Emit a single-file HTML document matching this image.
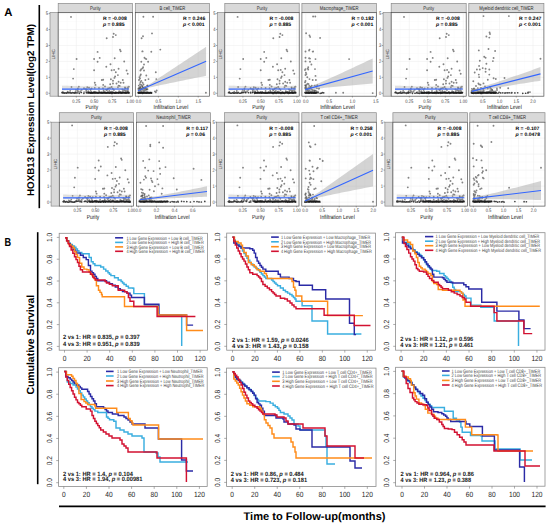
<!DOCTYPE html>
<html><head><meta charset="utf-8"><style>
html,body{margin:0;padding:0;background:#fff;}
svg{display:block;font-family:"Liberation Sans",sans-serif;text-rendering:geometricPrecision;}
</style></head><body>
<svg width="550" height="526" viewBox="0 0 550 526">
<rect width="550" height="526" fill="#fff"/>
<text x="4.2" y="15.8" font-size="11.3" fill="#000" font-weight="bold" >A</text>
<line x1="39.3" y1="5" x2="39.3" y2="208.2" stroke="#000" stroke-width="1.6" />
<text x="33.6" y="196" font-size="9.77" fill="#000" font-weight="bold" transform="rotate(-90 33.6 196)" textLength="172" lengthAdjust="spacingAndGlyphs" >HOXB13 Expression Level(log2 TPM)</text>
<rect x="50" y="12.5" width="8.2" height="83.7" fill="#d9d9d9" stroke="#8a8a8a" stroke-width="0.7" />
<text x="55.5" y="54.35" font-size="4.5" fill="#333" text-anchor="middle" transform="rotate(-90 55.5 54.35)" textLength="10.48" lengthAdjust="spacingAndGlyphs" >LIHC</text>
<line x1="48.6" y1="93.3" x2="50" y2="93.3" stroke="#555" stroke-width="0.5" />
<text x="48.1" y="95.05" font-size="5" fill="#3a3a3a" text-anchor="end" textLength="2.25" lengthAdjust="spacingAndGlyphs" >0</text>
<line x1="48.6" y1="77.36" x2="50" y2="77.36" stroke="#555" stroke-width="0.5" />
<text x="48.1" y="79.11" font-size="5" fill="#3a3a3a" text-anchor="end" textLength="2.25" lengthAdjust="spacingAndGlyphs" >1</text>
<line x1="48.6" y1="61.42" x2="50" y2="61.42" stroke="#555" stroke-width="0.5" />
<text x="48.1" y="63.17" font-size="5" fill="#3a3a3a" text-anchor="end" textLength="2.25" lengthAdjust="spacingAndGlyphs" >2</text>
<line x1="48.6" y1="45.48" x2="50" y2="45.48" stroke="#555" stroke-width="0.5" />
<text x="48.1" y="47.23" font-size="5" fill="#3a3a3a" text-anchor="end" textLength="2.25" lengthAdjust="spacingAndGlyphs" >3</text>
<line x1="48.6" y1="29.54" x2="50" y2="29.54" stroke="#555" stroke-width="0.5" />
<text x="48.1" y="31.29" font-size="5" fill="#3a3a3a" text-anchor="end" textLength="2.25" lengthAdjust="spacingAndGlyphs" >4</text>
<line x1="48.6" y1="13.6" x2="50" y2="13.6" stroke="#555" stroke-width="0.5" />
<text x="48.1" y="15.35" font-size="5" fill="#3a3a3a" text-anchor="end" textLength="2.25" lengthAdjust="spacingAndGlyphs" >5</text>
<rect x="58.2" y="3.4" width="74.2" height="9.1" fill="#d9d9d9" stroke="#8a8a8a" stroke-width="0.7" />
<text x="95.3" y="9.85" font-size="5.4" fill="#262626" text-anchor="middle" textLength="10.71" lengthAdjust="spacingAndGlyphs" >Purity</text>
<rect x="58.2" y="12.5" width="74.2" height="83.7" fill="#fff" stroke="none" stroke-width="0" />
<line x1="58.2" y1="85.33" x2="132.4" y2="85.33" stroke="#f7f7f7" stroke-width="0.4" />
<line x1="58.2" y1="69.39" x2="132.4" y2="69.39" stroke="#f7f7f7" stroke-width="0.4" />
<line x1="58.2" y1="53.45" x2="132.4" y2="53.45" stroke="#f7f7f7" stroke-width="0.4" />
<line x1="58.2" y1="37.51" x2="132.4" y2="37.51" stroke="#f7f7f7" stroke-width="0.4" />
<line x1="58.2" y1="21.57" x2="132.4" y2="21.57" stroke="#f7f7f7" stroke-width="0.4" />
<line x1="67.3" y1="12.5" x2="67.3" y2="96.2" stroke="#f7f7f7" stroke-width="0.4" />
<line x1="85.3" y1="12.5" x2="85.3" y2="96.2" stroke="#f7f7f7" stroke-width="0.4" />
<line x1="103.3" y1="12.5" x2="103.3" y2="96.2" stroke="#f7f7f7" stroke-width="0.4" />
<line x1="121.3" y1="12.5" x2="121.3" y2="96.2" stroke="#f7f7f7" stroke-width="0.4" />
<line x1="58.2" y1="93.3" x2="132.4" y2="93.3" stroke="#efefef" stroke-width="0.6" />
<line x1="58.2" y1="77.36" x2="132.4" y2="77.36" stroke="#efefef" stroke-width="0.6" />
<line x1="58.2" y1="61.42" x2="132.4" y2="61.42" stroke="#efefef" stroke-width="0.6" />
<line x1="58.2" y1="45.48" x2="132.4" y2="45.48" stroke="#efefef" stroke-width="0.6" />
<line x1="58.2" y1="29.54" x2="132.4" y2="29.54" stroke="#efefef" stroke-width="0.6" />
<line x1="58.2" y1="13.6" x2="132.4" y2="13.6" stroke="#efefef" stroke-width="0.6" />
<line x1="76.3" y1="12.5" x2="76.3" y2="96.2" stroke="#efefef" stroke-width="0.6" />
<line x1="94.3" y1="12.5" x2="94.3" y2="96.2" stroke="#efefef" stroke-width="0.6" />
<line x1="112.3" y1="12.5" x2="112.3" y2="96.2" stroke="#efefef" stroke-width="0.6" />
<line x1="130.3" y1="12.5" x2="130.3" y2="96.2" stroke="#efefef" stroke-width="0.6" />
<path d="M70.05 16.9a0.95 0.95 0 1 0 1.9 0a0.95 0.95 0 1 0 -1.9 0M105.75 38.3a0.95 0.95 0 1 0 1.9 0a0.95 0.95 0 1 0 -1.9 0M112.05 37a0.95 0.95 0 1 0 1.9 0a0.95 0.95 0 1 0 -1.9 0M112.75 33.7a0.95 0.95 0 1 0 1.9 0a0.95 0.95 0 1 0 -1.9 0M114.85 35.1a0.95 0.95 0 1 0 1.9 0a0.95 0.95 0 1 0 -1.9 0M96.65 51.9a0.95 0.95 0 1 0 1.9 0a0.95 0.95 0 1 0 -1.9 0M119.05 49.8a0.95 0.95 0 1 0 1.9 0a0.95 0.95 0 1 0 -1.9 0M119.75 51.2a0.95 0.95 0 1 0 1.9 0a0.95 0.95 0 1 0 -1.9 0M75.65 59a0.95 0.95 0 1 0 1.9 0a0.95 0.95 0 1 0 -1.9 0M93.15 59a0.95 0.95 0 1 0 1.9 0a0.95 0.95 0 1 0 -1.9 0M98.75 57.9a0.95 0.95 0 1 0 1.9 0a0.95 0.95 0 1 0 -1.9 0M113.75 58.3a0.95 0.95 0 1 0 1.9 0a0.95 0.95 0 1 0 -1.9 0M96.65 61.8a0.95 0.95 0 1 0 1.9 0a0.95 0.95 0 1 0 -1.9 0M123.25 61.5a0.95 0.95 0 1 0 1.9 0a0.95 0.95 0 1 0 -1.9 0M105.35 66.7a0.95 0.95 0 1 0 1.9 0a0.95 0.95 0 1 0 -1.9 0M109.55 64.3a0.95 0.95 0 1 0 1.9 0a0.95 0.95 0 1 0 -1.9 0M72.85 69.1a0.95 0.95 0 1 0 1.9 0a0.95 0.95 0 1 0 -1.9 0M93.15 70.2a0.95 0.95 0 1 0 1.9 0a0.95 0.95 0 1 0 -1.9 0M110.65 70.2a0.95 0.95 0 1 0 1.9 0a0.95 0.95 0 1 0 -1.9 0M113.15 69.9a0.95 0.95 0 1 0 1.9 0a0.95 0.95 0 1 0 -1.9 0M117.65 68.8a0.95 0.95 0 1 0 1.9 0a0.95 0.95 0 1 0 -1.9 0M125.65 70.5a0.95 0.95 0 1 0 1.9 0a0.95 0.95 0 1 0 -1.9 0M126.75 73.7a0.95 0.95 0 1 0 1.9 0a0.95 0.95 0 1 0 -1.9 0M114.85 72.3a0.95 0.95 0 1 0 1.9 0a0.95 0.95 0 1 0 -1.9 0M116.95 75.1a0.95 0.95 0 1 0 1.9 0a0.95 0.95 0 1 0 -1.9 0M114.15 76.5a0.95 0.95 0 1 0 1.9 0a0.95 0.95 0 1 0 -1.9 0M113.45 77.9a0.95 0.95 0 1 0 1.9 0a0.95 0.95 0 1 0 -1.9 0M72.15 78.6a0.95 0.95 0 1 0 1.9 0a0.95 0.95 0 1 0 -1.9 0M100.85 80a0.95 0.95 0 1 0 1.9 0a0.95 0.95 0 1 0 -1.9 0M102.25 79.7a0.95 0.95 0 1 0 1.9 0a0.95 0.95 0 1 0 -1.9 0M109.95 79.3a0.95 0.95 0 1 0 1.9 0a0.95 0.95 0 1 0 -1.9 0M112.05 80.7a0.95 0.95 0 1 0 1.9 0a0.95 0.95 0 1 0 -1.9 0M121.85 80a0.95 0.95 0 1 0 1.9 0a0.95 0.95 0 1 0 -1.9 0M93.85 82.8a0.95 0.95 0 1 0 1.9 0a0.95 0.95 0 1 0 -1.9 0M94.55 84.9a0.95 0.95 0 1 0 1.9 0a0.95 0.95 0 1 0 -1.9 0M102.25 84.9a0.95 0.95 0 1 0 1.9 0a0.95 0.95 0 1 0 -1.9 0M109.25 84.2a0.95 0.95 0 1 0 1.9 0a0.95 0.95 0 1 0 -1.9 0M112.05 83.5a0.95 0.95 0 1 0 1.9 0a0.95 0.95 0 1 0 -1.9 0M115.55 83.5a0.95 0.95 0 1 0 1.9 0a0.95 0.95 0 1 0 -1.9 0M117.65 81.7a0.95 0.95 0 1 0 1.9 0a0.95 0.95 0 1 0 -1.9 0M119.75 82.8a0.95 0.95 0 1 0 1.9 0a0.95 0.95 0 1 0 -1.9 0M122.55 82.8a0.95 0.95 0 1 0 1.9 0a0.95 0.95 0 1 0 -1.9 0M117.65 85.6a0.95 0.95 0 1 0 1.9 0a0.95 0.95 0 1 0 -1.9 0M118.75 85.9a0.95 0.95 0 1 0 1.9 0a0.95 0.95 0 1 0 -1.9 0M110.65 87a0.95 0.95 0 1 0 1.9 0a0.95 0.95 0 1 0 -1.9 0M104.05 86.5a0.95 0.95 0 1 0 1.9 0a0.95 0.95 0 1 0 -1.9 0M98.05 88a0.95 0.95 0 1 0 1.9 0a0.95 0.95 0 1 0 -1.9 0M107.05 88.5a0.95 0.95 0 1 0 1.9 0a0.95 0.95 0 1 0 -1.9 0M124.05 87.5a0.95 0.95 0 1 0 1.9 0a0.95 0.95 0 1 0 -1.9 0M88.05 87.8a0.95 0.95 0 1 0 1.9 0a0.95 0.95 0 1 0 -1.9 0M83.05 88.2a0.95 0.95 0 1 0 1.9 0a0.95 0.95 0 1 0 -1.9 0" fill="#555555" fill-opacity="0.72"/>
<path d="M102.73 90.38a0.9 0.9 0 1 0 1.8 0a0.9 0.9 0 1 0 -1.8 0M125.01 90.91a0.9 0.9 0 1 0 1.8 0a0.9 0.9 0 1 0 -1.8 0M105.72 90.2a0.9 0.9 0 1 0 1.8 0a0.9 0.9 0 1 0 -1.8 0M85.42 90.66a0.9 0.9 0 1 0 1.8 0a0.9 0.9 0 1 0 -1.8 0M111.87 88.64a0.9 0.9 0 1 0 1.8 0a0.9 0.9 0 1 0 -1.8 0M77.33 91.59a0.9 0.9 0 1 0 1.8 0a0.9 0.9 0 1 0 -1.8 0M76.97 88.49a0.9 0.9 0 1 0 1.8 0a0.9 0.9 0 1 0 -1.8 0M114.89 92.09a0.9 0.9 0 1 0 1.8 0a0.9 0.9 0 1 0 -1.8 0M127.38 86.98a0.9 0.9 0 1 0 1.8 0a0.9 0.9 0 1 0 -1.8 0M113.03 90.02a0.9 0.9 0 1 0 1.8 0a0.9 0.9 0 1 0 -1.8 0M83.2 92.1a0.9 0.9 0 1 0 1.8 0a0.9 0.9 0 1 0 -1.8 0M106.79 92.08a0.9 0.9 0 1 0 1.8 0a0.9 0.9 0 1 0 -1.8 0M85.85 91.78a0.9 0.9 0 1 0 1.8 0a0.9 0.9 0 1 0 -1.8 0M69.29 90.92a0.9 0.9 0 1 0 1.8 0a0.9 0.9 0 1 0 -1.8 0M102.07 88.2a0.9 0.9 0 1 0 1.8 0a0.9 0.9 0 1 0 -1.8 0M106.31 89.85a0.9 0.9 0 1 0 1.8 0a0.9 0.9 0 1 0 -1.8 0M105.29 89.69a0.9 0.9 0 1 0 1.8 0a0.9 0.9 0 1 0 -1.8 0M103 91.67a0.9 0.9 0 1 0 1.8 0a0.9 0.9 0 1 0 -1.8 0M128.01 86.65a0.9 0.9 0 1 0 1.8 0a0.9 0.9 0 1 0 -1.8 0M121.45 89.34a0.9 0.9 0 1 0 1.8 0a0.9 0.9 0 1 0 -1.8 0M94.62 91.81a0.9 0.9 0 1 0 1.8 0a0.9 0.9 0 1 0 -1.8 0M92.92 92.07a0.9 0.9 0 1 0 1.8 0a0.9 0.9 0 1 0 -1.8 0M118.21 91.22a0.9 0.9 0 1 0 1.8 0a0.9 0.9 0 1 0 -1.8 0M121.73 91.28a0.9 0.9 0 1 0 1.8 0a0.9 0.9 0 1 0 -1.8 0M126.4 88.15a0.9 0.9 0 1 0 1.8 0a0.9 0.9 0 1 0 -1.8 0M61.84 91.86a0.9 0.9 0 1 0 1.8 0a0.9 0.9 0 1 0 -1.8 0M124.43 90.89a0.9 0.9 0 1 0 1.8 0a0.9 0.9 0 1 0 -1.8 0M127.31 91.23a0.9 0.9 0 1 0 1.8 0a0.9 0.9 0 1 0 -1.8 0M75.04 89.92a0.9 0.9 0 1 0 1.8 0a0.9 0.9 0 1 0 -1.8 0M118.75 91.7a0.9 0.9 0 1 0 1.8 0a0.9 0.9 0 1 0 -1.8 0M76.6 91.49a0.9 0.9 0 1 0 1.8 0a0.9 0.9 0 1 0 -1.8 0M126.65 88.94a0.9 0.9 0 1 0 1.8 0a0.9 0.9 0 1 0 -1.8 0M79.69 91.77a0.9 0.9 0 1 0 1.8 0a0.9 0.9 0 1 0 -1.8 0M78.04 92.08a0.9 0.9 0 1 0 1.8 0a0.9 0.9 0 1 0 -1.8 0M119.57 91.93a0.9 0.9 0 1 0 1.8 0a0.9 0.9 0 1 0 -1.8 0M108.38 91a0.9 0.9 0 1 0 1.8 0a0.9 0.9 0 1 0 -1.8 0M85.89 89.15a0.9 0.9 0 1 0 1.8 0a0.9 0.9 0 1 0 -1.8 0M80.89 89.82a0.9 0.9 0 1 0 1.8 0a0.9 0.9 0 1 0 -1.8 0M79.55 91.13a0.9 0.9 0 1 0 1.8 0a0.9 0.9 0 1 0 -1.8 0M87.58 91.7a0.9 0.9 0 1 0 1.8 0a0.9 0.9 0 1 0 -1.8 0M126.92 88.55a0.9 0.9 0 1 0 1.8 0a0.9 0.9 0 1 0 -1.8 0M93.9 87.79a0.9 0.9 0 1 0 1.8 0a0.9 0.9 0 1 0 -1.8 0M87.42 91.25a0.9 0.9 0 1 0 1.8 0a0.9 0.9 0 1 0 -1.8 0M122.06 89.83a0.9 0.9 0 1 0 1.8 0a0.9 0.9 0 1 0 -1.8 0M77.96 86.72a0.9 0.9 0 1 0 1.8 0a0.9 0.9 0 1 0 -1.8 0M87.61 91.73a0.9 0.9 0 1 0 1.8 0a0.9 0.9 0 1 0 -1.8 0M118.5 91.5a0.9 0.9 0 1 0 1.8 0a0.9 0.9 0 1 0 -1.8 0M93.4 92.07a0.9 0.9 0 1 0 1.8 0a0.9 0.9 0 1 0 -1.8 0M76.91 90.23a0.9 0.9 0 1 0 1.8 0a0.9 0.9 0 1 0 -1.8 0M89.77 90.11a0.9 0.9 0 1 0 1.8 0a0.9 0.9 0 1 0 -1.8 0M98.1 90.97a0.9 0.9 0 1 0 1.8 0a0.9 0.9 0 1 0 -1.8 0M126.44 90.81a0.9 0.9 0 1 0 1.8 0a0.9 0.9 0 1 0 -1.8 0M109.15 87.97a0.9 0.9 0 1 0 1.8 0a0.9 0.9 0 1 0 -1.8 0M85.27 91.97a0.9 0.9 0 1 0 1.8 0a0.9 0.9 0 1 0 -1.8 0M124.35 88.42a0.9 0.9 0 1 0 1.8 0a0.9 0.9 0 1 0 -1.8 0M90.23 91.9a0.9 0.9 0 1 0 1.8 0a0.9 0.9 0 1 0 -1.8 0M117 87.24a0.9 0.9 0 1 0 1.8 0a0.9 0.9 0 1 0 -1.8 0M86.35 87.13a0.9 0.9 0 1 0 1.8 0a0.9 0.9 0 1 0 -1.8 0M123.25 90.1a0.9 0.9 0 1 0 1.8 0a0.9 0.9 0 1 0 -1.8 0M101 92.04a0.9 0.9 0 1 0 1.8 0a0.9 0.9 0 1 0 -1.8 0M70.62 87a0.9 0.9 0 1 0 1.8 0a0.9 0.9 0 1 0 -1.8 0M89.44 89.37a0.9 0.9 0 1 0 1.8 0a0.9 0.9 0 1 0 -1.8 0M90.75 88.37a0.9 0.9 0 1 0 1.8 0a0.9 0.9 0 1 0 -1.8 0M110.24 91.63a0.9 0.9 0 1 0 1.8 0a0.9 0.9 0 1 0 -1.8 0M84.68 89.25a0.9 0.9 0 1 0 1.8 0a0.9 0.9 0 1 0 -1.8 0M74.54 91.81a0.9 0.9 0 1 0 1.8 0a0.9 0.9 0 1 0 -1.8 0M108.38 88.1a0.9 0.9 0 1 0 1.8 0a0.9 0.9 0 1 0 -1.8 0M111.12 91.67a0.9 0.9 0 1 0 1.8 0a0.9 0.9 0 1 0 -1.8 0M124.72 91.87a0.9 0.9 0 1 0 1.8 0a0.9 0.9 0 1 0 -1.8 0M66.82 91.7a0.9 0.9 0 1 0 1.8 0a0.9 0.9 0 1 0 -1.8 0" fill="#3a3a3a" fill-opacity="0.6"/>
<rect x="87.7" y="91.85" width="42.1" height="1.8" fill="#1c1c1c" stroke="none" stroke-width="0" fill-opacity="0.82"/>
<path d="M61.08 92.59a0.85 0.85 0 1 0 1.7 0a0.85 0.85 0 1 0 -1.7 0M61.76 92.93a0.85 0.85 0 1 0 1.7 0a0.85 0.85 0 1 0 -1.7 0M62.38 92.91a0.85 0.85 0 1 0 1.7 0a0.85 0.85 0 1 0 -1.7 0M62.97 92.51a0.85 0.85 0 1 0 1.7 0a0.85 0.85 0 1 0 -1.7 0M63.44 93.19a0.85 0.85 0 1 0 1.7 0a0.85 0.85 0 1 0 -1.7 0M63.85 93.01a0.85 0.85 0 1 0 1.7 0a0.85 0.85 0 1 0 -1.7 0M64.94 92.81a0.85 0.85 0 1 0 1.7 0a0.85 0.85 0 1 0 -1.7 0M65.7 93.22a0.85 0.85 0 1 0 1.7 0a0.85 0.85 0 1 0 -1.7 0M66.32 92.56a0.85 0.85 0 1 0 1.7 0a0.85 0.85 0 1 0 -1.7 0M67.18 92.61a0.85 0.85 0 1 0 1.7 0a0.85 0.85 0 1 0 -1.7 0M67.85 92.79a0.85 0.85 0 1 0 1.7 0a0.85 0.85 0 1 0 -1.7 0M68.35 92.5a0.85 0.85 0 1 0 1.7 0a0.85 0.85 0 1 0 -1.7 0M69.13 92.83a0.85 0.85 0 1 0 1.7 0a0.85 0.85 0 1 0 -1.7 0M69.69 92.86a0.85 0.85 0 1 0 1.7 0a0.85 0.85 0 1 0 -1.7 0M70.36 93.08a0.85 0.85 0 1 0 1.7 0a0.85 0.85 0 1 0 -1.7 0M70.83 92.92a0.85 0.85 0 1 0 1.7 0a0.85 0.85 0 1 0 -1.7 0M71.8 92.71a0.85 0.85 0 1 0 1.7 0a0.85 0.85 0 1 0 -1.7 0M72.53 92.83a0.85 0.85 0 1 0 1.7 0a0.85 0.85 0 1 0 -1.7 0M73.38 92.89a0.85 0.85 0 1 0 1.7 0a0.85 0.85 0 1 0 -1.7 0M74.03 93.14a0.85 0.85 0 1 0 1.7 0a0.85 0.85 0 1 0 -1.7 0M74.86 92.73a0.85 0.85 0 1 0 1.7 0a0.85 0.85 0 1 0 -1.7 0M76.19 92.97a0.85 0.85 0 1 0 1.7 0a0.85 0.85 0 1 0 -1.7 0M78.41 93.3a0.85 0.85 0 1 0 1.7 0a0.85 0.85 0 1 0 -1.7 0M80.49 92.5a0.85 0.85 0 1 0 1.7 0a0.85 0.85 0 1 0 -1.7 0M83.04 93.34a0.85 0.85 0 1 0 1.7 0a0.85 0.85 0 1 0 -1.7 0M85.66 92.8a0.85 0.85 0 1 0 1.7 0a0.85 0.85 0 1 0 -1.7 0M86.96 92.87a0.85 0.85 0 1 0 1.7 0a0.85 0.85 0 1 0 -1.7 0M87.51 92.5a0.85 0.85 0 1 0 1.7 0a0.85 0.85 0 1 0 -1.7 0M88.37 92.67a0.85 0.85 0 1 0 1.7 0a0.85 0.85 0 1 0 -1.7 0M89.3 92.52a0.85 0.85 0 1 0 1.7 0a0.85 0.85 0 1 0 -1.7 0M89.84 93.25a0.85 0.85 0 1 0 1.7 0a0.85 0.85 0 1 0 -1.7 0M90.85 92.7a0.85 0.85 0 1 0 1.7 0a0.85 0.85 0 1 0 -1.7 0M91.3 93.25a0.85 0.85 0 1 0 1.7 0a0.85 0.85 0 1 0 -1.7 0M92.17 92.61a0.85 0.85 0 1 0 1.7 0a0.85 0.85 0 1 0 -1.7 0M92.76 92.89a0.85 0.85 0 1 0 1.7 0a0.85 0.85 0 1 0 -1.7 0M93.52 92.45a0.85 0.85 0 1 0 1.7 0a0.85 0.85 0 1 0 -1.7 0M94.21 92.96a0.85 0.85 0 1 0 1.7 0a0.85 0.85 0 1 0 -1.7 0M95.3 92.91a0.85 0.85 0 1 0 1.7 0a0.85 0.85 0 1 0 -1.7 0M96.06 92.5a0.85 0.85 0 1 0 1.7 0a0.85 0.85 0 1 0 -1.7 0M97.02 93.24a0.85 0.85 0 1 0 1.7 0a0.85 0.85 0 1 0 -1.7 0M97.73 92.81a0.85 0.85 0 1 0 1.7 0a0.85 0.85 0 1 0 -1.7 0M98.31 92.51a0.85 0.85 0 1 0 1.7 0a0.85 0.85 0 1 0 -1.7 0M98.6 92.6a0.85 0.85 0 1 0 1.7 0a0.85 0.85 0 1 0 -1.7 0M99.14 92.45a0.85 0.85 0 1 0 1.7 0a0.85 0.85 0 1 0 -1.7 0M99.67 92.78a0.85 0.85 0 1 0 1.7 0a0.85 0.85 0 1 0 -1.7 0M100.41 93a0.85 0.85 0 1 0 1.7 0a0.85 0.85 0 1 0 -1.7 0M100.67 92.76a0.85 0.85 0 1 0 1.7 0a0.85 0.85 0 1 0 -1.7 0M101.24 93.21a0.85 0.85 0 1 0 1.7 0a0.85 0.85 0 1 0 -1.7 0M102.35 92.89a0.85 0.85 0 1 0 1.7 0a0.85 0.85 0 1 0 -1.7 0M102.67 92.76a0.85 0.85 0 1 0 1.7 0a0.85 0.85 0 1 0 -1.7 0M103.53 92.6a0.85 0.85 0 1 0 1.7 0a0.85 0.85 0 1 0 -1.7 0M104.02 92.93a0.85 0.85 0 1 0 1.7 0a0.85 0.85 0 1 0 -1.7 0M104.35 92.47a0.85 0.85 0 1 0 1.7 0a0.85 0.85 0 1 0 -1.7 0M105.24 93.23a0.85 0.85 0 1 0 1.7 0a0.85 0.85 0 1 0 -1.7 0M105.77 92.78a0.85 0.85 0 1 0 1.7 0a0.85 0.85 0 1 0 -1.7 0M106.48 92.93a0.85 0.85 0 1 0 1.7 0a0.85 0.85 0 1 0 -1.7 0M107.16 92.65a0.85 0.85 0 1 0 1.7 0a0.85 0.85 0 1 0 -1.7 0M108.3 93.22a0.85 0.85 0 1 0 1.7 0a0.85 0.85 0 1 0 -1.7 0M109.11 93.12a0.85 0.85 0 1 0 1.7 0a0.85 0.85 0 1 0 -1.7 0M109.53 92.77a0.85 0.85 0 1 0 1.7 0a0.85 0.85 0 1 0 -1.7 0M109.77 92.7a0.85 0.85 0 1 0 1.7 0a0.85 0.85 0 1 0 -1.7 0M110.6 93.31a0.85 0.85 0 1 0 1.7 0a0.85 0.85 0 1 0 -1.7 0M111.37 93.34a0.85 0.85 0 1 0 1.7 0a0.85 0.85 0 1 0 -1.7 0M112.1 92.65a0.85 0.85 0 1 0 1.7 0a0.85 0.85 0 1 0 -1.7 0M112.58 92.63a0.85 0.85 0 1 0 1.7 0a0.85 0.85 0 1 0 -1.7 0M113.63 93.21a0.85 0.85 0 1 0 1.7 0a0.85 0.85 0 1 0 -1.7 0M114.22 93.17a0.85 0.85 0 1 0 1.7 0a0.85 0.85 0 1 0 -1.7 0M114.69 93.27a0.85 0.85 0 1 0 1.7 0a0.85 0.85 0 1 0 -1.7 0M115.58 92.88a0.85 0.85 0 1 0 1.7 0a0.85 0.85 0 1 0 -1.7 0M116.12 92.75a0.85 0.85 0 1 0 1.7 0a0.85 0.85 0 1 0 -1.7 0M117.06 92.81a0.85 0.85 0 1 0 1.7 0a0.85 0.85 0 1 0 -1.7 0M117.69 93.1a0.85 0.85 0 1 0 1.7 0a0.85 0.85 0 1 0 -1.7 0M117.88 92.59a0.85 0.85 0 1 0 1.7 0a0.85 0.85 0 1 0 -1.7 0M119.08 92.58a0.85 0.85 0 1 0 1.7 0a0.85 0.85 0 1 0 -1.7 0M120.03 93.04a0.85 0.85 0 1 0 1.7 0a0.85 0.85 0 1 0 -1.7 0M120.48 92.57a0.85 0.85 0 1 0 1.7 0a0.85 0.85 0 1 0 -1.7 0M121.07 93.03a0.85 0.85 0 1 0 1.7 0a0.85 0.85 0 1 0 -1.7 0M121.77 92.84a0.85 0.85 0 1 0 1.7 0a0.85 0.85 0 1 0 -1.7 0M122.64 92.64a0.85 0.85 0 1 0 1.7 0a0.85 0.85 0 1 0 -1.7 0M122.99 92.67a0.85 0.85 0 1 0 1.7 0a0.85 0.85 0 1 0 -1.7 0M123.72 92.83a0.85 0.85 0 1 0 1.7 0a0.85 0.85 0 1 0 -1.7 0M124.47 92.77a0.85 0.85 0 1 0 1.7 0a0.85 0.85 0 1 0 -1.7 0M125.02 93.26a0.85 0.85 0 1 0 1.7 0a0.85 0.85 0 1 0 -1.7 0M125.81 92.9a0.85 0.85 0 1 0 1.7 0a0.85 0.85 0 1 0 -1.7 0M126.37 92.47a0.85 0.85 0 1 0 1.7 0a0.85 0.85 0 1 0 -1.7 0M126.9 92.45a0.85 0.85 0 1 0 1.7 0a0.85 0.85 0 1 0 -1.7 0M127.76 92.88a0.85 0.85 0 1 0 1.7 0a0.85 0.85 0 1 0 -1.7 0" fill="#151515" fill-opacity="0.8"/>
<path d="M62 85.7L64.8 85.77L67.59 85.84L70.39 85.9L73.18 85.96L75.98 86.02L78.78 86.08L81.57 86.13L84.37 86.17L87.16 86.21L89.96 86.25L92.75 86.28L95.55 86.3L98.35 86.32L101.14 86.33L103.94 86.34L106.73 86.33L109.53 86.31L112.32 86.28L115.12 86.22L117.92 86.14L120.71 86.05L123.51 85.94L126.3 85.83L129.1 85.7L129.1 90.3L126.3 90.18L123.51 90.07L120.71 89.98L117.92 89.89L115.12 89.82L112.32 89.77L109.53 89.74L106.73 89.73L103.94 89.74L101.14 89.75L98.35 89.77L95.55 89.8L92.75 89.83L89.96 89.87L87.16 89.91L84.37 89.96L81.57 90.02L78.78 90.07L75.98 90.14L73.18 90.2L70.39 90.27L67.59 90.35L64.8 90.42L62 90.5Z" stroke="none" stroke-width="0" fill="#999" fill-opacity="0.3"/>
<line x1="62" y1="89.1" x2="129.1" y2="89" stroke="#3366FF" stroke-width="1.1" />
<rect x="58.2" y="12.5" width="74.2" height="83.7" fill="none" stroke="#4d4d4d" stroke-width="0.7" />
<text x="102.9" y="20.3" font-size="4.9" fill="#000" font-weight="bold" textLength="23.95" lengthAdjust="spacingAndGlyphs" >R = -0.008</text>
<text x="102.9" y="26.3" font-size="4.9" font-weight="bold" textLength="21.69" lengthAdjust="spacingAndGlyphs"><tspan font-style="italic">p</tspan> = 0.885</text>
<line x1="76.3" y1="96.2" x2="76.3" y2="97.5" stroke="#555" stroke-width="0.5" />
<text x="76.3" y="102.8" font-size="5" fill="#3a3a3a" text-anchor="middle" textLength="7.88" lengthAdjust="spacingAndGlyphs" >0.25</text>
<line x1="94.3" y1="96.2" x2="94.3" y2="97.5" stroke="#555" stroke-width="0.5" />
<text x="94.3" y="102.8" font-size="5" fill="#3a3a3a" text-anchor="middle" textLength="7.88" lengthAdjust="spacingAndGlyphs" >0.50</text>
<line x1="112.3" y1="96.2" x2="112.3" y2="97.5" stroke="#555" stroke-width="0.5" />
<text x="112.3" y="102.8" font-size="5" fill="#3a3a3a" text-anchor="middle" textLength="7.88" lengthAdjust="spacingAndGlyphs" >0.75</text>
<line x1="130.3" y1="96.2" x2="130.3" y2="97.5" stroke="#555" stroke-width="0.5" />
<text x="130.3" y="102.8" font-size="5" fill="#3a3a3a" text-anchor="middle" textLength="7.88" lengthAdjust="spacingAndGlyphs" >1.00</text>
<text x="91.9" y="109.3" font-size="6" fill="#111" text-anchor="middle" textLength="12.65" lengthAdjust="spacingAndGlyphs" >Purity</text>
<rect x="51.1" y="122.2" width="8.2" height="83.9" fill="#d9d9d9" stroke="#8a8a8a" stroke-width="0.7" />
<text x="56.6" y="164.15" font-size="4.5" fill="#333" text-anchor="middle" transform="rotate(-90 56.6 164.15)" textLength="10.48" lengthAdjust="spacingAndGlyphs" >LIHC</text>
<line x1="49.7" y1="202.1" x2="51.1" y2="202.1" stroke="#555" stroke-width="0.5" />
<text x="49.2" y="203.85" font-size="5" fill="#3a3a3a" text-anchor="end" textLength="2.25" lengthAdjust="spacingAndGlyphs" >0</text>
<line x1="49.7" y1="186.1" x2="51.1" y2="186.1" stroke="#555" stroke-width="0.5" />
<text x="49.2" y="187.85" font-size="5" fill="#3a3a3a" text-anchor="end" textLength="2.25" lengthAdjust="spacingAndGlyphs" >1</text>
<line x1="49.7" y1="170.1" x2="51.1" y2="170.1" stroke="#555" stroke-width="0.5" />
<text x="49.2" y="171.85" font-size="5" fill="#3a3a3a" text-anchor="end" textLength="2.25" lengthAdjust="spacingAndGlyphs" >2</text>
<line x1="49.7" y1="154.1" x2="51.1" y2="154.1" stroke="#555" stroke-width="0.5" />
<text x="49.2" y="155.85" font-size="5" fill="#3a3a3a" text-anchor="end" textLength="2.25" lengthAdjust="spacingAndGlyphs" >3</text>
<line x1="49.7" y1="138.1" x2="51.1" y2="138.1" stroke="#555" stroke-width="0.5" />
<text x="49.2" y="139.85" font-size="5" fill="#3a3a3a" text-anchor="end" textLength="2.25" lengthAdjust="spacingAndGlyphs" >4</text>
<line x1="49.7" y1="122.1" x2="51.1" y2="122.1" stroke="#555" stroke-width="0.5" />
<text x="49.2" y="123.85" font-size="5" fill="#3a3a3a" text-anchor="end" textLength="2.25" lengthAdjust="spacingAndGlyphs" >5</text>
<rect x="59.3" y="112.7" width="74.3" height="9.5" fill="#d9d9d9" stroke="#8a8a8a" stroke-width="0.7" />
<text x="96.45" y="119.35" font-size="5.4" fill="#262626" text-anchor="middle" textLength="10.71" lengthAdjust="spacingAndGlyphs" >Purity</text>
<rect x="59.3" y="122.2" width="74.3" height="83.9" fill="#fff" stroke="none" stroke-width="0" />
<line x1="59.3" y1="194.1" x2="133.6" y2="194.1" stroke="#f7f7f7" stroke-width="0.4" />
<line x1="59.3" y1="178.1" x2="133.6" y2="178.1" stroke="#f7f7f7" stroke-width="0.4" />
<line x1="59.3" y1="162.1" x2="133.6" y2="162.1" stroke="#f7f7f7" stroke-width="0.4" />
<line x1="59.3" y1="146.1" x2="133.6" y2="146.1" stroke="#f7f7f7" stroke-width="0.4" />
<line x1="59.3" y1="130.1" x2="133.6" y2="130.1" stroke="#f7f7f7" stroke-width="0.4" />
<line x1="68.4" y1="122.2" x2="68.4" y2="206.1" stroke="#f7f7f7" stroke-width="0.4" />
<line x1="86.4" y1="122.2" x2="86.4" y2="206.1" stroke="#f7f7f7" stroke-width="0.4" />
<line x1="104.4" y1="122.2" x2="104.4" y2="206.1" stroke="#f7f7f7" stroke-width="0.4" />
<line x1="122.4" y1="122.2" x2="122.4" y2="206.1" stroke="#f7f7f7" stroke-width="0.4" />
<line x1="59.3" y1="202.1" x2="133.6" y2="202.1" stroke="#efefef" stroke-width="0.6" />
<line x1="59.3" y1="186.1" x2="133.6" y2="186.1" stroke="#efefef" stroke-width="0.6" />
<line x1="59.3" y1="170.1" x2="133.6" y2="170.1" stroke="#efefef" stroke-width="0.6" />
<line x1="59.3" y1="154.1" x2="133.6" y2="154.1" stroke="#efefef" stroke-width="0.6" />
<line x1="59.3" y1="138.1" x2="133.6" y2="138.1" stroke="#efefef" stroke-width="0.6" />
<line x1="59.3" y1="122.1" x2="133.6" y2="122.1" stroke="#efefef" stroke-width="0.6" />
<line x1="77.4" y1="122.2" x2="77.4" y2="206.1" stroke="#efefef" stroke-width="0.6" />
<line x1="95.4" y1="122.2" x2="95.4" y2="206.1" stroke="#efefef" stroke-width="0.6" />
<line x1="113.4" y1="122.2" x2="113.4" y2="206.1" stroke="#efefef" stroke-width="0.6" />
<line x1="131.4" y1="122.2" x2="131.4" y2="206.1" stroke="#efefef" stroke-width="0.6" />
<path d="M71.15 125.41a0.95 0.95 0 1 0 1.9 0a0.95 0.95 0 1 0 -1.9 0M106.85 146.89a0.95 0.95 0 1 0 1.9 0a0.95 0.95 0 1 0 -1.9 0M113.15 145.59a0.95 0.95 0 1 0 1.9 0a0.95 0.95 0 1 0 -1.9 0M113.85 142.28a0.95 0.95 0 1 0 1.9 0a0.95 0.95 0 1 0 -1.9 0M115.95 143.68a0.95 0.95 0 1 0 1.9 0a0.95 0.95 0 1 0 -1.9 0M97.75 160.54a0.95 0.95 0 1 0 1.9 0a0.95 0.95 0 1 0 -1.9 0M120.15 158.44a0.95 0.95 0 1 0 1.9 0a0.95 0.95 0 1 0 -1.9 0M120.85 159.84a0.95 0.95 0 1 0 1.9 0a0.95 0.95 0 1 0 -1.9 0M76.75 167.67a0.95 0.95 0 1 0 1.9 0a0.95 0.95 0 1 0 -1.9 0M94.25 167.67a0.95 0.95 0 1 0 1.9 0a0.95 0.95 0 1 0 -1.9 0M99.85 166.57a0.95 0.95 0 1 0 1.9 0a0.95 0.95 0 1 0 -1.9 0M114.85 166.97a0.95 0.95 0 1 0 1.9 0a0.95 0.95 0 1 0 -1.9 0M97.75 170.48a0.95 0.95 0 1 0 1.9 0a0.95 0.95 0 1 0 -1.9 0M124.35 170.18a0.95 0.95 0 1 0 1.9 0a0.95 0.95 0 1 0 -1.9 0M106.45 175.4a0.95 0.95 0 1 0 1.9 0a0.95 0.95 0 1 0 -1.9 0M110.65 172.99a0.95 0.95 0 1 0 1.9 0a0.95 0.95 0 1 0 -1.9 0M73.95 177.81a0.95 0.95 0 1 0 1.9 0a0.95 0.95 0 1 0 -1.9 0M94.25 178.91a0.95 0.95 0 1 0 1.9 0a0.95 0.95 0 1 0 -1.9 0M111.75 178.91a0.95 0.95 0 1 0 1.9 0a0.95 0.95 0 1 0 -1.9 0M114.25 178.61a0.95 0.95 0 1 0 1.9 0a0.95 0.95 0 1 0 -1.9 0M118.75 177.51a0.95 0.95 0 1 0 1.9 0a0.95 0.95 0 1 0 -1.9 0M126.75 179.21a0.95 0.95 0 1 0 1.9 0a0.95 0.95 0 1 0 -1.9 0M127.85 182.43a0.95 0.95 0 1 0 1.9 0a0.95 0.95 0 1 0 -1.9 0M115.95 181.02a0.95 0.95 0 1 0 1.9 0a0.95 0.95 0 1 0 -1.9 0M118.05 183.83a0.95 0.95 0 1 0 1.9 0a0.95 0.95 0 1 0 -1.9 0M115.25 185.24a0.95 0.95 0 1 0 1.9 0a0.95 0.95 0 1 0 -1.9 0M114.55 186.64a0.95 0.95 0 1 0 1.9 0a0.95 0.95 0 1 0 -1.9 0M73.25 187.34a0.95 0.95 0 1 0 1.9 0a0.95 0.95 0 1 0 -1.9 0M101.95 188.75a0.95 0.95 0 1 0 1.9 0a0.95 0.95 0 1 0 -1.9 0M103.35 188.45a0.95 0.95 0 1 0 1.9 0a0.95 0.95 0 1 0 -1.9 0M111.05 188.05a0.95 0.95 0 1 0 1.9 0a0.95 0.95 0 1 0 -1.9 0M113.15 189.45a0.95 0.95 0 1 0 1.9 0a0.95 0.95 0 1 0 -1.9 0M122.95 188.75a0.95 0.95 0 1 0 1.9 0a0.95 0.95 0 1 0 -1.9 0M94.95 191.56a0.95 0.95 0 1 0 1.9 0a0.95 0.95 0 1 0 -1.9 0M95.65 193.67a0.95 0.95 0 1 0 1.9 0a0.95 0.95 0 1 0 -1.9 0M103.35 193.67a0.95 0.95 0 1 0 1.9 0a0.95 0.95 0 1 0 -1.9 0M110.35 192.97a0.95 0.95 0 1 0 1.9 0a0.95 0.95 0 1 0 -1.9 0M113.15 192.26a0.95 0.95 0 1 0 1.9 0a0.95 0.95 0 1 0 -1.9 0M116.65 192.26a0.95 0.95 0 1 0 1.9 0a0.95 0.95 0 1 0 -1.9 0M118.75 190.46a0.95 0.95 0 1 0 1.9 0a0.95 0.95 0 1 0 -1.9 0M120.85 191.56a0.95 0.95 0 1 0 1.9 0a0.95 0.95 0 1 0 -1.9 0M123.65 191.56a0.95 0.95 0 1 0 1.9 0a0.95 0.95 0 1 0 -1.9 0M118.75 194.37a0.95 0.95 0 1 0 1.9 0a0.95 0.95 0 1 0 -1.9 0M119.85 194.67a0.95 0.95 0 1 0 1.9 0a0.95 0.95 0 1 0 -1.9 0M111.75 195.78a0.95 0.95 0 1 0 1.9 0a0.95 0.95 0 1 0 -1.9 0M105.15 195.27a0.95 0.95 0 1 0 1.9 0a0.95 0.95 0 1 0 -1.9 0M99.15 196.78a0.95 0.95 0 1 0 1.9 0a0.95 0.95 0 1 0 -1.9 0M108.15 197.28a0.95 0.95 0 1 0 1.9 0a0.95 0.95 0 1 0 -1.9 0M125.15 196.28a0.95 0.95 0 1 0 1.9 0a0.95 0.95 0 1 0 -1.9 0M89.15 196.58a0.95 0.95 0 1 0 1.9 0a0.95 0.95 0 1 0 -1.9 0M84.15 196.98a0.95 0.95 0 1 0 1.9 0a0.95 0.95 0 1 0 -1.9 0" fill="#555555" fill-opacity="0.72"/>
<path d="M103.83 199.18a0.9 0.9 0 1 0 1.8 0a0.9 0.9 0 1 0 -1.8 0M126.11 199.71a0.9 0.9 0 1 0 1.8 0a0.9 0.9 0 1 0 -1.8 0M106.82 199a0.9 0.9 0 1 0 1.8 0a0.9 0.9 0 1 0 -1.8 0M86.52 199.46a0.9 0.9 0 1 0 1.8 0a0.9 0.9 0 1 0 -1.8 0M112.97 197.44a0.9 0.9 0 1 0 1.8 0a0.9 0.9 0 1 0 -1.8 0M78.43 200.39a0.9 0.9 0 1 0 1.8 0a0.9 0.9 0 1 0 -1.8 0M78.07 197.29a0.9 0.9 0 1 0 1.8 0a0.9 0.9 0 1 0 -1.8 0M115.99 200.89a0.9 0.9 0 1 0 1.8 0a0.9 0.9 0 1 0 -1.8 0M128.48 195.78a0.9 0.9 0 1 0 1.8 0a0.9 0.9 0 1 0 -1.8 0M114.13 198.82a0.9 0.9 0 1 0 1.8 0a0.9 0.9 0 1 0 -1.8 0M84.3 200.9a0.9 0.9 0 1 0 1.8 0a0.9 0.9 0 1 0 -1.8 0M107.89 200.88a0.9 0.9 0 1 0 1.8 0a0.9 0.9 0 1 0 -1.8 0M86.95 200.58a0.9 0.9 0 1 0 1.8 0a0.9 0.9 0 1 0 -1.8 0M70.39 199.72a0.9 0.9 0 1 0 1.8 0a0.9 0.9 0 1 0 -1.8 0M103.17 197a0.9 0.9 0 1 0 1.8 0a0.9 0.9 0 1 0 -1.8 0M107.41 198.65a0.9 0.9 0 1 0 1.8 0a0.9 0.9 0 1 0 -1.8 0M106.39 198.49a0.9 0.9 0 1 0 1.8 0a0.9 0.9 0 1 0 -1.8 0M104.1 200.47a0.9 0.9 0 1 0 1.8 0a0.9 0.9 0 1 0 -1.8 0M129.11 195.45a0.9 0.9 0 1 0 1.8 0a0.9 0.9 0 1 0 -1.8 0M122.55 198.14a0.9 0.9 0 1 0 1.8 0a0.9 0.9 0 1 0 -1.8 0M95.72 200.61a0.9 0.9 0 1 0 1.8 0a0.9 0.9 0 1 0 -1.8 0M94.02 200.87a0.9 0.9 0 1 0 1.8 0a0.9 0.9 0 1 0 -1.8 0M119.31 200.02a0.9 0.9 0 1 0 1.8 0a0.9 0.9 0 1 0 -1.8 0M122.83 200.08a0.9 0.9 0 1 0 1.8 0a0.9 0.9 0 1 0 -1.8 0M127.5 196.95a0.9 0.9 0 1 0 1.8 0a0.9 0.9 0 1 0 -1.8 0M62.94 200.66a0.9 0.9 0 1 0 1.8 0a0.9 0.9 0 1 0 -1.8 0M125.53 199.69a0.9 0.9 0 1 0 1.8 0a0.9 0.9 0 1 0 -1.8 0M128.41 200.03a0.9 0.9 0 1 0 1.8 0a0.9 0.9 0 1 0 -1.8 0M76.14 198.72a0.9 0.9 0 1 0 1.8 0a0.9 0.9 0 1 0 -1.8 0M119.85 200.5a0.9 0.9 0 1 0 1.8 0a0.9 0.9 0 1 0 -1.8 0M77.7 200.29a0.9 0.9 0 1 0 1.8 0a0.9 0.9 0 1 0 -1.8 0M127.75 197.74a0.9 0.9 0 1 0 1.8 0a0.9 0.9 0 1 0 -1.8 0M80.79 200.57a0.9 0.9 0 1 0 1.8 0a0.9 0.9 0 1 0 -1.8 0M79.14 200.88a0.9 0.9 0 1 0 1.8 0a0.9 0.9 0 1 0 -1.8 0M120.67 200.73a0.9 0.9 0 1 0 1.8 0a0.9 0.9 0 1 0 -1.8 0M109.48 199.8a0.9 0.9 0 1 0 1.8 0a0.9 0.9 0 1 0 -1.8 0M86.99 197.95a0.9 0.9 0 1 0 1.8 0a0.9 0.9 0 1 0 -1.8 0M81.99 198.62a0.9 0.9 0 1 0 1.8 0a0.9 0.9 0 1 0 -1.8 0M80.65 199.93a0.9 0.9 0 1 0 1.8 0a0.9 0.9 0 1 0 -1.8 0M88.68 200.5a0.9 0.9 0 1 0 1.8 0a0.9 0.9 0 1 0 -1.8 0M128.02 197.35a0.9 0.9 0 1 0 1.8 0a0.9 0.9 0 1 0 -1.8 0M95 196.59a0.9 0.9 0 1 0 1.8 0a0.9 0.9 0 1 0 -1.8 0M88.52 200.05a0.9 0.9 0 1 0 1.8 0a0.9 0.9 0 1 0 -1.8 0M123.16 198.63a0.9 0.9 0 1 0 1.8 0a0.9 0.9 0 1 0 -1.8 0M79.06 195.52a0.9 0.9 0 1 0 1.8 0a0.9 0.9 0 1 0 -1.8 0M88.71 200.53a0.9 0.9 0 1 0 1.8 0a0.9 0.9 0 1 0 -1.8 0M119.6 200.3a0.9 0.9 0 1 0 1.8 0a0.9 0.9 0 1 0 -1.8 0M94.5 200.87a0.9 0.9 0 1 0 1.8 0a0.9 0.9 0 1 0 -1.8 0M78.01 199.03a0.9 0.9 0 1 0 1.8 0a0.9 0.9 0 1 0 -1.8 0M90.87 198.91a0.9 0.9 0 1 0 1.8 0a0.9 0.9 0 1 0 -1.8 0M99.2 199.77a0.9 0.9 0 1 0 1.8 0a0.9 0.9 0 1 0 -1.8 0M127.54 199.61a0.9 0.9 0 1 0 1.8 0a0.9 0.9 0 1 0 -1.8 0M110.25 196.77a0.9 0.9 0 1 0 1.8 0a0.9 0.9 0 1 0 -1.8 0M86.37 200.77a0.9 0.9 0 1 0 1.8 0a0.9 0.9 0 1 0 -1.8 0M125.45 197.22a0.9 0.9 0 1 0 1.8 0a0.9 0.9 0 1 0 -1.8 0M91.33 200.7a0.9 0.9 0 1 0 1.8 0a0.9 0.9 0 1 0 -1.8 0M118.1 196.04a0.9 0.9 0 1 0 1.8 0a0.9 0.9 0 1 0 -1.8 0M87.45 195.93a0.9 0.9 0 1 0 1.8 0a0.9 0.9 0 1 0 -1.8 0M124.35 198.9a0.9 0.9 0 1 0 1.8 0a0.9 0.9 0 1 0 -1.8 0M102.1 200.84a0.9 0.9 0 1 0 1.8 0a0.9 0.9 0 1 0 -1.8 0M71.72 195.8a0.9 0.9 0 1 0 1.8 0a0.9 0.9 0 1 0 -1.8 0M90.54 198.17a0.9 0.9 0 1 0 1.8 0a0.9 0.9 0 1 0 -1.8 0M91.85 197.17a0.9 0.9 0 1 0 1.8 0a0.9 0.9 0 1 0 -1.8 0M111.34 200.43a0.9 0.9 0 1 0 1.8 0a0.9 0.9 0 1 0 -1.8 0M85.78 198.05a0.9 0.9 0 1 0 1.8 0a0.9 0.9 0 1 0 -1.8 0M75.64 200.61a0.9 0.9 0 1 0 1.8 0a0.9 0.9 0 1 0 -1.8 0M109.48 196.9a0.9 0.9 0 1 0 1.8 0a0.9 0.9 0 1 0 -1.8 0M112.22 200.47a0.9 0.9 0 1 0 1.8 0a0.9 0.9 0 1 0 -1.8 0M125.82 200.67a0.9 0.9 0 1 0 1.8 0a0.9 0.9 0 1 0 -1.8 0M67.92 200.5a0.9 0.9 0 1 0 1.8 0a0.9 0.9 0 1 0 -1.8 0" fill="#3a3a3a" fill-opacity="0.6"/>
<rect x="88.8" y="200.65" width="42.1" height="1.8" fill="#1c1c1c" stroke="none" stroke-width="0" fill-opacity="0.82"/>
<path d="M62.27 201.54a0.85 0.85 0 1 0 1.7 0a0.85 0.85 0 1 0 -1.7 0M62.98 201.96a0.85 0.85 0 1 0 1.7 0a0.85 0.85 0 1 0 -1.7 0M63.46 201.47a0.85 0.85 0 1 0 1.7 0a0.85 0.85 0 1 0 -1.7 0M64.12 201.71a0.85 0.85 0 1 0 1.7 0a0.85 0.85 0 1 0 -1.7 0M64.85 202.07a0.85 0.85 0 1 0 1.7 0a0.85 0.85 0 1 0 -1.7 0M65.46 201.7a0.85 0.85 0 1 0 1.7 0a0.85 0.85 0 1 0 -1.7 0M66.2 201.66a0.85 0.85 0 1 0 1.7 0a0.85 0.85 0 1 0 -1.7 0M66.83 202.1a0.85 0.85 0 1 0 1.7 0a0.85 0.85 0 1 0 -1.7 0M67.81 202.1a0.85 0.85 0 1 0 1.7 0a0.85 0.85 0 1 0 -1.7 0M68.24 202.1a0.85 0.85 0 1 0 1.7 0a0.85 0.85 0 1 0 -1.7 0M68.97 201.36a0.85 0.85 0 1 0 1.7 0a0.85 0.85 0 1 0 -1.7 0M69.61 201.47a0.85 0.85 0 1 0 1.7 0a0.85 0.85 0 1 0 -1.7 0M70.31 201.96a0.85 0.85 0 1 0 1.7 0a0.85 0.85 0 1 0 -1.7 0M71.02 201.89a0.85 0.85 0 1 0 1.7 0a0.85 0.85 0 1 0 -1.7 0M71.81 202.04a0.85 0.85 0 1 0 1.7 0a0.85 0.85 0 1 0 -1.7 0M72.8 202.11a0.85 0.85 0 1 0 1.7 0a0.85 0.85 0 1 0 -1.7 0M73.55 202.14a0.85 0.85 0 1 0 1.7 0a0.85 0.85 0 1 0 -1.7 0M74.31 201.64a0.85 0.85 0 1 0 1.7 0a0.85 0.85 0 1 0 -1.7 0M75.09 201.43a0.85 0.85 0 1 0 1.7 0a0.85 0.85 0 1 0 -1.7 0M75.84 201.27a0.85 0.85 0 1 0 1.7 0a0.85 0.85 0 1 0 -1.7 0M77.23 201.27a0.85 0.85 0 1 0 1.7 0a0.85 0.85 0 1 0 -1.7 0M79.2 201.71a0.85 0.85 0 1 0 1.7 0a0.85 0.85 0 1 0 -1.7 0M80.78 201.96a0.85 0.85 0 1 0 1.7 0a0.85 0.85 0 1 0 -1.7 0M83.46 201.49a0.85 0.85 0 1 0 1.7 0a0.85 0.85 0 1 0 -1.7 0M85.12 201.49a0.85 0.85 0 1 0 1.7 0a0.85 0.85 0 1 0 -1.7 0M86.52 202.07a0.85 0.85 0 1 0 1.7 0a0.85 0.85 0 1 0 -1.7 0M88.15 201.38a0.85 0.85 0 1 0 1.7 0a0.85 0.85 0 1 0 -1.7 0M89.21 201.88a0.85 0.85 0 1 0 1.7 0a0.85 0.85 0 1 0 -1.7 0M89.48 201.87a0.85 0.85 0 1 0 1.7 0a0.85 0.85 0 1 0 -1.7 0M90.14 202.09a0.85 0.85 0 1 0 1.7 0a0.85 0.85 0 1 0 -1.7 0M91.21 201.33a0.85 0.85 0 1 0 1.7 0a0.85 0.85 0 1 0 -1.7 0M91.81 202.03a0.85 0.85 0 1 0 1.7 0a0.85 0.85 0 1 0 -1.7 0M92.6 201.75a0.85 0.85 0 1 0 1.7 0a0.85 0.85 0 1 0 -1.7 0M93.51 201.37a0.85 0.85 0 1 0 1.7 0a0.85 0.85 0 1 0 -1.7 0M94.21 201.35a0.85 0.85 0 1 0 1.7 0a0.85 0.85 0 1 0 -1.7 0M94.65 201.43a0.85 0.85 0 1 0 1.7 0a0.85 0.85 0 1 0 -1.7 0M95.34 201.93a0.85 0.85 0 1 0 1.7 0a0.85 0.85 0 1 0 -1.7 0M96 201.41a0.85 0.85 0 1 0 1.7 0a0.85 0.85 0 1 0 -1.7 0M96.42 201.48a0.85 0.85 0 1 0 1.7 0a0.85 0.85 0 1 0 -1.7 0M97.14 201.75a0.85 0.85 0 1 0 1.7 0a0.85 0.85 0 1 0 -1.7 0M97.56 202.09a0.85 0.85 0 1 0 1.7 0a0.85 0.85 0 1 0 -1.7 0M98.18 201.64a0.85 0.85 0 1 0 1.7 0a0.85 0.85 0 1 0 -1.7 0M98.88 201.6a0.85 0.85 0 1 0 1.7 0a0.85 0.85 0 1 0 -1.7 0M99.53 202.13a0.85 0.85 0 1 0 1.7 0a0.85 0.85 0 1 0 -1.7 0M100.2 201.89a0.85 0.85 0 1 0 1.7 0a0.85 0.85 0 1 0 -1.7 0M100.8 201.56a0.85 0.85 0 1 0 1.7 0a0.85 0.85 0 1 0 -1.7 0M101.14 201.31a0.85 0.85 0 1 0 1.7 0a0.85 0.85 0 1 0 -1.7 0M102.03 201.4a0.85 0.85 0 1 0 1.7 0a0.85 0.85 0 1 0 -1.7 0M102.73 202.03a0.85 0.85 0 1 0 1.7 0a0.85 0.85 0 1 0 -1.7 0M103.3 201.47a0.85 0.85 0 1 0 1.7 0a0.85 0.85 0 1 0 -1.7 0M103.96 201.39a0.85 0.85 0 1 0 1.7 0a0.85 0.85 0 1 0 -1.7 0M104.55 202.12a0.85 0.85 0 1 0 1.7 0a0.85 0.85 0 1 0 -1.7 0M105.63 201.47a0.85 0.85 0 1 0 1.7 0a0.85 0.85 0 1 0 -1.7 0M106.49 201.57a0.85 0.85 0 1 0 1.7 0a0.85 0.85 0 1 0 -1.7 0M106.94 201.68a0.85 0.85 0 1 0 1.7 0a0.85 0.85 0 1 0 -1.7 0M107.57 201.7a0.85 0.85 0 1 0 1.7 0a0.85 0.85 0 1 0 -1.7 0M108.02 201.33a0.85 0.85 0 1 0 1.7 0a0.85 0.85 0 1 0 -1.7 0M108.57 201.27a0.85 0.85 0 1 0 1.7 0a0.85 0.85 0 1 0 -1.7 0M109.24 201.78a0.85 0.85 0 1 0 1.7 0a0.85 0.85 0 1 0 -1.7 0M110.16 201.84a0.85 0.85 0 1 0 1.7 0a0.85 0.85 0 1 0 -1.7 0M111.04 201.6a0.85 0.85 0 1 0 1.7 0a0.85 0.85 0 1 0 -1.7 0M111.68 201.38a0.85 0.85 0 1 0 1.7 0a0.85 0.85 0 1 0 -1.7 0M112.37 201.29a0.85 0.85 0 1 0 1.7 0a0.85 0.85 0 1 0 -1.7 0M113.36 201.81a0.85 0.85 0 1 0 1.7 0a0.85 0.85 0 1 0 -1.7 0M114.16 201.38a0.85 0.85 0 1 0 1.7 0a0.85 0.85 0 1 0 -1.7 0M114.75 202a0.85 0.85 0 1 0 1.7 0a0.85 0.85 0 1 0 -1.7 0M115.75 201.78a0.85 0.85 0 1 0 1.7 0a0.85 0.85 0 1 0 -1.7 0M116.61 201.87a0.85 0.85 0 1 0 1.7 0a0.85 0.85 0 1 0 -1.7 0M116.9 201.37a0.85 0.85 0 1 0 1.7 0a0.85 0.85 0 1 0 -1.7 0M117.55 202a0.85 0.85 0 1 0 1.7 0a0.85 0.85 0 1 0 -1.7 0M118.49 201.81a0.85 0.85 0 1 0 1.7 0a0.85 0.85 0 1 0 -1.7 0M119.24 201.25a0.85 0.85 0 1 0 1.7 0a0.85 0.85 0 1 0 -1.7 0M120.21 201.7a0.85 0.85 0 1 0 1.7 0a0.85 0.85 0 1 0 -1.7 0M120.89 201.31a0.85 0.85 0 1 0 1.7 0a0.85 0.85 0 1 0 -1.7 0M121.56 201.32a0.85 0.85 0 1 0 1.7 0a0.85 0.85 0 1 0 -1.7 0M122.32 201.43a0.85 0.85 0 1 0 1.7 0a0.85 0.85 0 1 0 -1.7 0M123.25 201.69a0.85 0.85 0 1 0 1.7 0a0.85 0.85 0 1 0 -1.7 0M123.69 201.87a0.85 0.85 0 1 0 1.7 0a0.85 0.85 0 1 0 -1.7 0M124.59 201.83a0.85 0.85 0 1 0 1.7 0a0.85 0.85 0 1 0 -1.7 0M124.87 201.48a0.85 0.85 0 1 0 1.7 0a0.85 0.85 0 1 0 -1.7 0M125.77 201.76a0.85 0.85 0 1 0 1.7 0a0.85 0.85 0 1 0 -1.7 0M126.1 201.49a0.85 0.85 0 1 0 1.7 0a0.85 0.85 0 1 0 -1.7 0M127.15 201.86a0.85 0.85 0 1 0 1.7 0a0.85 0.85 0 1 0 -1.7 0M127.66 201.67a0.85 0.85 0 1 0 1.7 0a0.85 0.85 0 1 0 -1.7 0M128.18 202.05a0.85 0.85 0 1 0 1.7 0a0.85 0.85 0 1 0 -1.7 0M129.06 202.09a0.85 0.85 0 1 0 1.7 0a0.85 0.85 0 1 0 -1.7 0M129.28 201.99a0.85 0.85 0 1 0 1.7 0a0.85 0.85 0 1 0 -1.7 0" fill="#151515" fill-opacity="0.8"/>
<path d="M63.1 194.5L65.9 194.57L68.7 194.64L71.5 194.7L74.3 194.76L77.1 194.82L79.9 194.88L82.7 194.93L85.5 194.97L88.3 195.01L91.1 195.05L93.9 195.08L96.7 195.1L99.5 195.12L102.3 195.13L105.1 195.14L107.9 195.13L110.7 195.11L113.5 195.07L116.3 195.02L119.1 194.94L121.9 194.85L124.7 194.74L127.5 194.63L130.3 194.5L130.3 199.1L127.5 198.98L124.7 198.87L121.9 198.78L119.1 198.69L116.3 198.63L113.5 198.58L110.7 198.54L107.9 198.53L105.1 198.54L102.3 198.55L99.5 198.57L96.7 198.6L93.9 198.63L91.1 198.67L88.3 198.71L85.5 198.76L82.7 198.81L79.9 198.87L77.1 198.94L74.3 199L71.5 199.07L68.7 199.15L65.9 199.22L63.1 199.3Z" stroke="none" stroke-width="0" fill="#999" fill-opacity="0.3"/>
<line x1="63.1" y1="197.9" x2="130.3" y2="197.8" stroke="#3366FF" stroke-width="1.1" />
<rect x="59.3" y="122.2" width="74.3" height="83.9" fill="none" stroke="#4d4d4d" stroke-width="0.7" />
<text x="104" y="129.5" font-size="4.9" fill="#000" font-weight="bold" textLength="23.95" lengthAdjust="spacingAndGlyphs" >R = -0.008</text>
<text x="104" y="135.5" font-size="4.9" font-weight="bold" textLength="21.69" lengthAdjust="spacingAndGlyphs"><tspan font-style="italic">p</tspan> = 0.885</text>
<line x1="77.4" y1="206.1" x2="77.4" y2="207.4" stroke="#555" stroke-width="0.5" />
<text x="77.4" y="212.2" font-size="5" fill="#3a3a3a" text-anchor="middle" textLength="7.88" lengthAdjust="spacingAndGlyphs" >0.25</text>
<line x1="95.4" y1="206.1" x2="95.4" y2="207.4" stroke="#555" stroke-width="0.5" />
<text x="95.4" y="212.2" font-size="5" fill="#3a3a3a" text-anchor="middle" textLength="7.88" lengthAdjust="spacingAndGlyphs" >0.50</text>
<line x1="113.4" y1="206.1" x2="113.4" y2="207.4" stroke="#555" stroke-width="0.5" />
<text x="113.4" y="212.2" font-size="5" fill="#3a3a3a" text-anchor="middle" textLength="7.88" lengthAdjust="spacingAndGlyphs" >0.75</text>
<line x1="131.4" y1="206.1" x2="131.4" y2="207.4" stroke="#555" stroke-width="0.5" />
<text x="131.4" y="212.2" font-size="5" fill="#3a3a3a" text-anchor="middle" textLength="7.88" lengthAdjust="spacingAndGlyphs" >1.00</text>
<text x="93" y="218.8" font-size="6" fill="#111" text-anchor="middle" textLength="12.65" lengthAdjust="spacingAndGlyphs" >Purity</text>
<rect x="217.3" y="12.5" width="7.5" height="83.7" fill="#d9d9d9" stroke="#8a8a8a" stroke-width="0.7" />
<text x="222.45" y="54.35" font-size="4.5" fill="#333" text-anchor="middle" transform="rotate(-90 222.45 54.35)" textLength="10.48" lengthAdjust="spacingAndGlyphs" >LIHC</text>
<line x1="215.9" y1="93.3" x2="217.3" y2="93.3" stroke="#555" stroke-width="0.5" />
<text x="215.4" y="95.05" font-size="5" fill="#3a3a3a" text-anchor="end" textLength="2.25" lengthAdjust="spacingAndGlyphs" >0</text>
<line x1="215.9" y1="77.36" x2="217.3" y2="77.36" stroke="#555" stroke-width="0.5" />
<text x="215.4" y="79.11" font-size="5" fill="#3a3a3a" text-anchor="end" textLength="2.25" lengthAdjust="spacingAndGlyphs" >1</text>
<line x1="215.9" y1="61.42" x2="217.3" y2="61.42" stroke="#555" stroke-width="0.5" />
<text x="215.4" y="63.17" font-size="5" fill="#3a3a3a" text-anchor="end" textLength="2.25" lengthAdjust="spacingAndGlyphs" >2</text>
<line x1="215.9" y1="45.48" x2="217.3" y2="45.48" stroke="#555" stroke-width="0.5" />
<text x="215.4" y="47.23" font-size="5" fill="#3a3a3a" text-anchor="end" textLength="2.25" lengthAdjust="spacingAndGlyphs" >3</text>
<line x1="215.9" y1="29.54" x2="217.3" y2="29.54" stroke="#555" stroke-width="0.5" />
<text x="215.4" y="31.29" font-size="5" fill="#3a3a3a" text-anchor="end" textLength="2.25" lengthAdjust="spacingAndGlyphs" >4</text>
<line x1="215.9" y1="13.6" x2="217.3" y2="13.6" stroke="#555" stroke-width="0.5" />
<text x="215.4" y="15.35" font-size="5" fill="#3a3a3a" text-anchor="end" textLength="2.25" lengthAdjust="spacingAndGlyphs" >5</text>
<rect x="224.8" y="3.4" width="74.4" height="9.1" fill="#d9d9d9" stroke="#8a8a8a" stroke-width="0.7" />
<text x="262" y="9.85" font-size="5.4" fill="#262626" text-anchor="middle" textLength="10.71" lengthAdjust="spacingAndGlyphs" >Purity</text>
<rect x="224.8" y="12.5" width="74.4" height="83.7" fill="#fff" stroke="none" stroke-width="0" />
<line x1="224.8" y1="85.33" x2="299.2" y2="85.33" stroke="#f7f7f7" stroke-width="0.4" />
<line x1="224.8" y1="69.39" x2="299.2" y2="69.39" stroke="#f7f7f7" stroke-width="0.4" />
<line x1="224.8" y1="53.45" x2="299.2" y2="53.45" stroke="#f7f7f7" stroke-width="0.4" />
<line x1="224.8" y1="37.51" x2="299.2" y2="37.51" stroke="#f7f7f7" stroke-width="0.4" />
<line x1="224.8" y1="21.57" x2="299.2" y2="21.57" stroke="#f7f7f7" stroke-width="0.4" />
<line x1="233.9" y1="12.5" x2="233.9" y2="96.2" stroke="#f7f7f7" stroke-width="0.4" />
<line x1="251.9" y1="12.5" x2="251.9" y2="96.2" stroke="#f7f7f7" stroke-width="0.4" />
<line x1="269.9" y1="12.5" x2="269.9" y2="96.2" stroke="#f7f7f7" stroke-width="0.4" />
<line x1="287.9" y1="12.5" x2="287.9" y2="96.2" stroke="#f7f7f7" stroke-width="0.4" />
<line x1="224.8" y1="93.3" x2="299.2" y2="93.3" stroke="#efefef" stroke-width="0.6" />
<line x1="224.8" y1="77.36" x2="299.2" y2="77.36" stroke="#efefef" stroke-width="0.6" />
<line x1="224.8" y1="61.42" x2="299.2" y2="61.42" stroke="#efefef" stroke-width="0.6" />
<line x1="224.8" y1="45.48" x2="299.2" y2="45.48" stroke="#efefef" stroke-width="0.6" />
<line x1="224.8" y1="29.54" x2="299.2" y2="29.54" stroke="#efefef" stroke-width="0.6" />
<line x1="224.8" y1="13.6" x2="299.2" y2="13.6" stroke="#efefef" stroke-width="0.6" />
<line x1="242.9" y1="12.5" x2="242.9" y2="96.2" stroke="#efefef" stroke-width="0.6" />
<line x1="260.9" y1="12.5" x2="260.9" y2="96.2" stroke="#efefef" stroke-width="0.6" />
<line x1="278.9" y1="12.5" x2="278.9" y2="96.2" stroke="#efefef" stroke-width="0.6" />
<line x1="296.9" y1="12.5" x2="296.9" y2="96.2" stroke="#efefef" stroke-width="0.6" />
<path d="M236.65 16.9a0.95 0.95 0 1 0 1.9 0a0.95 0.95 0 1 0 -1.9 0M272.35 38.3a0.95 0.95 0 1 0 1.9 0a0.95 0.95 0 1 0 -1.9 0M278.65 37a0.95 0.95 0 1 0 1.9 0a0.95 0.95 0 1 0 -1.9 0M279.35 33.7a0.95 0.95 0 1 0 1.9 0a0.95 0.95 0 1 0 -1.9 0M281.45 35.1a0.95 0.95 0 1 0 1.9 0a0.95 0.95 0 1 0 -1.9 0M263.25 51.9a0.95 0.95 0 1 0 1.9 0a0.95 0.95 0 1 0 -1.9 0M285.65 49.8a0.95 0.95 0 1 0 1.9 0a0.95 0.95 0 1 0 -1.9 0M286.35 51.2a0.95 0.95 0 1 0 1.9 0a0.95 0.95 0 1 0 -1.9 0M242.25 59a0.95 0.95 0 1 0 1.9 0a0.95 0.95 0 1 0 -1.9 0M259.75 59a0.95 0.95 0 1 0 1.9 0a0.95 0.95 0 1 0 -1.9 0M265.35 57.9a0.95 0.95 0 1 0 1.9 0a0.95 0.95 0 1 0 -1.9 0M280.35 58.3a0.95 0.95 0 1 0 1.9 0a0.95 0.95 0 1 0 -1.9 0M263.25 61.8a0.95 0.95 0 1 0 1.9 0a0.95 0.95 0 1 0 -1.9 0M289.85 61.5a0.95 0.95 0 1 0 1.9 0a0.95 0.95 0 1 0 -1.9 0M271.95 66.7a0.95 0.95 0 1 0 1.9 0a0.95 0.95 0 1 0 -1.9 0M276.15 64.3a0.95 0.95 0 1 0 1.9 0a0.95 0.95 0 1 0 -1.9 0M239.45 69.1a0.95 0.95 0 1 0 1.9 0a0.95 0.95 0 1 0 -1.9 0M259.75 70.2a0.95 0.95 0 1 0 1.9 0a0.95 0.95 0 1 0 -1.9 0M277.25 70.2a0.95 0.95 0 1 0 1.9 0a0.95 0.95 0 1 0 -1.9 0M279.75 69.9a0.95 0.95 0 1 0 1.9 0a0.95 0.95 0 1 0 -1.9 0M284.25 68.8a0.95 0.95 0 1 0 1.9 0a0.95 0.95 0 1 0 -1.9 0M292.25 70.5a0.95 0.95 0 1 0 1.9 0a0.95 0.95 0 1 0 -1.9 0M293.35 73.7a0.95 0.95 0 1 0 1.9 0a0.95 0.95 0 1 0 -1.9 0M281.45 72.3a0.95 0.95 0 1 0 1.9 0a0.95 0.95 0 1 0 -1.9 0M283.55 75.1a0.95 0.95 0 1 0 1.9 0a0.95 0.95 0 1 0 -1.9 0M280.75 76.5a0.95 0.95 0 1 0 1.9 0a0.95 0.95 0 1 0 -1.9 0M280.05 77.9a0.95 0.95 0 1 0 1.9 0a0.95 0.95 0 1 0 -1.9 0M238.75 78.6a0.95 0.95 0 1 0 1.9 0a0.95 0.95 0 1 0 -1.9 0M267.45 80a0.95 0.95 0 1 0 1.9 0a0.95 0.95 0 1 0 -1.9 0M268.85 79.7a0.95 0.95 0 1 0 1.9 0a0.95 0.95 0 1 0 -1.9 0M276.55 79.3a0.95 0.95 0 1 0 1.9 0a0.95 0.95 0 1 0 -1.9 0M278.65 80.7a0.95 0.95 0 1 0 1.9 0a0.95 0.95 0 1 0 -1.9 0M288.45 80a0.95 0.95 0 1 0 1.9 0a0.95 0.95 0 1 0 -1.9 0M260.45 82.8a0.95 0.95 0 1 0 1.9 0a0.95 0.95 0 1 0 -1.9 0M261.15 84.9a0.95 0.95 0 1 0 1.9 0a0.95 0.95 0 1 0 -1.9 0M268.85 84.9a0.95 0.95 0 1 0 1.9 0a0.95 0.95 0 1 0 -1.9 0M275.85 84.2a0.95 0.95 0 1 0 1.9 0a0.95 0.95 0 1 0 -1.9 0M278.65 83.5a0.95 0.95 0 1 0 1.9 0a0.95 0.95 0 1 0 -1.9 0M282.15 83.5a0.95 0.95 0 1 0 1.9 0a0.95 0.95 0 1 0 -1.9 0M284.25 81.7a0.95 0.95 0 1 0 1.9 0a0.95 0.95 0 1 0 -1.9 0M286.35 82.8a0.95 0.95 0 1 0 1.9 0a0.95 0.95 0 1 0 -1.9 0M289.15 82.8a0.95 0.95 0 1 0 1.9 0a0.95 0.95 0 1 0 -1.9 0M284.25 85.6a0.95 0.95 0 1 0 1.9 0a0.95 0.95 0 1 0 -1.9 0M285.35 85.9a0.95 0.95 0 1 0 1.9 0a0.95 0.95 0 1 0 -1.9 0M277.25 87a0.95 0.95 0 1 0 1.9 0a0.95 0.95 0 1 0 -1.9 0M270.65 86.5a0.95 0.95 0 1 0 1.9 0a0.95 0.95 0 1 0 -1.9 0M264.65 88a0.95 0.95 0 1 0 1.9 0a0.95 0.95 0 1 0 -1.9 0M273.65 88.5a0.95 0.95 0 1 0 1.9 0a0.95 0.95 0 1 0 -1.9 0M290.65 87.5a0.95 0.95 0 1 0 1.9 0a0.95 0.95 0 1 0 -1.9 0M254.65 87.8a0.95 0.95 0 1 0 1.9 0a0.95 0.95 0 1 0 -1.9 0M249.65 88.2a0.95 0.95 0 1 0 1.9 0a0.95 0.95 0 1 0 -1.9 0" fill="#555555" fill-opacity="0.72"/>
<path d="M269.33 90.38a0.9 0.9 0 1 0 1.8 0a0.9 0.9 0 1 0 -1.8 0M291.61 90.91a0.9 0.9 0 1 0 1.8 0a0.9 0.9 0 1 0 -1.8 0M272.32 90.2a0.9 0.9 0 1 0 1.8 0a0.9 0.9 0 1 0 -1.8 0M252.02 90.66a0.9 0.9 0 1 0 1.8 0a0.9 0.9 0 1 0 -1.8 0M278.47 88.64a0.9 0.9 0 1 0 1.8 0a0.9 0.9 0 1 0 -1.8 0M243.93 91.59a0.9 0.9 0 1 0 1.8 0a0.9 0.9 0 1 0 -1.8 0M243.57 88.49a0.9 0.9 0 1 0 1.8 0a0.9 0.9 0 1 0 -1.8 0M281.49 92.09a0.9 0.9 0 1 0 1.8 0a0.9 0.9 0 1 0 -1.8 0M293.98 86.98a0.9 0.9 0 1 0 1.8 0a0.9 0.9 0 1 0 -1.8 0M279.63 90.02a0.9 0.9 0 1 0 1.8 0a0.9 0.9 0 1 0 -1.8 0M249.8 92.1a0.9 0.9 0 1 0 1.8 0a0.9 0.9 0 1 0 -1.8 0M273.39 92.08a0.9 0.9 0 1 0 1.8 0a0.9 0.9 0 1 0 -1.8 0M252.45 91.78a0.9 0.9 0 1 0 1.8 0a0.9 0.9 0 1 0 -1.8 0M235.89 90.92a0.9 0.9 0 1 0 1.8 0a0.9 0.9 0 1 0 -1.8 0M268.67 88.2a0.9 0.9 0 1 0 1.8 0a0.9 0.9 0 1 0 -1.8 0M272.91 89.85a0.9 0.9 0 1 0 1.8 0a0.9 0.9 0 1 0 -1.8 0M271.89 89.69a0.9 0.9 0 1 0 1.8 0a0.9 0.9 0 1 0 -1.8 0M269.6 91.67a0.9 0.9 0 1 0 1.8 0a0.9 0.9 0 1 0 -1.8 0M294.61 86.65a0.9 0.9 0 1 0 1.8 0a0.9 0.9 0 1 0 -1.8 0M288.05 89.34a0.9 0.9 0 1 0 1.8 0a0.9 0.9 0 1 0 -1.8 0M261.22 91.81a0.9 0.9 0 1 0 1.8 0a0.9 0.9 0 1 0 -1.8 0M259.52 92.07a0.9 0.9 0 1 0 1.8 0a0.9 0.9 0 1 0 -1.8 0M284.81 91.22a0.9 0.9 0 1 0 1.8 0a0.9 0.9 0 1 0 -1.8 0M288.33 91.28a0.9 0.9 0 1 0 1.8 0a0.9 0.9 0 1 0 -1.8 0M293 88.15a0.9 0.9 0 1 0 1.8 0a0.9 0.9 0 1 0 -1.8 0M228.44 91.86a0.9 0.9 0 1 0 1.8 0a0.9 0.9 0 1 0 -1.8 0M291.03 90.89a0.9 0.9 0 1 0 1.8 0a0.9 0.9 0 1 0 -1.8 0M293.91 91.23a0.9 0.9 0 1 0 1.8 0a0.9 0.9 0 1 0 -1.8 0M241.64 89.92a0.9 0.9 0 1 0 1.8 0a0.9 0.9 0 1 0 -1.8 0M285.35 91.7a0.9 0.9 0 1 0 1.8 0a0.9 0.9 0 1 0 -1.8 0M243.2 91.49a0.9 0.9 0 1 0 1.8 0a0.9 0.9 0 1 0 -1.8 0M293.25 88.94a0.9 0.9 0 1 0 1.8 0a0.9 0.9 0 1 0 -1.8 0M246.29 91.77a0.9 0.9 0 1 0 1.8 0a0.9 0.9 0 1 0 -1.8 0M244.64 92.08a0.9 0.9 0 1 0 1.8 0a0.9 0.9 0 1 0 -1.8 0M286.17 91.93a0.9 0.9 0 1 0 1.8 0a0.9 0.9 0 1 0 -1.8 0M274.98 91a0.9 0.9 0 1 0 1.8 0a0.9 0.9 0 1 0 -1.8 0M252.49 89.15a0.9 0.9 0 1 0 1.8 0a0.9 0.9 0 1 0 -1.8 0M247.49 89.82a0.9 0.9 0 1 0 1.8 0a0.9 0.9 0 1 0 -1.8 0M246.15 91.13a0.9 0.9 0 1 0 1.8 0a0.9 0.9 0 1 0 -1.8 0M254.18 91.7a0.9 0.9 0 1 0 1.8 0a0.9 0.9 0 1 0 -1.8 0M293.52 88.55a0.9 0.9 0 1 0 1.8 0a0.9 0.9 0 1 0 -1.8 0M260.5 87.79a0.9 0.9 0 1 0 1.8 0a0.9 0.9 0 1 0 -1.8 0M254.02 91.25a0.9 0.9 0 1 0 1.8 0a0.9 0.9 0 1 0 -1.8 0M288.66 89.83a0.9 0.9 0 1 0 1.8 0a0.9 0.9 0 1 0 -1.8 0M244.56 86.72a0.9 0.9 0 1 0 1.8 0a0.9 0.9 0 1 0 -1.8 0M254.21 91.73a0.9 0.9 0 1 0 1.8 0a0.9 0.9 0 1 0 -1.8 0M285.1 91.5a0.9 0.9 0 1 0 1.8 0a0.9 0.9 0 1 0 -1.8 0M260 92.07a0.9 0.9 0 1 0 1.8 0a0.9 0.9 0 1 0 -1.8 0M243.51 90.23a0.9 0.9 0 1 0 1.8 0a0.9 0.9 0 1 0 -1.8 0M256.37 90.11a0.9 0.9 0 1 0 1.8 0a0.9 0.9 0 1 0 -1.8 0M264.7 90.97a0.9 0.9 0 1 0 1.8 0a0.9 0.9 0 1 0 -1.8 0M293.04 90.81a0.9 0.9 0 1 0 1.8 0a0.9 0.9 0 1 0 -1.8 0M275.75 87.97a0.9 0.9 0 1 0 1.8 0a0.9 0.9 0 1 0 -1.8 0M251.87 91.97a0.9 0.9 0 1 0 1.8 0a0.9 0.9 0 1 0 -1.8 0M290.95 88.42a0.9 0.9 0 1 0 1.8 0a0.9 0.9 0 1 0 -1.8 0M256.83 91.9a0.9 0.9 0 1 0 1.8 0a0.9 0.9 0 1 0 -1.8 0M283.6 87.24a0.9 0.9 0 1 0 1.8 0a0.9 0.9 0 1 0 -1.8 0M252.95 87.13a0.9 0.9 0 1 0 1.8 0a0.9 0.9 0 1 0 -1.8 0M289.85 90.1a0.9 0.9 0 1 0 1.8 0a0.9 0.9 0 1 0 -1.8 0M267.6 92.04a0.9 0.9 0 1 0 1.8 0a0.9 0.9 0 1 0 -1.8 0M237.22 87a0.9 0.9 0 1 0 1.8 0a0.9 0.9 0 1 0 -1.8 0M256.04 89.37a0.9 0.9 0 1 0 1.8 0a0.9 0.9 0 1 0 -1.8 0M257.35 88.37a0.9 0.9 0 1 0 1.8 0a0.9 0.9 0 1 0 -1.8 0M276.84 91.63a0.9 0.9 0 1 0 1.8 0a0.9 0.9 0 1 0 -1.8 0M251.28 89.25a0.9 0.9 0 1 0 1.8 0a0.9 0.9 0 1 0 -1.8 0M241.14 91.81a0.9 0.9 0 1 0 1.8 0a0.9 0.9 0 1 0 -1.8 0M274.98 88.1a0.9 0.9 0 1 0 1.8 0a0.9 0.9 0 1 0 -1.8 0M277.72 91.67a0.9 0.9 0 1 0 1.8 0a0.9 0.9 0 1 0 -1.8 0M291.32 91.87a0.9 0.9 0 1 0 1.8 0a0.9 0.9 0 1 0 -1.8 0M233.42 91.7a0.9 0.9 0 1 0 1.8 0a0.9 0.9 0 1 0 -1.8 0" fill="#3a3a3a" fill-opacity="0.6"/>
<rect x="254.3" y="91.85" width="42.1" height="1.8" fill="#1c1c1c" stroke="none" stroke-width="0" fill-opacity="0.82"/>
<path d="M227.73 92.69a0.85 0.85 0 1 0 1.7 0a0.85 0.85 0 1 0 -1.7 0M228.47 92.64a0.85 0.85 0 1 0 1.7 0a0.85 0.85 0 1 0 -1.7 0M228.89 92.92a0.85 0.85 0 1 0 1.7 0a0.85 0.85 0 1 0 -1.7 0M229.84 93.19a0.85 0.85 0 1 0 1.7 0a0.85 0.85 0 1 0 -1.7 0M230.85 93.08a0.85 0.85 0 1 0 1.7 0a0.85 0.85 0 1 0 -1.7 0M231.4 92.89a0.85 0.85 0 1 0 1.7 0a0.85 0.85 0 1 0 -1.7 0M231.48 92.89a0.85 0.85 0 1 0 1.7 0a0.85 0.85 0 1 0 -1.7 0M232.27 92.58a0.85 0.85 0 1 0 1.7 0a0.85 0.85 0 1 0 -1.7 0M232.89 93.21a0.85 0.85 0 1 0 1.7 0a0.85 0.85 0 1 0 -1.7 0M233.48 93.21a0.85 0.85 0 1 0 1.7 0a0.85 0.85 0 1 0 -1.7 0M234.04 93.09a0.85 0.85 0 1 0 1.7 0a0.85 0.85 0 1 0 -1.7 0M234.71 92.78a0.85 0.85 0 1 0 1.7 0a0.85 0.85 0 1 0 -1.7 0M235.63 92.98a0.85 0.85 0 1 0 1.7 0a0.85 0.85 0 1 0 -1.7 0M236.03 92.7a0.85 0.85 0 1 0 1.7 0a0.85 0.85 0 1 0 -1.7 0M236.34 93.2a0.85 0.85 0 1 0 1.7 0a0.85 0.85 0 1 0 -1.7 0M237.26 92.67a0.85 0.85 0 1 0 1.7 0a0.85 0.85 0 1 0 -1.7 0M237.66 92.62a0.85 0.85 0 1 0 1.7 0a0.85 0.85 0 1 0 -1.7 0M238.46 93.25a0.85 0.85 0 1 0 1.7 0a0.85 0.85 0 1 0 -1.7 0M239.21 93.27a0.85 0.85 0 1 0 1.7 0a0.85 0.85 0 1 0 -1.7 0M240.12 93.1a0.85 0.85 0 1 0 1.7 0a0.85 0.85 0 1 0 -1.7 0M240.64 92.86a0.85 0.85 0 1 0 1.7 0a0.85 0.85 0 1 0 -1.7 0M241.45 92.71a0.85 0.85 0 1 0 1.7 0a0.85 0.85 0 1 0 -1.7 0M242.92 92.56a0.85 0.85 0 1 0 1.7 0a0.85 0.85 0 1 0 -1.7 0M244.84 92.72a0.85 0.85 0 1 0 1.7 0a0.85 0.85 0 1 0 -1.7 0M247.71 92.68a0.85 0.85 0 1 0 1.7 0a0.85 0.85 0 1 0 -1.7 0M249.92 92.95a0.85 0.85 0 1 0 1.7 0a0.85 0.85 0 1 0 -1.7 0M251.88 92.6a0.85 0.85 0 1 0 1.7 0a0.85 0.85 0 1 0 -1.7 0M253.86 92.9a0.85 0.85 0 1 0 1.7 0a0.85 0.85 0 1 0 -1.7 0M253.91 93.35a0.85 0.85 0 1 0 1.7 0a0.85 0.85 0 1 0 -1.7 0M254.28 92.62a0.85 0.85 0 1 0 1.7 0a0.85 0.85 0 1 0 -1.7 0M254.83 92.53a0.85 0.85 0 1 0 1.7 0a0.85 0.85 0 1 0 -1.7 0M255.35 92.96a0.85 0.85 0 1 0 1.7 0a0.85 0.85 0 1 0 -1.7 0M256.46 92.82a0.85 0.85 0 1 0 1.7 0a0.85 0.85 0 1 0 -1.7 0M257.02 92.79a0.85 0.85 0 1 0 1.7 0a0.85 0.85 0 1 0 -1.7 0M257.45 92.7a0.85 0.85 0 1 0 1.7 0a0.85 0.85 0 1 0 -1.7 0M258.44 92.9a0.85 0.85 0 1 0 1.7 0a0.85 0.85 0 1 0 -1.7 0M259.5 92.64a0.85 0.85 0 1 0 1.7 0a0.85 0.85 0 1 0 -1.7 0M259.83 92.81a0.85 0.85 0 1 0 1.7 0a0.85 0.85 0 1 0 -1.7 0M260.78 93.21a0.85 0.85 0 1 0 1.7 0a0.85 0.85 0 1 0 -1.7 0M261.32 92.48a0.85 0.85 0 1 0 1.7 0a0.85 0.85 0 1 0 -1.7 0M262.49 92.88a0.85 0.85 0 1 0 1.7 0a0.85 0.85 0 1 0 -1.7 0M262.88 92.8a0.85 0.85 0 1 0 1.7 0a0.85 0.85 0 1 0 -1.7 0M264.14 93.22a0.85 0.85 0 1 0 1.7 0a0.85 0.85 0 1 0 -1.7 0M264.88 92.55a0.85 0.85 0 1 0 1.7 0a0.85 0.85 0 1 0 -1.7 0M265.49 93.06a0.85 0.85 0 1 0 1.7 0a0.85 0.85 0 1 0 -1.7 0M266.52 93.03a0.85 0.85 0 1 0 1.7 0a0.85 0.85 0 1 0 -1.7 0M267.26 92.95a0.85 0.85 0 1 0 1.7 0a0.85 0.85 0 1 0 -1.7 0M267.84 92.66a0.85 0.85 0 1 0 1.7 0a0.85 0.85 0 1 0 -1.7 0M268.72 92.72a0.85 0.85 0 1 0 1.7 0a0.85 0.85 0 1 0 -1.7 0M269.05 93.02a0.85 0.85 0 1 0 1.7 0a0.85 0.85 0 1 0 -1.7 0M269.81 92.51a0.85 0.85 0 1 0 1.7 0a0.85 0.85 0 1 0 -1.7 0M270.71 92.8a0.85 0.85 0 1 0 1.7 0a0.85 0.85 0 1 0 -1.7 0M271.26 92.46a0.85 0.85 0 1 0 1.7 0a0.85 0.85 0 1 0 -1.7 0M271.79 93.31a0.85 0.85 0 1 0 1.7 0a0.85 0.85 0 1 0 -1.7 0M272.74 92.88a0.85 0.85 0 1 0 1.7 0a0.85 0.85 0 1 0 -1.7 0M273.04 93.31a0.85 0.85 0 1 0 1.7 0a0.85 0.85 0 1 0 -1.7 0M273.88 92.47a0.85 0.85 0 1 0 1.7 0a0.85 0.85 0 1 0 -1.7 0M274.72 92.83a0.85 0.85 0 1 0 1.7 0a0.85 0.85 0 1 0 -1.7 0M275.29 93.28a0.85 0.85 0 1 0 1.7 0a0.85 0.85 0 1 0 -1.7 0M275.58 92.75a0.85 0.85 0 1 0 1.7 0a0.85 0.85 0 1 0 -1.7 0M276.49 92.63a0.85 0.85 0 1 0 1.7 0a0.85 0.85 0 1 0 -1.7 0M277.38 92.9a0.85 0.85 0 1 0 1.7 0a0.85 0.85 0 1 0 -1.7 0M278.01 92.73a0.85 0.85 0 1 0 1.7 0a0.85 0.85 0 1 0 -1.7 0M278.59 92.65a0.85 0.85 0 1 0 1.7 0a0.85 0.85 0 1 0 -1.7 0M279.47 93.31a0.85 0.85 0 1 0 1.7 0a0.85 0.85 0 1 0 -1.7 0M280.12 92.65a0.85 0.85 0 1 0 1.7 0a0.85 0.85 0 1 0 -1.7 0M280.97 93.3a0.85 0.85 0 1 0 1.7 0a0.85 0.85 0 1 0 -1.7 0M281.36 92.64a0.85 0.85 0 1 0 1.7 0a0.85 0.85 0 1 0 -1.7 0M282.22 92.5a0.85 0.85 0 1 0 1.7 0a0.85 0.85 0 1 0 -1.7 0M282.78 93.26a0.85 0.85 0 1 0 1.7 0a0.85 0.85 0 1 0 -1.7 0M283.83 93.35a0.85 0.85 0 1 0 1.7 0a0.85 0.85 0 1 0 -1.7 0M284.61 92.62a0.85 0.85 0 1 0 1.7 0a0.85 0.85 0 1 0 -1.7 0M285.72 92.48a0.85 0.85 0 1 0 1.7 0a0.85 0.85 0 1 0 -1.7 0M286.36 92.79a0.85 0.85 0 1 0 1.7 0a0.85 0.85 0 1 0 -1.7 0M286.89 92.45a0.85 0.85 0 1 0 1.7 0a0.85 0.85 0 1 0 -1.7 0M287.54 93.31a0.85 0.85 0 1 0 1.7 0a0.85 0.85 0 1 0 -1.7 0M288.27 92.64a0.85 0.85 0 1 0 1.7 0a0.85 0.85 0 1 0 -1.7 0M288.83 93.19a0.85 0.85 0 1 0 1.7 0a0.85 0.85 0 1 0 -1.7 0M289.19 92.88a0.85 0.85 0 1 0 1.7 0a0.85 0.85 0 1 0 -1.7 0M290.16 92.62a0.85 0.85 0 1 0 1.7 0a0.85 0.85 0 1 0 -1.7 0M290.78 92.48a0.85 0.85 0 1 0 1.7 0a0.85 0.85 0 1 0 -1.7 0M291.39 93.14a0.85 0.85 0 1 0 1.7 0a0.85 0.85 0 1 0 -1.7 0M291.53 92.51a0.85 0.85 0 1 0 1.7 0a0.85 0.85 0 1 0 -1.7 0M292.55 93.12a0.85 0.85 0 1 0 1.7 0a0.85 0.85 0 1 0 -1.7 0M293.51 92.7a0.85 0.85 0 1 0 1.7 0a0.85 0.85 0 1 0 -1.7 0M294.57 92.69a0.85 0.85 0 1 0 1.7 0a0.85 0.85 0 1 0 -1.7 0" fill="#151515" fill-opacity="0.8"/>
<path d="M228.6 85.7L231.4 85.77L234.21 85.84L237.01 85.9L239.82 85.96L242.62 86.02L245.43 86.08L248.23 86.13L251.03 86.17L253.84 86.21L256.64 86.25L259.45 86.28L262.25 86.3L265.05 86.32L267.86 86.33L270.66 86.34L273.47 86.33L276.27 86.31L279.07 86.27L281.88 86.22L284.68 86.14L287.49 86.05L290.29 85.94L293.1 85.83L295.9 85.7L295.9 90.3L293.1 90.18L290.29 90.07L287.49 89.98L284.68 89.89L281.88 89.83L279.07 89.78L276.27 89.75L273.47 89.73L270.66 89.74L267.86 89.75L265.05 89.77L262.25 89.8L259.45 89.83L256.64 89.87L253.84 89.91L251.03 89.96L248.23 90.01L245.43 90.07L242.62 90.14L239.82 90.2L237.01 90.27L234.21 90.35L231.4 90.42L228.6 90.5Z" stroke="none" stroke-width="0" fill="#999" fill-opacity="0.3"/>
<line x1="228.6" y1="89.1" x2="295.9" y2="89" stroke="#3366FF" stroke-width="1.1" />
<rect x="224.8" y="12.5" width="74.4" height="83.7" fill="none" stroke="#4d4d4d" stroke-width="0.7" />
<text x="269.5" y="20.3" font-size="4.9" fill="#000" font-weight="bold" textLength="23.95" lengthAdjust="spacingAndGlyphs" >R = -0.008</text>
<text x="269.5" y="26.3" font-size="4.9" font-weight="bold" textLength="21.69" lengthAdjust="spacingAndGlyphs"><tspan font-style="italic">p</tspan> = 0.885</text>
<line x1="242.9" y1="96.2" x2="242.9" y2="97.5" stroke="#555" stroke-width="0.5" />
<text x="242.9" y="102.8" font-size="5" fill="#3a3a3a" text-anchor="middle" textLength="7.88" lengthAdjust="spacingAndGlyphs" >0.25</text>
<line x1="260.9" y1="96.2" x2="260.9" y2="97.5" stroke="#555" stroke-width="0.5" />
<text x="260.9" y="102.8" font-size="5" fill="#3a3a3a" text-anchor="middle" textLength="7.88" lengthAdjust="spacingAndGlyphs" >0.50</text>
<line x1="278.9" y1="96.2" x2="278.9" y2="97.5" stroke="#555" stroke-width="0.5" />
<text x="278.9" y="102.8" font-size="5" fill="#3a3a3a" text-anchor="middle" textLength="7.88" lengthAdjust="spacingAndGlyphs" >0.75</text>
<line x1="296.9" y1="96.2" x2="296.9" y2="97.5" stroke="#555" stroke-width="0.5" />
<text x="296.9" y="102.8" font-size="5" fill="#3a3a3a" text-anchor="middle" textLength="7.88" lengthAdjust="spacingAndGlyphs" >1.00</text>
<text x="258.5" y="109.3" font-size="6" fill="#111" text-anchor="middle" textLength="12.65" lengthAdjust="spacingAndGlyphs" >Purity</text>
<rect x="216.6" y="122.2" width="8" height="83.9" fill="#d9d9d9" stroke="#8a8a8a" stroke-width="0.7" />
<text x="222" y="164.15" font-size="4.5" fill="#333" text-anchor="middle" transform="rotate(-90 222 164.15)" textLength="10.48" lengthAdjust="spacingAndGlyphs" >LIHC</text>
<line x1="215.2" y1="202.1" x2="216.6" y2="202.1" stroke="#555" stroke-width="0.5" />
<text x="214.7" y="203.85" font-size="5" fill="#3a3a3a" text-anchor="end" textLength="2.25" lengthAdjust="spacingAndGlyphs" >0</text>
<line x1="215.2" y1="186.1" x2="216.6" y2="186.1" stroke="#555" stroke-width="0.5" />
<text x="214.7" y="187.85" font-size="5" fill="#3a3a3a" text-anchor="end" textLength="2.25" lengthAdjust="spacingAndGlyphs" >1</text>
<line x1="215.2" y1="170.1" x2="216.6" y2="170.1" stroke="#555" stroke-width="0.5" />
<text x="214.7" y="171.85" font-size="5" fill="#3a3a3a" text-anchor="end" textLength="2.25" lengthAdjust="spacingAndGlyphs" >2</text>
<line x1="215.2" y1="154.1" x2="216.6" y2="154.1" stroke="#555" stroke-width="0.5" />
<text x="214.7" y="155.85" font-size="5" fill="#3a3a3a" text-anchor="end" textLength="2.25" lengthAdjust="spacingAndGlyphs" >3</text>
<line x1="215.2" y1="138.1" x2="216.6" y2="138.1" stroke="#555" stroke-width="0.5" />
<text x="214.7" y="139.85" font-size="5" fill="#3a3a3a" text-anchor="end" textLength="2.25" lengthAdjust="spacingAndGlyphs" >4</text>
<line x1="215.2" y1="122.1" x2="216.6" y2="122.1" stroke="#555" stroke-width="0.5" />
<text x="214.7" y="123.85" font-size="5" fill="#3a3a3a" text-anchor="end" textLength="2.25" lengthAdjust="spacingAndGlyphs" >5</text>
<rect x="224.6" y="112.7" width="74.4" height="9.5" fill="#d9d9d9" stroke="#8a8a8a" stroke-width="0.7" />
<text x="261.8" y="119.35" font-size="5.4" fill="#262626" text-anchor="middle" textLength="10.71" lengthAdjust="spacingAndGlyphs" >Purity</text>
<rect x="224.6" y="122.2" width="74.4" height="83.9" fill="#fff" stroke="none" stroke-width="0" />
<line x1="224.6" y1="194.1" x2="299" y2="194.1" stroke="#f7f7f7" stroke-width="0.4" />
<line x1="224.6" y1="178.1" x2="299" y2="178.1" stroke="#f7f7f7" stroke-width="0.4" />
<line x1="224.6" y1="162.1" x2="299" y2="162.1" stroke="#f7f7f7" stroke-width="0.4" />
<line x1="224.6" y1="146.1" x2="299" y2="146.1" stroke="#f7f7f7" stroke-width="0.4" />
<line x1="224.6" y1="130.1" x2="299" y2="130.1" stroke="#f7f7f7" stroke-width="0.4" />
<line x1="233.7" y1="122.2" x2="233.7" y2="206.1" stroke="#f7f7f7" stroke-width="0.4" />
<line x1="251.7" y1="122.2" x2="251.7" y2="206.1" stroke="#f7f7f7" stroke-width="0.4" />
<line x1="269.7" y1="122.2" x2="269.7" y2="206.1" stroke="#f7f7f7" stroke-width="0.4" />
<line x1="287.7" y1="122.2" x2="287.7" y2="206.1" stroke="#f7f7f7" stroke-width="0.4" />
<line x1="224.6" y1="202.1" x2="299" y2="202.1" stroke="#efefef" stroke-width="0.6" />
<line x1="224.6" y1="186.1" x2="299" y2="186.1" stroke="#efefef" stroke-width="0.6" />
<line x1="224.6" y1="170.1" x2="299" y2="170.1" stroke="#efefef" stroke-width="0.6" />
<line x1="224.6" y1="154.1" x2="299" y2="154.1" stroke="#efefef" stroke-width="0.6" />
<line x1="224.6" y1="138.1" x2="299" y2="138.1" stroke="#efefef" stroke-width="0.6" />
<line x1="224.6" y1="122.1" x2="299" y2="122.1" stroke="#efefef" stroke-width="0.6" />
<line x1="242.7" y1="122.2" x2="242.7" y2="206.1" stroke="#efefef" stroke-width="0.6" />
<line x1="260.7" y1="122.2" x2="260.7" y2="206.1" stroke="#efefef" stroke-width="0.6" />
<line x1="278.7" y1="122.2" x2="278.7" y2="206.1" stroke="#efefef" stroke-width="0.6" />
<line x1="296.7" y1="122.2" x2="296.7" y2="206.1" stroke="#efefef" stroke-width="0.6" />
<path d="M236.45 125.41a0.95 0.95 0 1 0 1.9 0a0.95 0.95 0 1 0 -1.9 0M272.15 146.89a0.95 0.95 0 1 0 1.9 0a0.95 0.95 0 1 0 -1.9 0M278.45 145.59a0.95 0.95 0 1 0 1.9 0a0.95 0.95 0 1 0 -1.9 0M279.15 142.28a0.95 0.95 0 1 0 1.9 0a0.95 0.95 0 1 0 -1.9 0M281.25 143.68a0.95 0.95 0 1 0 1.9 0a0.95 0.95 0 1 0 -1.9 0M263.05 160.54a0.95 0.95 0 1 0 1.9 0a0.95 0.95 0 1 0 -1.9 0M285.45 158.44a0.95 0.95 0 1 0 1.9 0a0.95 0.95 0 1 0 -1.9 0M286.15 159.84a0.95 0.95 0 1 0 1.9 0a0.95 0.95 0 1 0 -1.9 0M242.05 167.67a0.95 0.95 0 1 0 1.9 0a0.95 0.95 0 1 0 -1.9 0M259.55 167.67a0.95 0.95 0 1 0 1.9 0a0.95 0.95 0 1 0 -1.9 0M265.15 166.57a0.95 0.95 0 1 0 1.9 0a0.95 0.95 0 1 0 -1.9 0M280.15 166.97a0.95 0.95 0 1 0 1.9 0a0.95 0.95 0 1 0 -1.9 0M263.05 170.48a0.95 0.95 0 1 0 1.9 0a0.95 0.95 0 1 0 -1.9 0M289.65 170.18a0.95 0.95 0 1 0 1.9 0a0.95 0.95 0 1 0 -1.9 0M271.75 175.4a0.95 0.95 0 1 0 1.9 0a0.95 0.95 0 1 0 -1.9 0M275.95 172.99a0.95 0.95 0 1 0 1.9 0a0.95 0.95 0 1 0 -1.9 0M239.25 177.81a0.95 0.95 0 1 0 1.9 0a0.95 0.95 0 1 0 -1.9 0M259.55 178.91a0.95 0.95 0 1 0 1.9 0a0.95 0.95 0 1 0 -1.9 0M277.05 178.91a0.95 0.95 0 1 0 1.9 0a0.95 0.95 0 1 0 -1.9 0M279.55 178.61a0.95 0.95 0 1 0 1.9 0a0.95 0.95 0 1 0 -1.9 0M284.05 177.51a0.95 0.95 0 1 0 1.9 0a0.95 0.95 0 1 0 -1.9 0M292.05 179.21a0.95 0.95 0 1 0 1.9 0a0.95 0.95 0 1 0 -1.9 0M293.15 182.43a0.95 0.95 0 1 0 1.9 0a0.95 0.95 0 1 0 -1.9 0M281.25 181.02a0.95 0.95 0 1 0 1.9 0a0.95 0.95 0 1 0 -1.9 0M283.35 183.83a0.95 0.95 0 1 0 1.9 0a0.95 0.95 0 1 0 -1.9 0M280.55 185.24a0.95 0.95 0 1 0 1.9 0a0.95 0.95 0 1 0 -1.9 0M279.85 186.64a0.95 0.95 0 1 0 1.9 0a0.95 0.95 0 1 0 -1.9 0M238.55 187.34a0.95 0.95 0 1 0 1.9 0a0.95 0.95 0 1 0 -1.9 0M267.25 188.75a0.95 0.95 0 1 0 1.9 0a0.95 0.95 0 1 0 -1.9 0M268.65 188.45a0.95 0.95 0 1 0 1.9 0a0.95 0.95 0 1 0 -1.9 0M276.35 188.05a0.95 0.95 0 1 0 1.9 0a0.95 0.95 0 1 0 -1.9 0M278.45 189.45a0.95 0.95 0 1 0 1.9 0a0.95 0.95 0 1 0 -1.9 0M288.25 188.75a0.95 0.95 0 1 0 1.9 0a0.95 0.95 0 1 0 -1.9 0M260.25 191.56a0.95 0.95 0 1 0 1.9 0a0.95 0.95 0 1 0 -1.9 0M260.95 193.67a0.95 0.95 0 1 0 1.9 0a0.95 0.95 0 1 0 -1.9 0M268.65 193.67a0.95 0.95 0 1 0 1.9 0a0.95 0.95 0 1 0 -1.9 0M275.65 192.97a0.95 0.95 0 1 0 1.9 0a0.95 0.95 0 1 0 -1.9 0M278.45 192.26a0.95 0.95 0 1 0 1.9 0a0.95 0.95 0 1 0 -1.9 0M281.95 192.26a0.95 0.95 0 1 0 1.9 0a0.95 0.95 0 1 0 -1.9 0M284.05 190.46a0.95 0.95 0 1 0 1.9 0a0.95 0.95 0 1 0 -1.9 0M286.15 191.56a0.95 0.95 0 1 0 1.9 0a0.95 0.95 0 1 0 -1.9 0M288.95 191.56a0.95 0.95 0 1 0 1.9 0a0.95 0.95 0 1 0 -1.9 0M284.05 194.37a0.95 0.95 0 1 0 1.9 0a0.95 0.95 0 1 0 -1.9 0M285.15 194.67a0.95 0.95 0 1 0 1.9 0a0.95 0.95 0 1 0 -1.9 0M277.05 195.78a0.95 0.95 0 1 0 1.9 0a0.95 0.95 0 1 0 -1.9 0M270.45 195.27a0.95 0.95 0 1 0 1.9 0a0.95 0.95 0 1 0 -1.9 0M264.45 196.78a0.95 0.95 0 1 0 1.9 0a0.95 0.95 0 1 0 -1.9 0M273.45 197.28a0.95 0.95 0 1 0 1.9 0a0.95 0.95 0 1 0 -1.9 0M290.45 196.28a0.95 0.95 0 1 0 1.9 0a0.95 0.95 0 1 0 -1.9 0M254.45 196.58a0.95 0.95 0 1 0 1.9 0a0.95 0.95 0 1 0 -1.9 0M249.45 196.98a0.95 0.95 0 1 0 1.9 0a0.95 0.95 0 1 0 -1.9 0" fill="#555555" fill-opacity="0.72"/>
<path d="M269.13 199.18a0.9 0.9 0 1 0 1.8 0a0.9 0.9 0 1 0 -1.8 0M291.41 199.71a0.9 0.9 0 1 0 1.8 0a0.9 0.9 0 1 0 -1.8 0M272.12 199a0.9 0.9 0 1 0 1.8 0a0.9 0.9 0 1 0 -1.8 0M251.82 199.46a0.9 0.9 0 1 0 1.8 0a0.9 0.9 0 1 0 -1.8 0M278.27 197.44a0.9 0.9 0 1 0 1.8 0a0.9 0.9 0 1 0 -1.8 0M243.73 200.39a0.9 0.9 0 1 0 1.8 0a0.9 0.9 0 1 0 -1.8 0M243.37 197.29a0.9 0.9 0 1 0 1.8 0a0.9 0.9 0 1 0 -1.8 0M281.29 200.89a0.9 0.9 0 1 0 1.8 0a0.9 0.9 0 1 0 -1.8 0M293.78 195.78a0.9 0.9 0 1 0 1.8 0a0.9 0.9 0 1 0 -1.8 0M279.43 198.82a0.9 0.9 0 1 0 1.8 0a0.9 0.9 0 1 0 -1.8 0M249.6 200.9a0.9 0.9 0 1 0 1.8 0a0.9 0.9 0 1 0 -1.8 0M273.19 200.88a0.9 0.9 0 1 0 1.8 0a0.9 0.9 0 1 0 -1.8 0M252.25 200.58a0.9 0.9 0 1 0 1.8 0a0.9 0.9 0 1 0 -1.8 0M235.69 199.72a0.9 0.9 0 1 0 1.8 0a0.9 0.9 0 1 0 -1.8 0M268.47 197a0.9 0.9 0 1 0 1.8 0a0.9 0.9 0 1 0 -1.8 0M272.71 198.65a0.9 0.9 0 1 0 1.8 0a0.9 0.9 0 1 0 -1.8 0M271.69 198.49a0.9 0.9 0 1 0 1.8 0a0.9 0.9 0 1 0 -1.8 0M269.4 200.47a0.9 0.9 0 1 0 1.8 0a0.9 0.9 0 1 0 -1.8 0M294.41 195.45a0.9 0.9 0 1 0 1.8 0a0.9 0.9 0 1 0 -1.8 0M287.85 198.14a0.9 0.9 0 1 0 1.8 0a0.9 0.9 0 1 0 -1.8 0M261.02 200.61a0.9 0.9 0 1 0 1.8 0a0.9 0.9 0 1 0 -1.8 0M259.32 200.87a0.9 0.9 0 1 0 1.8 0a0.9 0.9 0 1 0 -1.8 0M284.61 200.02a0.9 0.9 0 1 0 1.8 0a0.9 0.9 0 1 0 -1.8 0M288.13 200.08a0.9 0.9 0 1 0 1.8 0a0.9 0.9 0 1 0 -1.8 0M292.8 196.95a0.9 0.9 0 1 0 1.8 0a0.9 0.9 0 1 0 -1.8 0M228.24 200.66a0.9 0.9 0 1 0 1.8 0a0.9 0.9 0 1 0 -1.8 0M290.83 199.69a0.9 0.9 0 1 0 1.8 0a0.9 0.9 0 1 0 -1.8 0M293.71 200.03a0.9 0.9 0 1 0 1.8 0a0.9 0.9 0 1 0 -1.8 0M241.44 198.72a0.9 0.9 0 1 0 1.8 0a0.9 0.9 0 1 0 -1.8 0M285.15 200.5a0.9 0.9 0 1 0 1.8 0a0.9 0.9 0 1 0 -1.8 0M243 200.29a0.9 0.9 0 1 0 1.8 0a0.9 0.9 0 1 0 -1.8 0M293.05 197.74a0.9 0.9 0 1 0 1.8 0a0.9 0.9 0 1 0 -1.8 0M246.09 200.57a0.9 0.9 0 1 0 1.8 0a0.9 0.9 0 1 0 -1.8 0M244.44 200.88a0.9 0.9 0 1 0 1.8 0a0.9 0.9 0 1 0 -1.8 0M285.97 200.73a0.9 0.9 0 1 0 1.8 0a0.9 0.9 0 1 0 -1.8 0M274.78 199.8a0.9 0.9 0 1 0 1.8 0a0.9 0.9 0 1 0 -1.8 0M252.29 197.95a0.9 0.9 0 1 0 1.8 0a0.9 0.9 0 1 0 -1.8 0M247.29 198.62a0.9 0.9 0 1 0 1.8 0a0.9 0.9 0 1 0 -1.8 0M245.95 199.93a0.9 0.9 0 1 0 1.8 0a0.9 0.9 0 1 0 -1.8 0M253.98 200.5a0.9 0.9 0 1 0 1.8 0a0.9 0.9 0 1 0 -1.8 0M293.32 197.35a0.9 0.9 0 1 0 1.8 0a0.9 0.9 0 1 0 -1.8 0M260.3 196.59a0.9 0.9 0 1 0 1.8 0a0.9 0.9 0 1 0 -1.8 0M253.82 200.05a0.9 0.9 0 1 0 1.8 0a0.9 0.9 0 1 0 -1.8 0M288.46 198.63a0.9 0.9 0 1 0 1.8 0a0.9 0.9 0 1 0 -1.8 0M244.36 195.52a0.9 0.9 0 1 0 1.8 0a0.9 0.9 0 1 0 -1.8 0M254.01 200.53a0.9 0.9 0 1 0 1.8 0a0.9 0.9 0 1 0 -1.8 0M284.9 200.3a0.9 0.9 0 1 0 1.8 0a0.9 0.9 0 1 0 -1.8 0M259.8 200.87a0.9 0.9 0 1 0 1.8 0a0.9 0.9 0 1 0 -1.8 0M243.31 199.03a0.9 0.9 0 1 0 1.8 0a0.9 0.9 0 1 0 -1.8 0M256.17 198.91a0.9 0.9 0 1 0 1.8 0a0.9 0.9 0 1 0 -1.8 0M264.5 199.77a0.9 0.9 0 1 0 1.8 0a0.9 0.9 0 1 0 -1.8 0M292.84 199.61a0.9 0.9 0 1 0 1.8 0a0.9 0.9 0 1 0 -1.8 0M275.55 196.77a0.9 0.9 0 1 0 1.8 0a0.9 0.9 0 1 0 -1.8 0M251.67 200.77a0.9 0.9 0 1 0 1.8 0a0.9 0.9 0 1 0 -1.8 0M290.75 197.22a0.9 0.9 0 1 0 1.8 0a0.9 0.9 0 1 0 -1.8 0M256.63 200.7a0.9 0.9 0 1 0 1.8 0a0.9 0.9 0 1 0 -1.8 0M283.4 196.04a0.9 0.9 0 1 0 1.8 0a0.9 0.9 0 1 0 -1.8 0M252.75 195.93a0.9 0.9 0 1 0 1.8 0a0.9 0.9 0 1 0 -1.8 0M289.65 198.9a0.9 0.9 0 1 0 1.8 0a0.9 0.9 0 1 0 -1.8 0M267.4 200.84a0.9 0.9 0 1 0 1.8 0a0.9 0.9 0 1 0 -1.8 0M237.02 195.8a0.9 0.9 0 1 0 1.8 0a0.9 0.9 0 1 0 -1.8 0M255.84 198.17a0.9 0.9 0 1 0 1.8 0a0.9 0.9 0 1 0 -1.8 0M257.15 197.17a0.9 0.9 0 1 0 1.8 0a0.9 0.9 0 1 0 -1.8 0M276.64 200.43a0.9 0.9 0 1 0 1.8 0a0.9 0.9 0 1 0 -1.8 0M251.08 198.05a0.9 0.9 0 1 0 1.8 0a0.9 0.9 0 1 0 -1.8 0M240.94 200.61a0.9 0.9 0 1 0 1.8 0a0.9 0.9 0 1 0 -1.8 0M274.78 196.9a0.9 0.9 0 1 0 1.8 0a0.9 0.9 0 1 0 -1.8 0M277.52 200.47a0.9 0.9 0 1 0 1.8 0a0.9 0.9 0 1 0 -1.8 0M291.12 200.67a0.9 0.9 0 1 0 1.8 0a0.9 0.9 0 1 0 -1.8 0M233.22 200.5a0.9 0.9 0 1 0 1.8 0a0.9 0.9 0 1 0 -1.8 0" fill="#3a3a3a" fill-opacity="0.6"/>
<rect x="254.1" y="200.65" width="42.1" height="1.8" fill="#1c1c1c" stroke="none" stroke-width="0" fill-opacity="0.82"/>
<path d="M227.48 201.5a0.85 0.85 0 1 0 1.7 0a0.85 0.85 0 1 0 -1.7 0M228.07 202.07a0.85 0.85 0 1 0 1.7 0a0.85 0.85 0 1 0 -1.7 0M228.92 201.27a0.85 0.85 0 1 0 1.7 0a0.85 0.85 0 1 0 -1.7 0M229.29 202.11a0.85 0.85 0 1 0 1.7 0a0.85 0.85 0 1 0 -1.7 0M230.21 201.48a0.85 0.85 0 1 0 1.7 0a0.85 0.85 0 1 0 -1.7 0M230.91 202.09a0.85 0.85 0 1 0 1.7 0a0.85 0.85 0 1 0 -1.7 0M231.56 201.91a0.85 0.85 0 1 0 1.7 0a0.85 0.85 0 1 0 -1.7 0M232.43 201.8a0.85 0.85 0 1 0 1.7 0a0.85 0.85 0 1 0 -1.7 0M232.85 201.58a0.85 0.85 0 1 0 1.7 0a0.85 0.85 0 1 0 -1.7 0M233.61 201.43a0.85 0.85 0 1 0 1.7 0a0.85 0.85 0 1 0 -1.7 0M234.52 201.31a0.85 0.85 0 1 0 1.7 0a0.85 0.85 0 1 0 -1.7 0M235.08 201.54a0.85 0.85 0 1 0 1.7 0a0.85 0.85 0 1 0 -1.7 0M236.18 202.14a0.85 0.85 0 1 0 1.7 0a0.85 0.85 0 1 0 -1.7 0M236.43 201.34a0.85 0.85 0 1 0 1.7 0a0.85 0.85 0 1 0 -1.7 0M237.38 201.65a0.85 0.85 0 1 0 1.7 0a0.85 0.85 0 1 0 -1.7 0M237.81 201.81a0.85 0.85 0 1 0 1.7 0a0.85 0.85 0 1 0 -1.7 0M238.74 202.01a0.85 0.85 0 1 0 1.7 0a0.85 0.85 0 1 0 -1.7 0M239.28 202.01a0.85 0.85 0 1 0 1.7 0a0.85 0.85 0 1 0 -1.7 0M240.05 201.59a0.85 0.85 0 1 0 1.7 0a0.85 0.85 0 1 0 -1.7 0M240.73 201.47a0.85 0.85 0 1 0 1.7 0a0.85 0.85 0 1 0 -1.7 0M241.27 202.05a0.85 0.85 0 1 0 1.7 0a0.85 0.85 0 1 0 -1.7 0M242.48 201.61a0.85 0.85 0 1 0 1.7 0a0.85 0.85 0 1 0 -1.7 0M245.62 201.46a0.85 0.85 0 1 0 1.7 0a0.85 0.85 0 1 0 -1.7 0M248.42 202.14a0.85 0.85 0 1 0 1.7 0a0.85 0.85 0 1 0 -1.7 0M249.85 201.99a0.85 0.85 0 1 0 1.7 0a0.85 0.85 0 1 0 -1.7 0M252.82 201.29a0.85 0.85 0 1 0 1.7 0a0.85 0.85 0 1 0 -1.7 0M253.4 201.42a0.85 0.85 0 1 0 1.7 0a0.85 0.85 0 1 0 -1.7 0M254.55 202.09a0.85 0.85 0 1 0 1.7 0a0.85 0.85 0 1 0 -1.7 0M255.29 201.65a0.85 0.85 0 1 0 1.7 0a0.85 0.85 0 1 0 -1.7 0M255.82 202.1a0.85 0.85 0 1 0 1.7 0a0.85 0.85 0 1 0 -1.7 0M256.23 201.81a0.85 0.85 0 1 0 1.7 0a0.85 0.85 0 1 0 -1.7 0M256.68 201.38a0.85 0.85 0 1 0 1.7 0a0.85 0.85 0 1 0 -1.7 0M257.17 201.79a0.85 0.85 0 1 0 1.7 0a0.85 0.85 0 1 0 -1.7 0M257.93 201.26a0.85 0.85 0 1 0 1.7 0a0.85 0.85 0 1 0 -1.7 0M258.72 201.42a0.85 0.85 0 1 0 1.7 0a0.85 0.85 0 1 0 -1.7 0M259.13 201.97a0.85 0.85 0 1 0 1.7 0a0.85 0.85 0 1 0 -1.7 0M259.8 201.34a0.85 0.85 0 1 0 1.7 0a0.85 0.85 0 1 0 -1.7 0M260.64 201.83a0.85 0.85 0 1 0 1.7 0a0.85 0.85 0 1 0 -1.7 0M260.95 201.88a0.85 0.85 0 1 0 1.7 0a0.85 0.85 0 1 0 -1.7 0M261.65 201.53a0.85 0.85 0 1 0 1.7 0a0.85 0.85 0 1 0 -1.7 0M262.61 201.76a0.85 0.85 0 1 0 1.7 0a0.85 0.85 0 1 0 -1.7 0M263.28 202.03a0.85 0.85 0 1 0 1.7 0a0.85 0.85 0 1 0 -1.7 0M264.23 201.43a0.85 0.85 0 1 0 1.7 0a0.85 0.85 0 1 0 -1.7 0M265 201.26a0.85 0.85 0 1 0 1.7 0a0.85 0.85 0 1 0 -1.7 0M266.01 201.99a0.85 0.85 0 1 0 1.7 0a0.85 0.85 0 1 0 -1.7 0M266.84 201.66a0.85 0.85 0 1 0 1.7 0a0.85 0.85 0 1 0 -1.7 0M267.01 201.75a0.85 0.85 0 1 0 1.7 0a0.85 0.85 0 1 0 -1.7 0M268.14 201.33a0.85 0.85 0 1 0 1.7 0a0.85 0.85 0 1 0 -1.7 0M268.69 201.7a0.85 0.85 0 1 0 1.7 0a0.85 0.85 0 1 0 -1.7 0M269.16 201.72a0.85 0.85 0 1 0 1.7 0a0.85 0.85 0 1 0 -1.7 0M270.03 201.69a0.85 0.85 0 1 0 1.7 0a0.85 0.85 0 1 0 -1.7 0M271.24 201.43a0.85 0.85 0 1 0 1.7 0a0.85 0.85 0 1 0 -1.7 0M271.73 202.13a0.85 0.85 0 1 0 1.7 0a0.85 0.85 0 1 0 -1.7 0M272.06 202.08a0.85 0.85 0 1 0 1.7 0a0.85 0.85 0 1 0 -1.7 0M273.04 201.81a0.85 0.85 0 1 0 1.7 0a0.85 0.85 0 1 0 -1.7 0M273.62 201.96a0.85 0.85 0 1 0 1.7 0a0.85 0.85 0 1 0 -1.7 0M274.26 202.01a0.85 0.85 0 1 0 1.7 0a0.85 0.85 0 1 0 -1.7 0M275.06 201.45a0.85 0.85 0 1 0 1.7 0a0.85 0.85 0 1 0 -1.7 0M275.84 201.6a0.85 0.85 0 1 0 1.7 0a0.85 0.85 0 1 0 -1.7 0M276.22 201.9a0.85 0.85 0 1 0 1.7 0a0.85 0.85 0 1 0 -1.7 0M277.06 201.76a0.85 0.85 0 1 0 1.7 0a0.85 0.85 0 1 0 -1.7 0M277.9 202a0.85 0.85 0 1 0 1.7 0a0.85 0.85 0 1 0 -1.7 0M278.61 201.75a0.85 0.85 0 1 0 1.7 0a0.85 0.85 0 1 0 -1.7 0M279.26 201.63a0.85 0.85 0 1 0 1.7 0a0.85 0.85 0 1 0 -1.7 0M280.06 201.84a0.85 0.85 0 1 0 1.7 0a0.85 0.85 0 1 0 -1.7 0M280.73 201.27a0.85 0.85 0 1 0 1.7 0a0.85 0.85 0 1 0 -1.7 0M281.52 201.46a0.85 0.85 0 1 0 1.7 0a0.85 0.85 0 1 0 -1.7 0M282.49 201.66a0.85 0.85 0 1 0 1.7 0a0.85 0.85 0 1 0 -1.7 0M282.88 201.35a0.85 0.85 0 1 0 1.7 0a0.85 0.85 0 1 0 -1.7 0M283.36 201.33a0.85 0.85 0 1 0 1.7 0a0.85 0.85 0 1 0 -1.7 0M284.06 201.29a0.85 0.85 0 1 0 1.7 0a0.85 0.85 0 1 0 -1.7 0M284.66 201.91a0.85 0.85 0 1 0 1.7 0a0.85 0.85 0 1 0 -1.7 0M285.69 201.3a0.85 0.85 0 1 0 1.7 0a0.85 0.85 0 1 0 -1.7 0M286.34 202.11a0.85 0.85 0 1 0 1.7 0a0.85 0.85 0 1 0 -1.7 0M287.03 202.15a0.85 0.85 0 1 0 1.7 0a0.85 0.85 0 1 0 -1.7 0M287.84 201.42a0.85 0.85 0 1 0 1.7 0a0.85 0.85 0 1 0 -1.7 0M288.68 202.11a0.85 0.85 0 1 0 1.7 0a0.85 0.85 0 1 0 -1.7 0M289.48 201.96a0.85 0.85 0 1 0 1.7 0a0.85 0.85 0 1 0 -1.7 0M290.38 201.57a0.85 0.85 0 1 0 1.7 0a0.85 0.85 0 1 0 -1.7 0M291.26 202.06a0.85 0.85 0 1 0 1.7 0a0.85 0.85 0 1 0 -1.7 0M292.1 201.38a0.85 0.85 0 1 0 1.7 0a0.85 0.85 0 1 0 -1.7 0M292.84 201.44a0.85 0.85 0 1 0 1.7 0a0.85 0.85 0 1 0 -1.7 0M293.25 201.54a0.85 0.85 0 1 0 1.7 0a0.85 0.85 0 1 0 -1.7 0M293.56 201.4a0.85 0.85 0 1 0 1.7 0a0.85 0.85 0 1 0 -1.7 0M294.7 202.06a0.85 0.85 0 1 0 1.7 0a0.85 0.85 0 1 0 -1.7 0" fill="#151515" fill-opacity="0.8"/>
<path d="M228.4 194.5L231.2 194.57L234.01 194.64L236.81 194.7L239.62 194.76L242.42 194.82L245.22 194.88L248.03 194.93L250.83 194.97L253.64 195.01L256.44 195.05L259.25 195.08L262.05 195.1L264.85 195.12L267.66 195.13L270.46 195.14L273.27 195.13L276.07 195.11L278.88 195.07L281.68 195.02L284.48 194.94L287.29 194.85L290.09 194.74L292.9 194.63L295.7 194.5L295.7 199.1L292.9 198.98L290.09 198.87L287.29 198.78L284.48 198.69L281.68 198.63L278.88 198.58L276.07 198.55L273.27 198.53L270.46 198.54L267.66 198.55L264.85 198.57L262.05 198.6L259.25 198.63L256.44 198.67L253.64 198.71L250.83 198.76L248.03 198.81L245.22 198.87L242.42 198.94L239.62 199L236.81 199.07L234.01 199.15L231.2 199.22L228.4 199.3Z" stroke="none" stroke-width="0" fill="#999" fill-opacity="0.3"/>
<line x1="228.4" y1="197.9" x2="295.7" y2="197.8" stroke="#3366FF" stroke-width="1.1" />
<rect x="224.6" y="122.2" width="74.4" height="83.9" fill="none" stroke="#4d4d4d" stroke-width="0.7" />
<text x="269.3" y="129.5" font-size="4.9" fill="#000" font-weight="bold" textLength="23.95" lengthAdjust="spacingAndGlyphs" >R = -0.008</text>
<text x="269.3" y="135.5" font-size="4.9" font-weight="bold" textLength="21.69" lengthAdjust="spacingAndGlyphs"><tspan font-style="italic">p</tspan> = 0.885</text>
<line x1="242.7" y1="206.1" x2="242.7" y2="207.4" stroke="#555" stroke-width="0.5" />
<text x="242.7" y="212.2" font-size="5" fill="#3a3a3a" text-anchor="middle" textLength="7.88" lengthAdjust="spacingAndGlyphs" >0.25</text>
<line x1="260.7" y1="206.1" x2="260.7" y2="207.4" stroke="#555" stroke-width="0.5" />
<text x="260.7" y="212.2" font-size="5" fill="#3a3a3a" text-anchor="middle" textLength="7.88" lengthAdjust="spacingAndGlyphs" >0.50</text>
<line x1="278.7" y1="206.1" x2="278.7" y2="207.4" stroke="#555" stroke-width="0.5" />
<text x="278.7" y="212.2" font-size="5" fill="#3a3a3a" text-anchor="middle" textLength="7.88" lengthAdjust="spacingAndGlyphs" >0.75</text>
<line x1="296.7" y1="206.1" x2="296.7" y2="207.4" stroke="#555" stroke-width="0.5" />
<text x="296.7" y="212.2" font-size="5" fill="#3a3a3a" text-anchor="middle" textLength="7.88" lengthAdjust="spacingAndGlyphs" >1.00</text>
<text x="258.3" y="218.8" font-size="6" fill="#111" text-anchor="middle" textLength="12.65" lengthAdjust="spacingAndGlyphs" >Purity</text>
<rect x="383.1" y="12.5" width="8.1" height="83.7" fill="#d9d9d9" stroke="#8a8a8a" stroke-width="0.7" />
<text x="388.55" y="54.35" font-size="4.5" fill="#333" text-anchor="middle" transform="rotate(-90 388.55 54.35)" textLength="10.48" lengthAdjust="spacingAndGlyphs" >LIHC</text>
<line x1="381.7" y1="93.3" x2="383.1" y2="93.3" stroke="#555" stroke-width="0.5" />
<text x="381.2" y="95.05" font-size="5" fill="#3a3a3a" text-anchor="end" textLength="2.25" lengthAdjust="spacingAndGlyphs" >0</text>
<line x1="381.7" y1="77.36" x2="383.1" y2="77.36" stroke="#555" stroke-width="0.5" />
<text x="381.2" y="79.11" font-size="5" fill="#3a3a3a" text-anchor="end" textLength="2.25" lengthAdjust="spacingAndGlyphs" >1</text>
<line x1="381.7" y1="61.42" x2="383.1" y2="61.42" stroke="#555" stroke-width="0.5" />
<text x="381.2" y="63.17" font-size="5" fill="#3a3a3a" text-anchor="end" textLength="2.25" lengthAdjust="spacingAndGlyphs" >2</text>
<line x1="381.7" y1="45.48" x2="383.1" y2="45.48" stroke="#555" stroke-width="0.5" />
<text x="381.2" y="47.23" font-size="5" fill="#3a3a3a" text-anchor="end" textLength="2.25" lengthAdjust="spacingAndGlyphs" >3</text>
<line x1="381.7" y1="29.54" x2="383.1" y2="29.54" stroke="#555" stroke-width="0.5" />
<text x="381.2" y="31.29" font-size="5" fill="#3a3a3a" text-anchor="end" textLength="2.25" lengthAdjust="spacingAndGlyphs" >4</text>
<line x1="381.7" y1="13.6" x2="383.1" y2="13.6" stroke="#555" stroke-width="0.5" />
<text x="381.2" y="15.35" font-size="5" fill="#3a3a3a" text-anchor="end" textLength="2.25" lengthAdjust="spacingAndGlyphs" >5</text>
<rect x="391.2" y="3.4" width="75" height="9.1" fill="#d9d9d9" stroke="#8a8a8a" stroke-width="0.7" />
<text x="428.7" y="9.85" font-size="5.4" fill="#262626" text-anchor="middle" textLength="10.71" lengthAdjust="spacingAndGlyphs" >Purity</text>
<rect x="391.2" y="12.5" width="75" height="83.7" fill="#fff" stroke="none" stroke-width="0" />
<line x1="391.2" y1="85.33" x2="466.2" y2="85.33" stroke="#f7f7f7" stroke-width="0.4" />
<line x1="391.2" y1="69.39" x2="466.2" y2="69.39" stroke="#f7f7f7" stroke-width="0.4" />
<line x1="391.2" y1="53.45" x2="466.2" y2="53.45" stroke="#f7f7f7" stroke-width="0.4" />
<line x1="391.2" y1="37.51" x2="466.2" y2="37.51" stroke="#f7f7f7" stroke-width="0.4" />
<line x1="391.2" y1="21.57" x2="466.2" y2="21.57" stroke="#f7f7f7" stroke-width="0.4" />
<line x1="400.3" y1="12.5" x2="400.3" y2="96.2" stroke="#f7f7f7" stroke-width="0.4" />
<line x1="418.3" y1="12.5" x2="418.3" y2="96.2" stroke="#f7f7f7" stroke-width="0.4" />
<line x1="436.3" y1="12.5" x2="436.3" y2="96.2" stroke="#f7f7f7" stroke-width="0.4" />
<line x1="454.3" y1="12.5" x2="454.3" y2="96.2" stroke="#f7f7f7" stroke-width="0.4" />
<line x1="391.2" y1="93.3" x2="466.2" y2="93.3" stroke="#efefef" stroke-width="0.6" />
<line x1="391.2" y1="77.36" x2="466.2" y2="77.36" stroke="#efefef" stroke-width="0.6" />
<line x1="391.2" y1="61.42" x2="466.2" y2="61.42" stroke="#efefef" stroke-width="0.6" />
<line x1="391.2" y1="45.48" x2="466.2" y2="45.48" stroke="#efefef" stroke-width="0.6" />
<line x1="391.2" y1="29.54" x2="466.2" y2="29.54" stroke="#efefef" stroke-width="0.6" />
<line x1="391.2" y1="13.6" x2="466.2" y2="13.6" stroke="#efefef" stroke-width="0.6" />
<line x1="409.3" y1="12.5" x2="409.3" y2="96.2" stroke="#efefef" stroke-width="0.6" />
<line x1="427.3" y1="12.5" x2="427.3" y2="96.2" stroke="#efefef" stroke-width="0.6" />
<line x1="445.3" y1="12.5" x2="445.3" y2="96.2" stroke="#efefef" stroke-width="0.6" />
<line x1="463.3" y1="12.5" x2="463.3" y2="96.2" stroke="#efefef" stroke-width="0.6" />
<path d="M403.05 16.9a0.95 0.95 0 1 0 1.9 0a0.95 0.95 0 1 0 -1.9 0M438.75 38.3a0.95 0.95 0 1 0 1.9 0a0.95 0.95 0 1 0 -1.9 0M445.05 37a0.95 0.95 0 1 0 1.9 0a0.95 0.95 0 1 0 -1.9 0M445.75 33.7a0.95 0.95 0 1 0 1.9 0a0.95 0.95 0 1 0 -1.9 0M447.85 35.1a0.95 0.95 0 1 0 1.9 0a0.95 0.95 0 1 0 -1.9 0M429.65 51.9a0.95 0.95 0 1 0 1.9 0a0.95 0.95 0 1 0 -1.9 0M452.05 49.8a0.95 0.95 0 1 0 1.9 0a0.95 0.95 0 1 0 -1.9 0M452.75 51.2a0.95 0.95 0 1 0 1.9 0a0.95 0.95 0 1 0 -1.9 0M408.65 59a0.95 0.95 0 1 0 1.9 0a0.95 0.95 0 1 0 -1.9 0M426.15 59a0.95 0.95 0 1 0 1.9 0a0.95 0.95 0 1 0 -1.9 0M431.75 57.9a0.95 0.95 0 1 0 1.9 0a0.95 0.95 0 1 0 -1.9 0M446.75 58.3a0.95 0.95 0 1 0 1.9 0a0.95 0.95 0 1 0 -1.9 0M429.65 61.8a0.95 0.95 0 1 0 1.9 0a0.95 0.95 0 1 0 -1.9 0M456.25 61.5a0.95 0.95 0 1 0 1.9 0a0.95 0.95 0 1 0 -1.9 0M438.35 66.7a0.95 0.95 0 1 0 1.9 0a0.95 0.95 0 1 0 -1.9 0M442.55 64.3a0.95 0.95 0 1 0 1.9 0a0.95 0.95 0 1 0 -1.9 0M405.85 69.1a0.95 0.95 0 1 0 1.9 0a0.95 0.95 0 1 0 -1.9 0M426.15 70.2a0.95 0.95 0 1 0 1.9 0a0.95 0.95 0 1 0 -1.9 0M443.65 70.2a0.95 0.95 0 1 0 1.9 0a0.95 0.95 0 1 0 -1.9 0M446.15 69.9a0.95 0.95 0 1 0 1.9 0a0.95 0.95 0 1 0 -1.9 0M450.65 68.8a0.95 0.95 0 1 0 1.9 0a0.95 0.95 0 1 0 -1.9 0M458.65 70.5a0.95 0.95 0 1 0 1.9 0a0.95 0.95 0 1 0 -1.9 0M459.75 73.7a0.95 0.95 0 1 0 1.9 0a0.95 0.95 0 1 0 -1.9 0M447.85 72.3a0.95 0.95 0 1 0 1.9 0a0.95 0.95 0 1 0 -1.9 0M449.95 75.1a0.95 0.95 0 1 0 1.9 0a0.95 0.95 0 1 0 -1.9 0M447.15 76.5a0.95 0.95 0 1 0 1.9 0a0.95 0.95 0 1 0 -1.9 0M446.45 77.9a0.95 0.95 0 1 0 1.9 0a0.95 0.95 0 1 0 -1.9 0M405.15 78.6a0.95 0.95 0 1 0 1.9 0a0.95 0.95 0 1 0 -1.9 0M433.85 80a0.95 0.95 0 1 0 1.9 0a0.95 0.95 0 1 0 -1.9 0M435.25 79.7a0.95 0.95 0 1 0 1.9 0a0.95 0.95 0 1 0 -1.9 0M442.95 79.3a0.95 0.95 0 1 0 1.9 0a0.95 0.95 0 1 0 -1.9 0M445.05 80.7a0.95 0.95 0 1 0 1.9 0a0.95 0.95 0 1 0 -1.9 0M454.85 80a0.95 0.95 0 1 0 1.9 0a0.95 0.95 0 1 0 -1.9 0M426.85 82.8a0.95 0.95 0 1 0 1.9 0a0.95 0.95 0 1 0 -1.9 0M427.55 84.9a0.95 0.95 0 1 0 1.9 0a0.95 0.95 0 1 0 -1.9 0M435.25 84.9a0.95 0.95 0 1 0 1.9 0a0.95 0.95 0 1 0 -1.9 0M442.25 84.2a0.95 0.95 0 1 0 1.9 0a0.95 0.95 0 1 0 -1.9 0M445.05 83.5a0.95 0.95 0 1 0 1.9 0a0.95 0.95 0 1 0 -1.9 0M448.55 83.5a0.95 0.95 0 1 0 1.9 0a0.95 0.95 0 1 0 -1.9 0M450.65 81.7a0.95 0.95 0 1 0 1.9 0a0.95 0.95 0 1 0 -1.9 0M452.75 82.8a0.95 0.95 0 1 0 1.9 0a0.95 0.95 0 1 0 -1.9 0M455.55 82.8a0.95 0.95 0 1 0 1.9 0a0.95 0.95 0 1 0 -1.9 0M450.65 85.6a0.95 0.95 0 1 0 1.9 0a0.95 0.95 0 1 0 -1.9 0M451.75 85.9a0.95 0.95 0 1 0 1.9 0a0.95 0.95 0 1 0 -1.9 0M443.65 87a0.95 0.95 0 1 0 1.9 0a0.95 0.95 0 1 0 -1.9 0M437.05 86.5a0.95 0.95 0 1 0 1.9 0a0.95 0.95 0 1 0 -1.9 0M431.05 88a0.95 0.95 0 1 0 1.9 0a0.95 0.95 0 1 0 -1.9 0M440.05 88.5a0.95 0.95 0 1 0 1.9 0a0.95 0.95 0 1 0 -1.9 0M457.05 87.5a0.95 0.95 0 1 0 1.9 0a0.95 0.95 0 1 0 -1.9 0M421.05 87.8a0.95 0.95 0 1 0 1.9 0a0.95 0.95 0 1 0 -1.9 0M416.05 88.2a0.95 0.95 0 1 0 1.9 0a0.95 0.95 0 1 0 -1.9 0" fill="#555555" fill-opacity="0.72"/>
<path d="M435.73 90.38a0.9 0.9 0 1 0 1.8 0a0.9 0.9 0 1 0 -1.8 0M458.01 90.91a0.9 0.9 0 1 0 1.8 0a0.9 0.9 0 1 0 -1.8 0M438.72 90.2a0.9 0.9 0 1 0 1.8 0a0.9 0.9 0 1 0 -1.8 0M418.42 90.66a0.9 0.9 0 1 0 1.8 0a0.9 0.9 0 1 0 -1.8 0M444.87 88.64a0.9 0.9 0 1 0 1.8 0a0.9 0.9 0 1 0 -1.8 0M410.33 91.59a0.9 0.9 0 1 0 1.8 0a0.9 0.9 0 1 0 -1.8 0M409.97 88.49a0.9 0.9 0 1 0 1.8 0a0.9 0.9 0 1 0 -1.8 0M447.89 92.09a0.9 0.9 0 1 0 1.8 0a0.9 0.9 0 1 0 -1.8 0M460.38 86.98a0.9 0.9 0 1 0 1.8 0a0.9 0.9 0 1 0 -1.8 0M446.03 90.02a0.9 0.9 0 1 0 1.8 0a0.9 0.9 0 1 0 -1.8 0M416.2 92.1a0.9 0.9 0 1 0 1.8 0a0.9 0.9 0 1 0 -1.8 0M439.79 92.08a0.9 0.9 0 1 0 1.8 0a0.9 0.9 0 1 0 -1.8 0M418.85 91.78a0.9 0.9 0 1 0 1.8 0a0.9 0.9 0 1 0 -1.8 0M402.29 90.92a0.9 0.9 0 1 0 1.8 0a0.9 0.9 0 1 0 -1.8 0M435.07 88.2a0.9 0.9 0 1 0 1.8 0a0.9 0.9 0 1 0 -1.8 0M439.31 89.85a0.9 0.9 0 1 0 1.8 0a0.9 0.9 0 1 0 -1.8 0M438.29 89.69a0.9 0.9 0 1 0 1.8 0a0.9 0.9 0 1 0 -1.8 0M436 91.67a0.9 0.9 0 1 0 1.8 0a0.9 0.9 0 1 0 -1.8 0M461.01 86.65a0.9 0.9 0 1 0 1.8 0a0.9 0.9 0 1 0 -1.8 0M454.45 89.34a0.9 0.9 0 1 0 1.8 0a0.9 0.9 0 1 0 -1.8 0M427.62 91.81a0.9 0.9 0 1 0 1.8 0a0.9 0.9 0 1 0 -1.8 0M425.92 92.07a0.9 0.9 0 1 0 1.8 0a0.9 0.9 0 1 0 -1.8 0M451.21 91.22a0.9 0.9 0 1 0 1.8 0a0.9 0.9 0 1 0 -1.8 0M454.73 91.28a0.9 0.9 0 1 0 1.8 0a0.9 0.9 0 1 0 -1.8 0M459.4 88.15a0.9 0.9 0 1 0 1.8 0a0.9 0.9 0 1 0 -1.8 0M394.84 91.86a0.9 0.9 0 1 0 1.8 0a0.9 0.9 0 1 0 -1.8 0M457.43 90.89a0.9 0.9 0 1 0 1.8 0a0.9 0.9 0 1 0 -1.8 0M460.31 91.23a0.9 0.9 0 1 0 1.8 0a0.9 0.9 0 1 0 -1.8 0M408.04 89.92a0.9 0.9 0 1 0 1.8 0a0.9 0.9 0 1 0 -1.8 0M451.75 91.7a0.9 0.9 0 1 0 1.8 0a0.9 0.9 0 1 0 -1.8 0M409.6 91.49a0.9 0.9 0 1 0 1.8 0a0.9 0.9 0 1 0 -1.8 0M459.65 88.94a0.9 0.9 0 1 0 1.8 0a0.9 0.9 0 1 0 -1.8 0M412.69 91.77a0.9 0.9 0 1 0 1.8 0a0.9 0.9 0 1 0 -1.8 0M411.04 92.08a0.9 0.9 0 1 0 1.8 0a0.9 0.9 0 1 0 -1.8 0M452.57 91.93a0.9 0.9 0 1 0 1.8 0a0.9 0.9 0 1 0 -1.8 0M441.38 91a0.9 0.9 0 1 0 1.8 0a0.9 0.9 0 1 0 -1.8 0M418.89 89.15a0.9 0.9 0 1 0 1.8 0a0.9 0.9 0 1 0 -1.8 0M413.89 89.82a0.9 0.9 0 1 0 1.8 0a0.9 0.9 0 1 0 -1.8 0M412.55 91.13a0.9 0.9 0 1 0 1.8 0a0.9 0.9 0 1 0 -1.8 0M420.58 91.7a0.9 0.9 0 1 0 1.8 0a0.9 0.9 0 1 0 -1.8 0M459.92 88.55a0.9 0.9 0 1 0 1.8 0a0.9 0.9 0 1 0 -1.8 0M426.9 87.79a0.9 0.9 0 1 0 1.8 0a0.9 0.9 0 1 0 -1.8 0M420.42 91.25a0.9 0.9 0 1 0 1.8 0a0.9 0.9 0 1 0 -1.8 0M455.06 89.83a0.9 0.9 0 1 0 1.8 0a0.9 0.9 0 1 0 -1.8 0M410.96 86.72a0.9 0.9 0 1 0 1.8 0a0.9 0.9 0 1 0 -1.8 0M420.61 91.73a0.9 0.9 0 1 0 1.8 0a0.9 0.9 0 1 0 -1.8 0M451.5 91.5a0.9 0.9 0 1 0 1.8 0a0.9 0.9 0 1 0 -1.8 0M426.4 92.07a0.9 0.9 0 1 0 1.8 0a0.9 0.9 0 1 0 -1.8 0M409.91 90.23a0.9 0.9 0 1 0 1.8 0a0.9 0.9 0 1 0 -1.8 0M422.77 90.11a0.9 0.9 0 1 0 1.8 0a0.9 0.9 0 1 0 -1.8 0M431.1 90.97a0.9 0.9 0 1 0 1.8 0a0.9 0.9 0 1 0 -1.8 0M459.44 90.81a0.9 0.9 0 1 0 1.8 0a0.9 0.9 0 1 0 -1.8 0M442.15 87.97a0.9 0.9 0 1 0 1.8 0a0.9 0.9 0 1 0 -1.8 0M418.27 91.97a0.9 0.9 0 1 0 1.8 0a0.9 0.9 0 1 0 -1.8 0M457.35 88.42a0.9 0.9 0 1 0 1.8 0a0.9 0.9 0 1 0 -1.8 0M423.23 91.9a0.9 0.9 0 1 0 1.8 0a0.9 0.9 0 1 0 -1.8 0M450 87.24a0.9 0.9 0 1 0 1.8 0a0.9 0.9 0 1 0 -1.8 0M419.35 87.13a0.9 0.9 0 1 0 1.8 0a0.9 0.9 0 1 0 -1.8 0M456.25 90.1a0.9 0.9 0 1 0 1.8 0a0.9 0.9 0 1 0 -1.8 0M434 92.04a0.9 0.9 0 1 0 1.8 0a0.9 0.9 0 1 0 -1.8 0M403.62 87a0.9 0.9 0 1 0 1.8 0a0.9 0.9 0 1 0 -1.8 0M422.44 89.37a0.9 0.9 0 1 0 1.8 0a0.9 0.9 0 1 0 -1.8 0M423.75 88.37a0.9 0.9 0 1 0 1.8 0a0.9 0.9 0 1 0 -1.8 0M443.24 91.63a0.9 0.9 0 1 0 1.8 0a0.9 0.9 0 1 0 -1.8 0M417.68 89.25a0.9 0.9 0 1 0 1.8 0a0.9 0.9 0 1 0 -1.8 0M407.54 91.81a0.9 0.9 0 1 0 1.8 0a0.9 0.9 0 1 0 -1.8 0M441.38 88.1a0.9 0.9 0 1 0 1.8 0a0.9 0.9 0 1 0 -1.8 0M444.12 91.67a0.9 0.9 0 1 0 1.8 0a0.9 0.9 0 1 0 -1.8 0M457.72 91.87a0.9 0.9 0 1 0 1.8 0a0.9 0.9 0 1 0 -1.8 0M399.82 91.7a0.9 0.9 0 1 0 1.8 0a0.9 0.9 0 1 0 -1.8 0" fill="#3a3a3a" fill-opacity="0.6"/>
<rect x="420.7" y="91.85" width="42.1" height="1.8" fill="#1c1c1c" stroke="none" stroke-width="0" fill-opacity="0.82"/>
<path d="M394.26 92.55a0.85 0.85 0 1 0 1.7 0a0.85 0.85 0 1 0 -1.7 0M394.92 92.77a0.85 0.85 0 1 0 1.7 0a0.85 0.85 0 1 0 -1.7 0M395.8 92.97a0.85 0.85 0 1 0 1.7 0a0.85 0.85 0 1 0 -1.7 0M396.53 93.34a0.85 0.85 0 1 0 1.7 0a0.85 0.85 0 1 0 -1.7 0M397.42 93.17a0.85 0.85 0 1 0 1.7 0a0.85 0.85 0 1 0 -1.7 0M398.23 92.97a0.85 0.85 0 1 0 1.7 0a0.85 0.85 0 1 0 -1.7 0M398.76 92.85a0.85 0.85 0 1 0 1.7 0a0.85 0.85 0 1 0 -1.7 0M399.27 92.49a0.85 0.85 0 1 0 1.7 0a0.85 0.85 0 1 0 -1.7 0M399.95 93.03a0.85 0.85 0 1 0 1.7 0a0.85 0.85 0 1 0 -1.7 0M401.06 93.05a0.85 0.85 0 1 0 1.7 0a0.85 0.85 0 1 0 -1.7 0M401.42 92.48a0.85 0.85 0 1 0 1.7 0a0.85 0.85 0 1 0 -1.7 0M402.17 92.84a0.85 0.85 0 1 0 1.7 0a0.85 0.85 0 1 0 -1.7 0M402.99 92.57a0.85 0.85 0 1 0 1.7 0a0.85 0.85 0 1 0 -1.7 0M403.44 92.47a0.85 0.85 0 1 0 1.7 0a0.85 0.85 0 1 0 -1.7 0M403.74 92.55a0.85 0.85 0 1 0 1.7 0a0.85 0.85 0 1 0 -1.7 0M404.31 92.98a0.85 0.85 0 1 0 1.7 0a0.85 0.85 0 1 0 -1.7 0M405.05 93.01a0.85 0.85 0 1 0 1.7 0a0.85 0.85 0 1 0 -1.7 0M405.71 93.29a0.85 0.85 0 1 0 1.7 0a0.85 0.85 0 1 0 -1.7 0M406.27 92.54a0.85 0.85 0 1 0 1.7 0a0.85 0.85 0 1 0 -1.7 0M407.33 93.15a0.85 0.85 0 1 0 1.7 0a0.85 0.85 0 1 0 -1.7 0M407.74 92.46a0.85 0.85 0 1 0 1.7 0a0.85 0.85 0 1 0 -1.7 0M409.17 92.77a0.85 0.85 0 1 0 1.7 0a0.85 0.85 0 1 0 -1.7 0M411.58 93.29a0.85 0.85 0 1 0 1.7 0a0.85 0.85 0 1 0 -1.7 0M414.12 93.26a0.85 0.85 0 1 0 1.7 0a0.85 0.85 0 1 0 -1.7 0M415.63 92.82a0.85 0.85 0 1 0 1.7 0a0.85 0.85 0 1 0 -1.7 0M417.18 93.15a0.85 0.85 0 1 0 1.7 0a0.85 0.85 0 1 0 -1.7 0M418.72 93.3a0.85 0.85 0 1 0 1.7 0a0.85 0.85 0 1 0 -1.7 0M420.03 93a0.85 0.85 0 1 0 1.7 0a0.85 0.85 0 1 0 -1.7 0M420.91 93.18a0.85 0.85 0 1 0 1.7 0a0.85 0.85 0 1 0 -1.7 0M421.3 92.72a0.85 0.85 0 1 0 1.7 0a0.85 0.85 0 1 0 -1.7 0M421.97 93.15a0.85 0.85 0 1 0 1.7 0a0.85 0.85 0 1 0 -1.7 0M422.44 93.21a0.85 0.85 0 1 0 1.7 0a0.85 0.85 0 1 0 -1.7 0M423.46 93.12a0.85 0.85 0 1 0 1.7 0a0.85 0.85 0 1 0 -1.7 0M424.04 92.54a0.85 0.85 0 1 0 1.7 0a0.85 0.85 0 1 0 -1.7 0M424.52 92.75a0.85 0.85 0 1 0 1.7 0a0.85 0.85 0 1 0 -1.7 0M425.62 93.21a0.85 0.85 0 1 0 1.7 0a0.85 0.85 0 1 0 -1.7 0M426.26 92.95a0.85 0.85 0 1 0 1.7 0a0.85 0.85 0 1 0 -1.7 0M427.14 92.92a0.85 0.85 0 1 0 1.7 0a0.85 0.85 0 1 0 -1.7 0M427.65 93.32a0.85 0.85 0 1 0 1.7 0a0.85 0.85 0 1 0 -1.7 0M428.28 92.46a0.85 0.85 0 1 0 1.7 0a0.85 0.85 0 1 0 -1.7 0M428.59 93.12a0.85 0.85 0 1 0 1.7 0a0.85 0.85 0 1 0 -1.7 0M429.75 92.74a0.85 0.85 0 1 0 1.7 0a0.85 0.85 0 1 0 -1.7 0M430.49 92.67a0.85 0.85 0 1 0 1.7 0a0.85 0.85 0 1 0 -1.7 0M431.54 93.07a0.85 0.85 0 1 0 1.7 0a0.85 0.85 0 1 0 -1.7 0M432.47 92.87a0.85 0.85 0 1 0 1.7 0a0.85 0.85 0 1 0 -1.7 0M433.25 93.22a0.85 0.85 0 1 0 1.7 0a0.85 0.85 0 1 0 -1.7 0M433.93 92.96a0.85 0.85 0 1 0 1.7 0a0.85 0.85 0 1 0 -1.7 0M434.31 93.01a0.85 0.85 0 1 0 1.7 0a0.85 0.85 0 1 0 -1.7 0M435.06 92.58a0.85 0.85 0 1 0 1.7 0a0.85 0.85 0 1 0 -1.7 0M435.17 93.29a0.85 0.85 0 1 0 1.7 0a0.85 0.85 0 1 0 -1.7 0M435.8 92.48a0.85 0.85 0 1 0 1.7 0a0.85 0.85 0 1 0 -1.7 0M436.46 93.02a0.85 0.85 0 1 0 1.7 0a0.85 0.85 0 1 0 -1.7 0M437.29 92.51a0.85 0.85 0 1 0 1.7 0a0.85 0.85 0 1 0 -1.7 0M437.89 93.19a0.85 0.85 0 1 0 1.7 0a0.85 0.85 0 1 0 -1.7 0M438.98 92.51a0.85 0.85 0 1 0 1.7 0a0.85 0.85 0 1 0 -1.7 0M439.9 93.3a0.85 0.85 0 1 0 1.7 0a0.85 0.85 0 1 0 -1.7 0M440.09 92.55a0.85 0.85 0 1 0 1.7 0a0.85 0.85 0 1 0 -1.7 0M440.79 93.18a0.85 0.85 0 1 0 1.7 0a0.85 0.85 0 1 0 -1.7 0M441.55 93.02a0.85 0.85 0 1 0 1.7 0a0.85 0.85 0 1 0 -1.7 0M441.85 92.54a0.85 0.85 0 1 0 1.7 0a0.85 0.85 0 1 0 -1.7 0M442.73 92.74a0.85 0.85 0 1 0 1.7 0a0.85 0.85 0 1 0 -1.7 0M443.31 92.68a0.85 0.85 0 1 0 1.7 0a0.85 0.85 0 1 0 -1.7 0M444.17 92.78a0.85 0.85 0 1 0 1.7 0a0.85 0.85 0 1 0 -1.7 0M444.87 92.9a0.85 0.85 0 1 0 1.7 0a0.85 0.85 0 1 0 -1.7 0M445.63 92.48a0.85 0.85 0 1 0 1.7 0a0.85 0.85 0 1 0 -1.7 0M446.21 93.15a0.85 0.85 0 1 0 1.7 0a0.85 0.85 0 1 0 -1.7 0M446.93 92.93a0.85 0.85 0 1 0 1.7 0a0.85 0.85 0 1 0 -1.7 0M447.53 92.53a0.85 0.85 0 1 0 1.7 0a0.85 0.85 0 1 0 -1.7 0M448.14 92.45a0.85 0.85 0 1 0 1.7 0a0.85 0.85 0 1 0 -1.7 0M448.91 93.33a0.85 0.85 0 1 0 1.7 0a0.85 0.85 0 1 0 -1.7 0M449.22 92.89a0.85 0.85 0 1 0 1.7 0a0.85 0.85 0 1 0 -1.7 0M449.96 92.9a0.85 0.85 0 1 0 1.7 0a0.85 0.85 0 1 0 -1.7 0M450.84 92.68a0.85 0.85 0 1 0 1.7 0a0.85 0.85 0 1 0 -1.7 0M451.57 92.64a0.85 0.85 0 1 0 1.7 0a0.85 0.85 0 1 0 -1.7 0M452.46 92.55a0.85 0.85 0 1 0 1.7 0a0.85 0.85 0 1 0 -1.7 0M453.07 93.16a0.85 0.85 0 1 0 1.7 0a0.85 0.85 0 1 0 -1.7 0M454.17 93.02a0.85 0.85 0 1 0 1.7 0a0.85 0.85 0 1 0 -1.7 0M454.63 92.81a0.85 0.85 0 1 0 1.7 0a0.85 0.85 0 1 0 -1.7 0M455.42 93.25a0.85 0.85 0 1 0 1.7 0a0.85 0.85 0 1 0 -1.7 0M455.9 92.69a0.85 0.85 0 1 0 1.7 0a0.85 0.85 0 1 0 -1.7 0M456.95 92.79a0.85 0.85 0 1 0 1.7 0a0.85 0.85 0 1 0 -1.7 0M457.76 92.86a0.85 0.85 0 1 0 1.7 0a0.85 0.85 0 1 0 -1.7 0M458.68 93.13a0.85 0.85 0 1 0 1.7 0a0.85 0.85 0 1 0 -1.7 0M459.3 92.74a0.85 0.85 0 1 0 1.7 0a0.85 0.85 0 1 0 -1.7 0M460.01 93.05a0.85 0.85 0 1 0 1.7 0a0.85 0.85 0 1 0 -1.7 0M460.57 92.84a0.85 0.85 0 1 0 1.7 0a0.85 0.85 0 1 0 -1.7 0M461.59 92.56a0.85 0.85 0 1 0 1.7 0a0.85 0.85 0 1 0 -1.7 0" fill="#151515" fill-opacity="0.8"/>
<path d="M395 85.7L397.83 85.77L400.66 85.84L403.49 85.9L406.32 85.97L409.15 86.03L411.98 86.08L414.8 86.13L417.63 86.18L420.46 86.22L423.29 86.25L426.12 86.28L428.95 86.31L431.78 86.32L434.61 86.33L437.44 86.34L440.27 86.33L443.1 86.31L445.92 86.27L448.75 86.21L451.58 86.13L454.41 86.04L457.24 85.94L460.07 85.82L462.9 85.7L462.9 90.3L460.07 90.18L457.24 90.08L454.41 89.98L451.58 89.9L448.75 89.83L445.92 89.78L443.1 89.75L440.27 89.73L437.44 89.74L434.61 89.75L431.78 89.77L428.95 89.79L426.12 89.83L423.29 89.86L420.46 89.91L417.63 89.96L414.8 90.01L411.98 90.07L409.15 90.13L406.32 90.2L403.49 90.27L400.66 90.34L397.83 90.42L395 90.5Z" stroke="none" stroke-width="0" fill="#999" fill-opacity="0.3"/>
<line x1="395" y1="89.1" x2="462.9" y2="89" stroke="#3366FF" stroke-width="1.1" />
<rect x="391.2" y="12.5" width="75" height="83.7" fill="none" stroke="#4d4d4d" stroke-width="0.7" />
<text x="435.9" y="20.3" font-size="4.9" fill="#000" font-weight="bold" textLength="23.95" lengthAdjust="spacingAndGlyphs" >R = -0.008</text>
<text x="435.9" y="26.3" font-size="4.9" font-weight="bold" textLength="21.69" lengthAdjust="spacingAndGlyphs"><tspan font-style="italic">p</tspan> = 0.885</text>
<line x1="409.3" y1="96.2" x2="409.3" y2="97.5" stroke="#555" stroke-width="0.5" />
<text x="409.3" y="102.8" font-size="5" fill="#3a3a3a" text-anchor="middle" textLength="7.88" lengthAdjust="spacingAndGlyphs" >0.25</text>
<line x1="427.3" y1="96.2" x2="427.3" y2="97.5" stroke="#555" stroke-width="0.5" />
<text x="427.3" y="102.8" font-size="5" fill="#3a3a3a" text-anchor="middle" textLength="7.88" lengthAdjust="spacingAndGlyphs" >0.50</text>
<line x1="445.3" y1="96.2" x2="445.3" y2="97.5" stroke="#555" stroke-width="0.5" />
<text x="445.3" y="102.8" font-size="5" fill="#3a3a3a" text-anchor="middle" textLength="7.88" lengthAdjust="spacingAndGlyphs" >0.75</text>
<line x1="463.3" y1="96.2" x2="463.3" y2="97.5" stroke="#555" stroke-width="0.5" />
<text x="463.3" y="102.8" font-size="5" fill="#3a3a3a" text-anchor="middle" textLength="7.88" lengthAdjust="spacingAndGlyphs" >1.00</text>
<text x="424.9" y="109.3" font-size="6" fill="#111" text-anchor="middle" textLength="12.65" lengthAdjust="spacingAndGlyphs" >Purity</text>
<rect x="384.9" y="122.2" width="8" height="83.9" fill="#d9d9d9" stroke="#8a8a8a" stroke-width="0.7" />
<text x="390.3" y="164.15" font-size="4.5" fill="#333" text-anchor="middle" transform="rotate(-90 390.3 164.15)" textLength="10.48" lengthAdjust="spacingAndGlyphs" >LIHC</text>
<line x1="383.5" y1="202.1" x2="384.9" y2="202.1" stroke="#555" stroke-width="0.5" />
<text x="383" y="203.85" font-size="5" fill="#3a3a3a" text-anchor="end" textLength="2.25" lengthAdjust="spacingAndGlyphs" >0</text>
<line x1="383.5" y1="186.1" x2="384.9" y2="186.1" stroke="#555" stroke-width="0.5" />
<text x="383" y="187.85" font-size="5" fill="#3a3a3a" text-anchor="end" textLength="2.25" lengthAdjust="spacingAndGlyphs" >1</text>
<line x1="383.5" y1="170.1" x2="384.9" y2="170.1" stroke="#555" stroke-width="0.5" />
<text x="383" y="171.85" font-size="5" fill="#3a3a3a" text-anchor="end" textLength="2.25" lengthAdjust="spacingAndGlyphs" >2</text>
<line x1="383.5" y1="154.1" x2="384.9" y2="154.1" stroke="#555" stroke-width="0.5" />
<text x="383" y="155.85" font-size="5" fill="#3a3a3a" text-anchor="end" textLength="2.25" lengthAdjust="spacingAndGlyphs" >3</text>
<line x1="383.5" y1="138.1" x2="384.9" y2="138.1" stroke="#555" stroke-width="0.5" />
<text x="383" y="139.85" font-size="5" fill="#3a3a3a" text-anchor="end" textLength="2.25" lengthAdjust="spacingAndGlyphs" >4</text>
<line x1="383.5" y1="122.1" x2="384.9" y2="122.1" stroke="#555" stroke-width="0.5" />
<text x="383" y="123.85" font-size="5" fill="#3a3a3a" text-anchor="end" textLength="2.25" lengthAdjust="spacingAndGlyphs" >5</text>
<rect x="392.9" y="112.7" width="74.7" height="9.5" fill="#d9d9d9" stroke="#8a8a8a" stroke-width="0.7" />
<text x="430.25" y="119.35" font-size="5.4" fill="#262626" text-anchor="middle" textLength="10.71" lengthAdjust="spacingAndGlyphs" >Purity</text>
<rect x="392.9" y="122.2" width="74.7" height="83.9" fill="#fff" stroke="none" stroke-width="0" />
<line x1="392.9" y1="194.1" x2="467.6" y2="194.1" stroke="#f7f7f7" stroke-width="0.4" />
<line x1="392.9" y1="178.1" x2="467.6" y2="178.1" stroke="#f7f7f7" stroke-width="0.4" />
<line x1="392.9" y1="162.1" x2="467.6" y2="162.1" stroke="#f7f7f7" stroke-width="0.4" />
<line x1="392.9" y1="146.1" x2="467.6" y2="146.1" stroke="#f7f7f7" stroke-width="0.4" />
<line x1="392.9" y1="130.1" x2="467.6" y2="130.1" stroke="#f7f7f7" stroke-width="0.4" />
<line x1="402" y1="122.2" x2="402" y2="206.1" stroke="#f7f7f7" stroke-width="0.4" />
<line x1="420" y1="122.2" x2="420" y2="206.1" stroke="#f7f7f7" stroke-width="0.4" />
<line x1="438" y1="122.2" x2="438" y2="206.1" stroke="#f7f7f7" stroke-width="0.4" />
<line x1="456" y1="122.2" x2="456" y2="206.1" stroke="#f7f7f7" stroke-width="0.4" />
<line x1="392.9" y1="202.1" x2="467.6" y2="202.1" stroke="#efefef" stroke-width="0.6" />
<line x1="392.9" y1="186.1" x2="467.6" y2="186.1" stroke="#efefef" stroke-width="0.6" />
<line x1="392.9" y1="170.1" x2="467.6" y2="170.1" stroke="#efefef" stroke-width="0.6" />
<line x1="392.9" y1="154.1" x2="467.6" y2="154.1" stroke="#efefef" stroke-width="0.6" />
<line x1="392.9" y1="138.1" x2="467.6" y2="138.1" stroke="#efefef" stroke-width="0.6" />
<line x1="392.9" y1="122.1" x2="467.6" y2="122.1" stroke="#efefef" stroke-width="0.6" />
<line x1="411" y1="122.2" x2="411" y2="206.1" stroke="#efefef" stroke-width="0.6" />
<line x1="429" y1="122.2" x2="429" y2="206.1" stroke="#efefef" stroke-width="0.6" />
<line x1="447" y1="122.2" x2="447" y2="206.1" stroke="#efefef" stroke-width="0.6" />
<line x1="465" y1="122.2" x2="465" y2="206.1" stroke="#efefef" stroke-width="0.6" />
<path d="M404.75 125.41a0.95 0.95 0 1 0 1.9 0a0.95 0.95 0 1 0 -1.9 0M440.45 146.89a0.95 0.95 0 1 0 1.9 0a0.95 0.95 0 1 0 -1.9 0M446.75 145.59a0.95 0.95 0 1 0 1.9 0a0.95 0.95 0 1 0 -1.9 0M447.45 142.28a0.95 0.95 0 1 0 1.9 0a0.95 0.95 0 1 0 -1.9 0M449.55 143.68a0.95 0.95 0 1 0 1.9 0a0.95 0.95 0 1 0 -1.9 0M431.35 160.54a0.95 0.95 0 1 0 1.9 0a0.95 0.95 0 1 0 -1.9 0M453.75 158.44a0.95 0.95 0 1 0 1.9 0a0.95 0.95 0 1 0 -1.9 0M454.45 159.84a0.95 0.95 0 1 0 1.9 0a0.95 0.95 0 1 0 -1.9 0M410.35 167.67a0.95 0.95 0 1 0 1.9 0a0.95 0.95 0 1 0 -1.9 0M427.85 167.67a0.95 0.95 0 1 0 1.9 0a0.95 0.95 0 1 0 -1.9 0M433.45 166.57a0.95 0.95 0 1 0 1.9 0a0.95 0.95 0 1 0 -1.9 0M448.45 166.97a0.95 0.95 0 1 0 1.9 0a0.95 0.95 0 1 0 -1.9 0M431.35 170.48a0.95 0.95 0 1 0 1.9 0a0.95 0.95 0 1 0 -1.9 0M457.95 170.18a0.95 0.95 0 1 0 1.9 0a0.95 0.95 0 1 0 -1.9 0M440.05 175.4a0.95 0.95 0 1 0 1.9 0a0.95 0.95 0 1 0 -1.9 0M444.25 172.99a0.95 0.95 0 1 0 1.9 0a0.95 0.95 0 1 0 -1.9 0M407.55 177.81a0.95 0.95 0 1 0 1.9 0a0.95 0.95 0 1 0 -1.9 0M427.85 178.91a0.95 0.95 0 1 0 1.9 0a0.95 0.95 0 1 0 -1.9 0M445.35 178.91a0.95 0.95 0 1 0 1.9 0a0.95 0.95 0 1 0 -1.9 0M447.85 178.61a0.95 0.95 0 1 0 1.9 0a0.95 0.95 0 1 0 -1.9 0M452.35 177.51a0.95 0.95 0 1 0 1.9 0a0.95 0.95 0 1 0 -1.9 0M460.35 179.21a0.95 0.95 0 1 0 1.9 0a0.95 0.95 0 1 0 -1.9 0M461.45 182.43a0.95 0.95 0 1 0 1.9 0a0.95 0.95 0 1 0 -1.9 0M449.55 181.02a0.95 0.95 0 1 0 1.9 0a0.95 0.95 0 1 0 -1.9 0M451.65 183.83a0.95 0.95 0 1 0 1.9 0a0.95 0.95 0 1 0 -1.9 0M448.85 185.24a0.95 0.95 0 1 0 1.9 0a0.95 0.95 0 1 0 -1.9 0M448.15 186.64a0.95 0.95 0 1 0 1.9 0a0.95 0.95 0 1 0 -1.9 0M406.85 187.34a0.95 0.95 0 1 0 1.9 0a0.95 0.95 0 1 0 -1.9 0M435.55 188.75a0.95 0.95 0 1 0 1.9 0a0.95 0.95 0 1 0 -1.9 0M436.95 188.45a0.95 0.95 0 1 0 1.9 0a0.95 0.95 0 1 0 -1.9 0M444.65 188.05a0.95 0.95 0 1 0 1.9 0a0.95 0.95 0 1 0 -1.9 0M446.75 189.45a0.95 0.95 0 1 0 1.9 0a0.95 0.95 0 1 0 -1.9 0M456.55 188.75a0.95 0.95 0 1 0 1.9 0a0.95 0.95 0 1 0 -1.9 0M428.55 191.56a0.95 0.95 0 1 0 1.9 0a0.95 0.95 0 1 0 -1.9 0M429.25 193.67a0.95 0.95 0 1 0 1.9 0a0.95 0.95 0 1 0 -1.9 0M436.95 193.67a0.95 0.95 0 1 0 1.9 0a0.95 0.95 0 1 0 -1.9 0M443.95 192.97a0.95 0.95 0 1 0 1.9 0a0.95 0.95 0 1 0 -1.9 0M446.75 192.26a0.95 0.95 0 1 0 1.9 0a0.95 0.95 0 1 0 -1.9 0M450.25 192.26a0.95 0.95 0 1 0 1.9 0a0.95 0.95 0 1 0 -1.9 0M452.35 190.46a0.95 0.95 0 1 0 1.9 0a0.95 0.95 0 1 0 -1.9 0M454.45 191.56a0.95 0.95 0 1 0 1.9 0a0.95 0.95 0 1 0 -1.9 0M457.25 191.56a0.95 0.95 0 1 0 1.9 0a0.95 0.95 0 1 0 -1.9 0M452.35 194.37a0.95 0.95 0 1 0 1.9 0a0.95 0.95 0 1 0 -1.9 0M453.45 194.67a0.95 0.95 0 1 0 1.9 0a0.95 0.95 0 1 0 -1.9 0M445.35 195.78a0.95 0.95 0 1 0 1.9 0a0.95 0.95 0 1 0 -1.9 0M438.75 195.27a0.95 0.95 0 1 0 1.9 0a0.95 0.95 0 1 0 -1.9 0M432.75 196.78a0.95 0.95 0 1 0 1.9 0a0.95 0.95 0 1 0 -1.9 0M441.75 197.28a0.95 0.95 0 1 0 1.9 0a0.95 0.95 0 1 0 -1.9 0M458.75 196.28a0.95 0.95 0 1 0 1.9 0a0.95 0.95 0 1 0 -1.9 0M422.75 196.58a0.95 0.95 0 1 0 1.9 0a0.95 0.95 0 1 0 -1.9 0M417.75 196.98a0.95 0.95 0 1 0 1.9 0a0.95 0.95 0 1 0 -1.9 0" fill="#555555" fill-opacity="0.72"/>
<path d="M437.43 199.18a0.9 0.9 0 1 0 1.8 0a0.9 0.9 0 1 0 -1.8 0M459.71 199.71a0.9 0.9 0 1 0 1.8 0a0.9 0.9 0 1 0 -1.8 0M440.42 199a0.9 0.9 0 1 0 1.8 0a0.9 0.9 0 1 0 -1.8 0M420.12 199.46a0.9 0.9 0 1 0 1.8 0a0.9 0.9 0 1 0 -1.8 0M446.57 197.44a0.9 0.9 0 1 0 1.8 0a0.9 0.9 0 1 0 -1.8 0M412.03 200.39a0.9 0.9 0 1 0 1.8 0a0.9 0.9 0 1 0 -1.8 0M411.67 197.29a0.9 0.9 0 1 0 1.8 0a0.9 0.9 0 1 0 -1.8 0M449.59 200.89a0.9 0.9 0 1 0 1.8 0a0.9 0.9 0 1 0 -1.8 0M462.08 195.78a0.9 0.9 0 1 0 1.8 0a0.9 0.9 0 1 0 -1.8 0M447.73 198.82a0.9 0.9 0 1 0 1.8 0a0.9 0.9 0 1 0 -1.8 0M417.9 200.9a0.9 0.9 0 1 0 1.8 0a0.9 0.9 0 1 0 -1.8 0M441.49 200.88a0.9 0.9 0 1 0 1.8 0a0.9 0.9 0 1 0 -1.8 0M420.55 200.58a0.9 0.9 0 1 0 1.8 0a0.9 0.9 0 1 0 -1.8 0M403.99 199.72a0.9 0.9 0 1 0 1.8 0a0.9 0.9 0 1 0 -1.8 0M436.77 197a0.9 0.9 0 1 0 1.8 0a0.9 0.9 0 1 0 -1.8 0M441.01 198.65a0.9 0.9 0 1 0 1.8 0a0.9 0.9 0 1 0 -1.8 0M439.99 198.49a0.9 0.9 0 1 0 1.8 0a0.9 0.9 0 1 0 -1.8 0M437.7 200.47a0.9 0.9 0 1 0 1.8 0a0.9 0.9 0 1 0 -1.8 0M462.71 195.45a0.9 0.9 0 1 0 1.8 0a0.9 0.9 0 1 0 -1.8 0M456.15 198.14a0.9 0.9 0 1 0 1.8 0a0.9 0.9 0 1 0 -1.8 0M429.32 200.61a0.9 0.9 0 1 0 1.8 0a0.9 0.9 0 1 0 -1.8 0M427.62 200.87a0.9 0.9 0 1 0 1.8 0a0.9 0.9 0 1 0 -1.8 0M452.91 200.02a0.9 0.9 0 1 0 1.8 0a0.9 0.9 0 1 0 -1.8 0M456.43 200.08a0.9 0.9 0 1 0 1.8 0a0.9 0.9 0 1 0 -1.8 0M461.1 196.95a0.9 0.9 0 1 0 1.8 0a0.9 0.9 0 1 0 -1.8 0M396.54 200.66a0.9 0.9 0 1 0 1.8 0a0.9 0.9 0 1 0 -1.8 0M459.13 199.69a0.9 0.9 0 1 0 1.8 0a0.9 0.9 0 1 0 -1.8 0M462.01 200.03a0.9 0.9 0 1 0 1.8 0a0.9 0.9 0 1 0 -1.8 0M409.74 198.72a0.9 0.9 0 1 0 1.8 0a0.9 0.9 0 1 0 -1.8 0M453.45 200.5a0.9 0.9 0 1 0 1.8 0a0.9 0.9 0 1 0 -1.8 0M411.3 200.29a0.9 0.9 0 1 0 1.8 0a0.9 0.9 0 1 0 -1.8 0M461.35 197.74a0.9 0.9 0 1 0 1.8 0a0.9 0.9 0 1 0 -1.8 0M414.39 200.57a0.9 0.9 0 1 0 1.8 0a0.9 0.9 0 1 0 -1.8 0M412.74 200.88a0.9 0.9 0 1 0 1.8 0a0.9 0.9 0 1 0 -1.8 0M454.27 200.73a0.9 0.9 0 1 0 1.8 0a0.9 0.9 0 1 0 -1.8 0M443.08 199.8a0.9 0.9 0 1 0 1.8 0a0.9 0.9 0 1 0 -1.8 0M420.59 197.95a0.9 0.9 0 1 0 1.8 0a0.9 0.9 0 1 0 -1.8 0M415.59 198.62a0.9 0.9 0 1 0 1.8 0a0.9 0.9 0 1 0 -1.8 0M414.25 199.93a0.9 0.9 0 1 0 1.8 0a0.9 0.9 0 1 0 -1.8 0M422.28 200.5a0.9 0.9 0 1 0 1.8 0a0.9 0.9 0 1 0 -1.8 0M461.62 197.35a0.9 0.9 0 1 0 1.8 0a0.9 0.9 0 1 0 -1.8 0M428.6 196.59a0.9 0.9 0 1 0 1.8 0a0.9 0.9 0 1 0 -1.8 0M422.12 200.05a0.9 0.9 0 1 0 1.8 0a0.9 0.9 0 1 0 -1.8 0M456.76 198.63a0.9 0.9 0 1 0 1.8 0a0.9 0.9 0 1 0 -1.8 0M412.66 195.52a0.9 0.9 0 1 0 1.8 0a0.9 0.9 0 1 0 -1.8 0M422.31 200.53a0.9 0.9 0 1 0 1.8 0a0.9 0.9 0 1 0 -1.8 0M453.2 200.3a0.9 0.9 0 1 0 1.8 0a0.9 0.9 0 1 0 -1.8 0M428.1 200.87a0.9 0.9 0 1 0 1.8 0a0.9 0.9 0 1 0 -1.8 0M411.61 199.03a0.9 0.9 0 1 0 1.8 0a0.9 0.9 0 1 0 -1.8 0M424.47 198.91a0.9 0.9 0 1 0 1.8 0a0.9 0.9 0 1 0 -1.8 0M432.8 199.77a0.9 0.9 0 1 0 1.8 0a0.9 0.9 0 1 0 -1.8 0M461.14 199.61a0.9 0.9 0 1 0 1.8 0a0.9 0.9 0 1 0 -1.8 0M443.85 196.77a0.9 0.9 0 1 0 1.8 0a0.9 0.9 0 1 0 -1.8 0M419.97 200.77a0.9 0.9 0 1 0 1.8 0a0.9 0.9 0 1 0 -1.8 0M459.05 197.22a0.9 0.9 0 1 0 1.8 0a0.9 0.9 0 1 0 -1.8 0M424.93 200.7a0.9 0.9 0 1 0 1.8 0a0.9 0.9 0 1 0 -1.8 0M451.7 196.04a0.9 0.9 0 1 0 1.8 0a0.9 0.9 0 1 0 -1.8 0M421.05 195.93a0.9 0.9 0 1 0 1.8 0a0.9 0.9 0 1 0 -1.8 0M457.95 198.9a0.9 0.9 0 1 0 1.8 0a0.9 0.9 0 1 0 -1.8 0M435.7 200.84a0.9 0.9 0 1 0 1.8 0a0.9 0.9 0 1 0 -1.8 0M405.32 195.8a0.9 0.9 0 1 0 1.8 0a0.9 0.9 0 1 0 -1.8 0M424.14 198.17a0.9 0.9 0 1 0 1.8 0a0.9 0.9 0 1 0 -1.8 0M425.45 197.17a0.9 0.9 0 1 0 1.8 0a0.9 0.9 0 1 0 -1.8 0M444.94 200.43a0.9 0.9 0 1 0 1.8 0a0.9 0.9 0 1 0 -1.8 0M419.38 198.05a0.9 0.9 0 1 0 1.8 0a0.9 0.9 0 1 0 -1.8 0M409.24 200.61a0.9 0.9 0 1 0 1.8 0a0.9 0.9 0 1 0 -1.8 0M443.08 196.9a0.9 0.9 0 1 0 1.8 0a0.9 0.9 0 1 0 -1.8 0M445.82 200.47a0.9 0.9 0 1 0 1.8 0a0.9 0.9 0 1 0 -1.8 0M459.42 200.67a0.9 0.9 0 1 0 1.8 0a0.9 0.9 0 1 0 -1.8 0M401.52 200.5a0.9 0.9 0 1 0 1.8 0a0.9 0.9 0 1 0 -1.8 0" fill="#3a3a3a" fill-opacity="0.6"/>
<rect x="422.4" y="200.65" width="42.1" height="1.8" fill="#1c1c1c" stroke="none" stroke-width="0" fill-opacity="0.82"/>
<path d="M396 201.46a0.85 0.85 0 1 0 1.7 0a0.85 0.85 0 1 0 -1.7 0M396.3 201.88a0.85 0.85 0 1 0 1.7 0a0.85 0.85 0 1 0 -1.7 0M397.13 201.39a0.85 0.85 0 1 0 1.7 0a0.85 0.85 0 1 0 -1.7 0M397.76 201.72a0.85 0.85 0 1 0 1.7 0a0.85 0.85 0 1 0 -1.7 0M398.27 201.42a0.85 0.85 0 1 0 1.7 0a0.85 0.85 0 1 0 -1.7 0M399.4 201.34a0.85 0.85 0 1 0 1.7 0a0.85 0.85 0 1 0 -1.7 0M400.1 201.6a0.85 0.85 0 1 0 1.7 0a0.85 0.85 0 1 0 -1.7 0M401.35 201.91a0.85 0.85 0 1 0 1.7 0a0.85 0.85 0 1 0 -1.7 0M401.78 201.82a0.85 0.85 0 1 0 1.7 0a0.85 0.85 0 1 0 -1.7 0M402.26 201.6a0.85 0.85 0 1 0 1.7 0a0.85 0.85 0 1 0 -1.7 0M402.78 201.96a0.85 0.85 0 1 0 1.7 0a0.85 0.85 0 1 0 -1.7 0M403.63 201.82a0.85 0.85 0 1 0 1.7 0a0.85 0.85 0 1 0 -1.7 0M404.16 201.79a0.85 0.85 0 1 0 1.7 0a0.85 0.85 0 1 0 -1.7 0M405.05 202.07a0.85 0.85 0 1 0 1.7 0a0.85 0.85 0 1 0 -1.7 0M405.64 201.92a0.85 0.85 0 1 0 1.7 0a0.85 0.85 0 1 0 -1.7 0M406.16 201.9a0.85 0.85 0 1 0 1.7 0a0.85 0.85 0 1 0 -1.7 0M407.29 201.88a0.85 0.85 0 1 0 1.7 0a0.85 0.85 0 1 0 -1.7 0M408.15 201.83a0.85 0.85 0 1 0 1.7 0a0.85 0.85 0 1 0 -1.7 0M408.68 201.82a0.85 0.85 0 1 0 1.7 0a0.85 0.85 0 1 0 -1.7 0M409.19 201.95a0.85 0.85 0 1 0 1.7 0a0.85 0.85 0 1 0 -1.7 0M410.9 201.48a0.85 0.85 0 1 0 1.7 0a0.85 0.85 0 1 0 -1.7 0M412.9 201.81a0.85 0.85 0 1 0 1.7 0a0.85 0.85 0 1 0 -1.7 0M415.03 202.09a0.85 0.85 0 1 0 1.7 0a0.85 0.85 0 1 0 -1.7 0M416.66 201.95a0.85 0.85 0 1 0 1.7 0a0.85 0.85 0 1 0 -1.7 0M418.6 202.13a0.85 0.85 0 1 0 1.7 0a0.85 0.85 0 1 0 -1.7 0M420.01 201.39a0.85 0.85 0 1 0 1.7 0a0.85 0.85 0 1 0 -1.7 0M422.03 201.72a0.85 0.85 0 1 0 1.7 0a0.85 0.85 0 1 0 -1.7 0M422.36 201.74a0.85 0.85 0 1 0 1.7 0a0.85 0.85 0 1 0 -1.7 0M423.15 201.83a0.85 0.85 0 1 0 1.7 0a0.85 0.85 0 1 0 -1.7 0M424.04 201.62a0.85 0.85 0 1 0 1.7 0a0.85 0.85 0 1 0 -1.7 0M424.87 201.87a0.85 0.85 0 1 0 1.7 0a0.85 0.85 0 1 0 -1.7 0M425.73 201.36a0.85 0.85 0 1 0 1.7 0a0.85 0.85 0 1 0 -1.7 0M426.54 201.3a0.85 0.85 0 1 0 1.7 0a0.85 0.85 0 1 0 -1.7 0M427.13 201.26a0.85 0.85 0 1 0 1.7 0a0.85 0.85 0 1 0 -1.7 0M427.79 201.88a0.85 0.85 0 1 0 1.7 0a0.85 0.85 0 1 0 -1.7 0M428.35 201.45a0.85 0.85 0 1 0 1.7 0a0.85 0.85 0 1 0 -1.7 0M429.45 201.72a0.85 0.85 0 1 0 1.7 0a0.85 0.85 0 1 0 -1.7 0M429.94 201.6a0.85 0.85 0 1 0 1.7 0a0.85 0.85 0 1 0 -1.7 0M430.21 201.95a0.85 0.85 0 1 0 1.7 0a0.85 0.85 0 1 0 -1.7 0M431.28 201.67a0.85 0.85 0 1 0 1.7 0a0.85 0.85 0 1 0 -1.7 0M431.85 202.12a0.85 0.85 0 1 0 1.7 0a0.85 0.85 0 1 0 -1.7 0M432.64 201.99a0.85 0.85 0 1 0 1.7 0a0.85 0.85 0 1 0 -1.7 0M433.45 201.51a0.85 0.85 0 1 0 1.7 0a0.85 0.85 0 1 0 -1.7 0M434.04 202a0.85 0.85 0 1 0 1.7 0a0.85 0.85 0 1 0 -1.7 0M434.95 201.49a0.85 0.85 0 1 0 1.7 0a0.85 0.85 0 1 0 -1.7 0M435.34 201.63a0.85 0.85 0 1 0 1.7 0a0.85 0.85 0 1 0 -1.7 0M435.76 201.9a0.85 0.85 0 1 0 1.7 0a0.85 0.85 0 1 0 -1.7 0M436.44 201.52a0.85 0.85 0 1 0 1.7 0a0.85 0.85 0 1 0 -1.7 0M437.2 201.82a0.85 0.85 0 1 0 1.7 0a0.85 0.85 0 1 0 -1.7 0M437.96 202.09a0.85 0.85 0 1 0 1.7 0a0.85 0.85 0 1 0 -1.7 0M438.74 202a0.85 0.85 0 1 0 1.7 0a0.85 0.85 0 1 0 -1.7 0M439.95 201.38a0.85 0.85 0 1 0 1.7 0a0.85 0.85 0 1 0 -1.7 0M440.78 201.26a0.85 0.85 0 1 0 1.7 0a0.85 0.85 0 1 0 -1.7 0M441.33 201.84a0.85 0.85 0 1 0 1.7 0a0.85 0.85 0 1 0 -1.7 0M441.55 201.38a0.85 0.85 0 1 0 1.7 0a0.85 0.85 0 1 0 -1.7 0M442.37 201.56a0.85 0.85 0 1 0 1.7 0a0.85 0.85 0 1 0 -1.7 0M442.93 201.96a0.85 0.85 0 1 0 1.7 0a0.85 0.85 0 1 0 -1.7 0M443.44 201.8a0.85 0.85 0 1 0 1.7 0a0.85 0.85 0 1 0 -1.7 0M444.21 202.05a0.85 0.85 0 1 0 1.7 0a0.85 0.85 0 1 0 -1.7 0M445.14 201.43a0.85 0.85 0 1 0 1.7 0a0.85 0.85 0 1 0 -1.7 0M445.82 201.92a0.85 0.85 0 1 0 1.7 0a0.85 0.85 0 1 0 -1.7 0M446.63 201.75a0.85 0.85 0 1 0 1.7 0a0.85 0.85 0 1 0 -1.7 0M446.94 201.38a0.85 0.85 0 1 0 1.7 0a0.85 0.85 0 1 0 -1.7 0M447.56 201.67a0.85 0.85 0 1 0 1.7 0a0.85 0.85 0 1 0 -1.7 0M448.24 201.7a0.85 0.85 0 1 0 1.7 0a0.85 0.85 0 1 0 -1.7 0M449.11 201.26a0.85 0.85 0 1 0 1.7 0a0.85 0.85 0 1 0 -1.7 0M449.84 201.76a0.85 0.85 0 1 0 1.7 0a0.85 0.85 0 1 0 -1.7 0M450.78 201.59a0.85 0.85 0 1 0 1.7 0a0.85 0.85 0 1 0 -1.7 0M451.48 201.32a0.85 0.85 0 1 0 1.7 0a0.85 0.85 0 1 0 -1.7 0M452.13 201.28a0.85 0.85 0 1 0 1.7 0a0.85 0.85 0 1 0 -1.7 0M452.91 202.09a0.85 0.85 0 1 0 1.7 0a0.85 0.85 0 1 0 -1.7 0M453.64 201.71a0.85 0.85 0 1 0 1.7 0a0.85 0.85 0 1 0 -1.7 0M454.29 201.28a0.85 0.85 0 1 0 1.7 0a0.85 0.85 0 1 0 -1.7 0M455.01 201.55a0.85 0.85 0 1 0 1.7 0a0.85 0.85 0 1 0 -1.7 0M455.81 201.68a0.85 0.85 0 1 0 1.7 0a0.85 0.85 0 1 0 -1.7 0M456.68 201.44a0.85 0.85 0 1 0 1.7 0a0.85 0.85 0 1 0 -1.7 0M457.21 201.75a0.85 0.85 0 1 0 1.7 0a0.85 0.85 0 1 0 -1.7 0M458.04 201.99a0.85 0.85 0 1 0 1.7 0a0.85 0.85 0 1 0 -1.7 0M458.77 201.49a0.85 0.85 0 1 0 1.7 0a0.85 0.85 0 1 0 -1.7 0M459.66 201.84a0.85 0.85 0 1 0 1.7 0a0.85 0.85 0 1 0 -1.7 0M460.27 201.54a0.85 0.85 0 1 0 1.7 0a0.85 0.85 0 1 0 -1.7 0M460.96 201.82a0.85 0.85 0 1 0 1.7 0a0.85 0.85 0 1 0 -1.7 0M461.6 201.9a0.85 0.85 0 1 0 1.7 0a0.85 0.85 0 1 0 -1.7 0M462.71 201.29a0.85 0.85 0 1 0 1.7 0a0.85 0.85 0 1 0 -1.7 0M463.09 201.42a0.85 0.85 0 1 0 1.7 0a0.85 0.85 0 1 0 -1.7 0" fill="#151515" fill-opacity="0.8"/>
<path d="M396.7 194.5L399.52 194.57L402.33 194.64L405.15 194.7L407.97 194.77L410.78 194.82L413.6 194.88L416.42 194.93L419.23 194.97L422.05 195.02L424.87 195.05L427.68 195.08L430.5 195.1L433.32 195.12L436.13 195.13L438.95 195.14L441.77 195.13L444.58 195.11L447.4 195.07L450.22 195.01L453.03 194.94L455.85 194.85L458.67 194.74L461.48 194.63L464.3 194.5L464.3 199.1L461.48 198.98L458.67 198.88L455.85 198.78L453.03 198.7L450.22 198.63L447.4 198.58L444.58 198.55L441.77 198.53L438.95 198.54L436.13 198.55L433.32 198.57L430.5 198.6L427.68 198.63L424.87 198.67L422.05 198.71L419.23 198.76L416.42 198.81L413.6 198.87L410.78 198.93L407.97 199L405.15 199.07L402.33 199.14L399.52 199.22L396.7 199.3Z" stroke="none" stroke-width="0" fill="#999" fill-opacity="0.3"/>
<line x1="396.7" y1="197.9" x2="464.3" y2="197.8" stroke="#3366FF" stroke-width="1.1" />
<rect x="392.9" y="122.2" width="74.7" height="83.9" fill="none" stroke="#4d4d4d" stroke-width="0.7" />
<text x="437.6" y="129.5" font-size="4.9" fill="#000" font-weight="bold" textLength="23.95" lengthAdjust="spacingAndGlyphs" >R = -0.008</text>
<text x="437.6" y="135.5" font-size="4.9" font-weight="bold" textLength="21.69" lengthAdjust="spacingAndGlyphs"><tspan font-style="italic">p</tspan> = 0.885</text>
<line x1="411" y1="206.1" x2="411" y2="207.4" stroke="#555" stroke-width="0.5" />
<text x="411" y="212.2" font-size="5" fill="#3a3a3a" text-anchor="middle" textLength="7.88" lengthAdjust="spacingAndGlyphs" >0.25</text>
<line x1="429" y1="206.1" x2="429" y2="207.4" stroke="#555" stroke-width="0.5" />
<text x="429" y="212.2" font-size="5" fill="#3a3a3a" text-anchor="middle" textLength="7.88" lengthAdjust="spacingAndGlyphs" >0.50</text>
<line x1="447" y1="206.1" x2="447" y2="207.4" stroke="#555" stroke-width="0.5" />
<text x="447" y="212.2" font-size="5" fill="#3a3a3a" text-anchor="middle" textLength="7.88" lengthAdjust="spacingAndGlyphs" >0.75</text>
<line x1="465" y1="206.1" x2="465" y2="207.4" stroke="#555" stroke-width="0.5" />
<text x="465" y="212.2" font-size="5" fill="#3a3a3a" text-anchor="middle" textLength="7.88" lengthAdjust="spacingAndGlyphs" >1.00</text>
<text x="426.6" y="218.8" font-size="6" fill="#111" text-anchor="middle" textLength="12.65" lengthAdjust="spacingAndGlyphs" >Purity</text>
<rect x="135.3" y="3.4" width="74.2" height="9.1" fill="#d9d9d9" stroke="#8a8a8a" stroke-width="0.7" />
<text x="172.4" y="9.85" font-size="5.4" fill="#262626" text-anchor="middle" textLength="25.61" lengthAdjust="spacingAndGlyphs" >B cell_TIMER</text>
<rect x="135.3" y="12.5" width="74.2" height="83.7" fill="#fff" stroke="none" stroke-width="0" />
<line x1="135.3" y1="85.33" x2="209.5" y2="85.33" stroke="#f7f7f7" stroke-width="0.4" />
<line x1="135.3" y1="69.39" x2="209.5" y2="69.39" stroke="#f7f7f7" stroke-width="0.4" />
<line x1="135.3" y1="53.45" x2="209.5" y2="53.45" stroke="#f7f7f7" stroke-width="0.4" />
<line x1="135.3" y1="37.51" x2="209.5" y2="37.51" stroke="#f7f7f7" stroke-width="0.4" />
<line x1="135.3" y1="21.57" x2="209.5" y2="21.57" stroke="#f7f7f7" stroke-width="0.4" />
<line x1="148.45" y1="12.5" x2="148.45" y2="96.2" stroke="#f7f7f7" stroke-width="0.4" />
<line x1="168.35" y1="12.5" x2="168.35" y2="96.2" stroke="#f7f7f7" stroke-width="0.4" />
<line x1="188.25" y1="12.5" x2="188.25" y2="96.2" stroke="#f7f7f7" stroke-width="0.4" />
<line x1="208.15" y1="12.5" x2="208.15" y2="96.2" stroke="#f7f7f7" stroke-width="0.4" />
<line x1="135.3" y1="93.3" x2="209.5" y2="93.3" stroke="#efefef" stroke-width="0.6" />
<line x1="135.3" y1="77.36" x2="209.5" y2="77.36" stroke="#efefef" stroke-width="0.6" />
<line x1="135.3" y1="61.42" x2="209.5" y2="61.42" stroke="#efefef" stroke-width="0.6" />
<line x1="135.3" y1="45.48" x2="209.5" y2="45.48" stroke="#efefef" stroke-width="0.6" />
<line x1="135.3" y1="29.54" x2="209.5" y2="29.54" stroke="#efefef" stroke-width="0.6" />
<line x1="135.3" y1="13.6" x2="209.5" y2="13.6" stroke="#efefef" stroke-width="0.6" />
<line x1="138.5" y1="12.5" x2="138.5" y2="96.2" stroke="#efefef" stroke-width="0.6" />
<line x1="158.4" y1="12.5" x2="158.4" y2="96.2" stroke="#efefef" stroke-width="0.6" />
<line x1="178.3" y1="12.5" x2="178.3" y2="96.2" stroke="#efefef" stroke-width="0.6" />
<line x1="198.2" y1="12.5" x2="198.2" y2="96.2" stroke="#efefef" stroke-width="0.6" />
<path d="M142.45 16.8a0.95 0.95 0 1 0 1.9 0a0.95 0.95 0 1 0 -1.9 0M152.15 16.8a0.95 0.95 0 1 0 1.9 0a0.95 0.95 0 1 0 -1.9 0M151.05 33.4a0.95 0.95 0 1 0 1.9 0a0.95 0.95 0 1 0 -1.9 0M142.05 36.2a0.95 0.95 0 1 0 1.9 0a0.95 0.95 0 1 0 -1.9 0M140.65 38.3a0.95 0.95 0 1 0 1.9 0a0.95 0.95 0 1 0 -1.9 0M141.35 51.4a0.95 0.95 0 1 0 1.9 0a0.95 0.95 0 1 0 -1.9 0M150.35 51.8a0.95 0.95 0 1 0 1.9 0a0.95 0.95 0 1 0 -1.9 0M159.35 49.6a0.95 0.95 0 1 0 1.9 0a0.95 0.95 0 1 0 -1.9 0M141.65 51.4a0.95 0.95 0 1 0 1.9 0a0.95 0.95 0 1 0 -1.9 0M143.55 57.7a0.95 0.95 0 1 0 1.9 0a0.95 0.95 0 1 0 -1.9 0M144.45 58.6a0.95 0.95 0 1 0 1.9 0a0.95 0.95 0 1 0 -1.9 0M145.35 59.1a0.95 0.95 0 1 0 1.9 0a0.95 0.95 0 1 0 -1.9 0M140.35 61.8a0.95 0.95 0 1 0 1.9 0a0.95 0.95 0 1 0 -1.9 0M147.15 61.8a0.95 0.95 0 1 0 1.9 0a0.95 0.95 0 1 0 -1.9 0M143.05 64.5a0.95 0.95 0 1 0 1.9 0a0.95 0.95 0 1 0 -1.9 0M142.15 67.3a0.95 0.95 0 1 0 1.9 0a0.95 0.95 0 1 0 -1.9 0M141.65 68.2a0.95 0.95 0 1 0 1.9 0a0.95 0.95 0 1 0 -1.9 0M140.35 69.1a0.95 0.95 0 1 0 1.9 0a0.95 0.95 0 1 0 -1.9 0M139.85 70a0.95 0.95 0 1 0 1.9 0a0.95 0.95 0 1 0 -1.9 0M139.45 70.5a0.95 0.95 0 1 0 1.9 0a0.95 0.95 0 1 0 -1.9 0M143.05 70.5a0.95 0.95 0 1 0 1.9 0a0.95 0.95 0 1 0 -1.9 0M154.85 72.3a0.95 0.95 0 1 0 1.9 0a0.95 0.95 0 1 0 -1.9 0M139.85 74.5a0.95 0.95 0 1 0 1.9 0a0.95 0.95 0 1 0 -1.9 0M139.45 75.5a0.95 0.95 0 1 0 1.9 0a0.95 0.95 0 1 0 -1.9 0M145.35 75.5a0.95 0.95 0 1 0 1.9 0a0.95 0.95 0 1 0 -1.9 0M138.55 77.3a0.95 0.95 0 1 0 1.9 0a0.95 0.95 0 1 0 -1.9 0M147.55 79.1a0.95 0.95 0 1 0 1.9 0a0.95 0.95 0 1 0 -1.9 0M144.45 80a0.95 0.95 0 1 0 1.9 0a0.95 0.95 0 1 0 -1.9 0M155.35 79.1a0.95 0.95 0 1 0 1.9 0a0.95 0.95 0 1 0 -1.9 0M140.35 80.9a0.95 0.95 0 1 0 1.9 0a0.95 0.95 0 1 0 -1.9 0M139.45 82.3a0.95 0.95 0 1 0 1.9 0a0.95 0.95 0 1 0 -1.9 0M138.95 84.1a0.95 0.95 0 1 0 1.9 0a0.95 0.95 0 1 0 -1.9 0M141.65 82.7a0.95 0.95 0 1 0 1.9 0a0.95 0.95 0 1 0 -1.9 0M142.55 84.5a0.95 0.95 0 1 0 1.9 0a0.95 0.95 0 1 0 -1.9 0M140.35 85a0.95 0.95 0 1 0 1.9 0a0.95 0.95 0 1 0 -1.9 0M141.25 85.9a0.95 0.95 0 1 0 1.9 0a0.95 0.95 0 1 0 -1.9 0M139.45 86.8a0.95 0.95 0 1 0 1.9 0a0.95 0.95 0 1 0 -1.9 0M138.95 87.3a0.95 0.95 0 1 0 1.9 0a0.95 0.95 0 1 0 -1.9 0M145.75 89.1a0.95 0.95 0 1 0 1.9 0a0.95 0.95 0 1 0 -1.9 0M153.95 91.4a0.95 0.95 0 1 0 1.9 0a0.95 0.95 0 1 0 -1.9 0M155.75 90.5a0.95 0.95 0 1 0 1.9 0a0.95 0.95 0 1 0 -1.9 0M154.85 92.3a0.95 0.95 0 1 0 1.9 0a0.95 0.95 0 1 0 -1.9 0M204.95 92.8a0.95 0.95 0 1 0 1.9 0a0.95 0.95 0 1 0 -1.9 0M138.25 88.5a0.95 0.95 0 1 0 1.9 0a0.95 0.95 0 1 0 -1.9 0M139.25 89.5a0.95 0.95 0 1 0 1.9 0a0.95 0.95 0 1 0 -1.9 0M140.55 88.8a0.95 0.95 0 1 0 1.9 0a0.95 0.95 0 1 0 -1.9 0M142.05 87.6a0.95 0.95 0 1 0 1.9 0a0.95 0.95 0 1 0 -1.9 0M143.85 88.3a0.95 0.95 0 1 0 1.9 0a0.95 0.95 0 1 0 -1.9 0M138.05 80a0.95 0.95 0 1 0 1.9 0a0.95 0.95 0 1 0 -1.9 0M137.85 85.6a0.95 0.95 0 1 0 1.9 0a0.95 0.95 0 1 0 -1.9 0M139.05 78.5a0.95 0.95 0 1 0 1.9 0a0.95 0.95 0 1 0 -1.9 0M146.55 85.5a0.95 0.95 0 1 0 1.9 0a0.95 0.95 0 1 0 -1.9 0" fill="#555555" fill-opacity="0.72"/>
<path d="M142.01 89.71a0.9 0.9 0 1 0 1.8 0a0.9 0.9 0 1 0 -1.8 0M144.2 86.81a0.9 0.9 0 1 0 1.8 0a0.9 0.9 0 1 0 -1.8 0M142.04 90.08a0.9 0.9 0 1 0 1.8 0a0.9 0.9 0 1 0 -1.8 0M142.21 89.34a0.9 0.9 0 1 0 1.8 0a0.9 0.9 0 1 0 -1.8 0M141.87 89.49a0.9 0.9 0 1 0 1.8 0a0.9 0.9 0 1 0 -1.8 0M138.35 89.63a0.9 0.9 0 1 0 1.8 0a0.9 0.9 0 1 0 -1.8 0M140.41 88.64a0.9 0.9 0 1 0 1.8 0a0.9 0.9 0 1 0 -1.8 0M137.71 92.34a0.9 0.9 0 1 0 1.8 0a0.9 0.9 0 1 0 -1.8 0M137.47 88.51a0.9 0.9 0 1 0 1.8 0a0.9 0.9 0 1 0 -1.8 0M145.88 89.73a0.9 0.9 0 1 0 1.8 0a0.9 0.9 0 1 0 -1.8 0M139.57 87.94a0.9 0.9 0 1 0 1.8 0a0.9 0.9 0 1 0 -1.8 0M144.17 90.53a0.9 0.9 0 1 0 1.8 0a0.9 0.9 0 1 0 -1.8 0M138.67 92a0.9 0.9 0 1 0 1.8 0a0.9 0.9 0 1 0 -1.8 0M140.06 91.94a0.9 0.9 0 1 0 1.8 0a0.9 0.9 0 1 0 -1.8 0M140.14 89.86a0.9 0.9 0 1 0 1.8 0a0.9 0.9 0 1 0 -1.8 0M146.15 92.49a0.9 0.9 0 1 0 1.8 0a0.9 0.9 0 1 0 -1.8 0M141.55 92.49a0.9 0.9 0 1 0 1.8 0a0.9 0.9 0 1 0 -1.8 0M137.8 88.09a0.9 0.9 0 1 0 1.8 0a0.9 0.9 0 1 0 -1.8 0M141.63 86.69a0.9 0.9 0 1 0 1.8 0a0.9 0.9 0 1 0 -1.8 0M140.29 92.5a0.9 0.9 0 1 0 1.8 0a0.9 0.9 0 1 0 -1.8 0M139.74 90.29a0.9 0.9 0 1 0 1.8 0a0.9 0.9 0 1 0 -1.8 0M146.21 85.79a0.9 0.9 0 1 0 1.8 0a0.9 0.9 0 1 0 -1.8 0M140.58 91.5a0.9 0.9 0 1 0 1.8 0a0.9 0.9 0 1 0 -1.8 0M137.72 89.84a0.9 0.9 0 1 0 1.8 0a0.9 0.9 0 1 0 -1.8 0M138.35 92.39a0.9 0.9 0 1 0 1.8 0a0.9 0.9 0 1 0 -1.8 0M137.42 92.5a0.9 0.9 0 1 0 1.8 0a0.9 0.9 0 1 0 -1.8 0M142.88 92.43a0.9 0.9 0 1 0 1.8 0a0.9 0.9 0 1 0 -1.8 0M146.61 92.47a0.9 0.9 0 1 0 1.8 0a0.9 0.9 0 1 0 -1.8 0M145.27 92.42a0.9 0.9 0 1 0 1.8 0a0.9 0.9 0 1 0 -1.8 0M137.42 89.11a0.9 0.9 0 1 0 1.8 0a0.9 0.9 0 1 0 -1.8 0M138.56 88.96a0.9 0.9 0 1 0 1.8 0a0.9 0.9 0 1 0 -1.8 0M138.19 92.49a0.9 0.9 0 1 0 1.8 0a0.9 0.9 0 1 0 -1.8 0M144.01 89.17a0.9 0.9 0 1 0 1.8 0a0.9 0.9 0 1 0 -1.8 0M145.08 89a0.9 0.9 0 1 0 1.8 0a0.9 0.9 0 1 0 -1.8 0M137.64 89.98a0.9 0.9 0 1 0 1.8 0a0.9 0.9 0 1 0 -1.8 0M143.19 91.23a0.9 0.9 0 1 0 1.8 0a0.9 0.9 0 1 0 -1.8 0M146.13 92.16a0.9 0.9 0 1 0 1.8 0a0.9 0.9 0 1 0 -1.8 0M146.59 89.13a0.9 0.9 0 1 0 1.8 0a0.9 0.9 0 1 0 -1.8 0M137.41 92.5a0.9 0.9 0 1 0 1.8 0a0.9 0.9 0 1 0 -1.8 0M142.49 88.01a0.9 0.9 0 1 0 1.8 0a0.9 0.9 0 1 0 -1.8 0" fill="#333" fill-opacity="0.6"/>
<rect x="138" y="91.85" width="14.3" height="1.8" fill="#1c1c1c" stroke="none" stroke-width="0" fill-opacity="0.82"/>
<path d="M137.28 92.73a0.85 0.85 0 1 0 1.7 0a0.85 0.85 0 1 0 -1.7 0M138.14 93.22a0.85 0.85 0 1 0 1.7 0a0.85 0.85 0 1 0 -1.7 0M138.79 92.78a0.85 0.85 0 1 0 1.7 0a0.85 0.85 0 1 0 -1.7 0M139.69 93.06a0.85 0.85 0 1 0 1.7 0a0.85 0.85 0 1 0 -1.7 0M140.33 92.78a0.85 0.85 0 1 0 1.7 0a0.85 0.85 0 1 0 -1.7 0M141.05 92.83a0.85 0.85 0 1 0 1.7 0a0.85 0.85 0 1 0 -1.7 0M141.75 93.3a0.85 0.85 0 1 0 1.7 0a0.85 0.85 0 1 0 -1.7 0M142.52 92.71a0.85 0.85 0 1 0 1.7 0a0.85 0.85 0 1 0 -1.7 0M143.13 93.08a0.85 0.85 0 1 0 1.7 0a0.85 0.85 0 1 0 -1.7 0M143.76 93a0.85 0.85 0 1 0 1.7 0a0.85 0.85 0 1 0 -1.7 0M144.93 92.99a0.85 0.85 0 1 0 1.7 0a0.85 0.85 0 1 0 -1.7 0M145.36 93.25a0.85 0.85 0 1 0 1.7 0a0.85 0.85 0 1 0 -1.7 0M146.09 92.99a0.85 0.85 0 1 0 1.7 0a0.85 0.85 0 1 0 -1.7 0M147.06 92.7a0.85 0.85 0 1 0 1.7 0a0.85 0.85 0 1 0 -1.7 0M147.27 92.83a0.85 0.85 0 1 0 1.7 0a0.85 0.85 0 1 0 -1.7 0M148.24 93.25a0.85 0.85 0 1 0 1.7 0a0.85 0.85 0 1 0 -1.7 0M148.69 93.18a0.85 0.85 0 1 0 1.7 0a0.85 0.85 0 1 0 -1.7 0M149.49 92.7a0.85 0.85 0 1 0 1.7 0a0.85 0.85 0 1 0 -1.7 0M150.48 93.07a0.85 0.85 0 1 0 1.7 0a0.85 0.85 0 1 0 -1.7 0" fill="#151515" fill-opacity="0.8"/>
<path d="M138.1 89.6L140.93 88.52L143.77 87.34L146.6 85.89L149.43 84.19L152.27 82.4L155.1 80.57L157.93 78.72L160.77 76.86L163.6 74.99L166.43 73.12L169.27 71.25L172.1 69.37L174.93 67.49L177.77 65.61L180.6 63.74L183.43 61.85L186.27 59.97L189.1 58.09L191.93 56.21L194.77 54.33L197.6 52.45L200.43 50.57L203.27 48.68L206.1 46.8L206.1 75.8L203.27 76.38L200.43 76.95L197.6 77.53L194.77 78.1L191.93 78.68L189.1 79.26L186.27 79.83L183.43 80.41L180.6 80.99L177.77 81.57L174.93 82.15L172.1 82.73L169.27 83.31L166.43 83.9L163.6 84.48L160.77 85.07L157.93 85.67L155.1 86.28L152.27 86.91L149.43 87.57L146.6 88.34L143.77 89.34L140.93 90.62L138.1 92Z" stroke="none" stroke-width="0" fill="#999" fill-opacity="0.42"/>
<line x1="138.1" y1="90.8" x2="206.1" y2="61.3" stroke="#3366FF" stroke-width="1.1" />
<rect x="135.3" y="12.5" width="74.2" height="83.7" fill="none" stroke="#4d4d4d" stroke-width="0.7" />
<text x="183" y="20.3" font-size="4.9" fill="#000" font-weight="bold" textLength="22.26" lengthAdjust="spacingAndGlyphs" >R = 0.246</text>
<text x="183" y="26.3" font-size="4.9" font-weight="bold" textLength="21.69" lengthAdjust="spacingAndGlyphs"><tspan font-style="italic">p</tspan> &lt; 0.001</text>
<line x1="138.5" y1="96.2" x2="138.5" y2="97.5" stroke="#555" stroke-width="0.5" />
<text x="138.5" y="102.8" font-size="5" fill="#3a3a3a" text-anchor="middle" textLength="5.63" lengthAdjust="spacingAndGlyphs" >0.0</text>
<line x1="158.4" y1="96.2" x2="158.4" y2="97.5" stroke="#555" stroke-width="0.5" />
<text x="158.4" y="102.8" font-size="5" fill="#3a3a3a" text-anchor="middle" textLength="5.63" lengthAdjust="spacingAndGlyphs" >0.5</text>
<line x1="178.3" y1="96.2" x2="178.3" y2="97.5" stroke="#555" stroke-width="0.5" />
<text x="178.3" y="102.8" font-size="5" fill="#3a3a3a" text-anchor="middle" textLength="5.63" lengthAdjust="spacingAndGlyphs" >1.0</text>
<line x1="198.2" y1="96.2" x2="198.2" y2="97.5" stroke="#555" stroke-width="0.5" />
<text x="198.2" y="102.8" font-size="5" fill="#3a3a3a" text-anchor="middle" textLength="5.63" lengthAdjust="spacingAndGlyphs" >1.5</text>
<text x="170.9" y="109.3" font-size="6" fill="#111" text-anchor="middle" textLength="34.67" lengthAdjust="spacingAndGlyphs" >Infiltration Level</text>
<rect x="301.9" y="3.4" width="74.5" height="9.1" fill="#d9d9d9" stroke="#8a8a8a" stroke-width="0.7" />
<text x="339.15" y="9.85" font-size="5.4" fill="#262626" text-anchor="middle" textLength="38.65" lengthAdjust="spacingAndGlyphs" >Macrophage_TIMER</text>
<rect x="301.9" y="12.5" width="74.5" height="83.7" fill="#fff" stroke="none" stroke-width="0" />
<line x1="301.9" y1="85.33" x2="376.4" y2="85.33" stroke="#f7f7f7" stroke-width="0.4" />
<line x1="301.9" y1="69.39" x2="376.4" y2="69.39" stroke="#f7f7f7" stroke-width="0.4" />
<line x1="301.9" y1="53.45" x2="376.4" y2="53.45" stroke="#f7f7f7" stroke-width="0.4" />
<line x1="301.9" y1="37.51" x2="376.4" y2="37.51" stroke="#f7f7f7" stroke-width="0.4" />
<line x1="301.9" y1="21.57" x2="376.4" y2="21.57" stroke="#f7f7f7" stroke-width="0.4" />
<line x1="317.45" y1="12.5" x2="317.45" y2="96.2" stroke="#f7f7f7" stroke-width="0.4" />
<line x1="340.75" y1="12.5" x2="340.75" y2="96.2" stroke="#f7f7f7" stroke-width="0.4" />
<line x1="364.05" y1="12.5" x2="364.05" y2="96.2" stroke="#f7f7f7" stroke-width="0.4" />
<line x1="301.9" y1="93.3" x2="376.4" y2="93.3" stroke="#efefef" stroke-width="0.6" />
<line x1="301.9" y1="77.36" x2="376.4" y2="77.36" stroke="#efefef" stroke-width="0.6" />
<line x1="301.9" y1="61.42" x2="376.4" y2="61.42" stroke="#efefef" stroke-width="0.6" />
<line x1="301.9" y1="45.48" x2="376.4" y2="45.48" stroke="#efefef" stroke-width="0.6" />
<line x1="301.9" y1="29.54" x2="376.4" y2="29.54" stroke="#efefef" stroke-width="0.6" />
<line x1="301.9" y1="13.6" x2="376.4" y2="13.6" stroke="#efefef" stroke-width="0.6" />
<line x1="305.8" y1="12.5" x2="305.8" y2="96.2" stroke="#efefef" stroke-width="0.6" />
<line x1="329.1" y1="12.5" x2="329.1" y2="96.2" stroke="#efefef" stroke-width="0.6" />
<line x1="352.4" y1="12.5" x2="352.4" y2="96.2" stroke="#efefef" stroke-width="0.6" />
<line x1="375.7" y1="12.5" x2="375.7" y2="96.2" stroke="#efefef" stroke-width="0.6" />
<path d="M312.15 16.5a0.95 0.95 0 1 0 1.9 0a0.95 0.95 0 1 0 -1.9 0M314.35 16.5a0.95 0.95 0 1 0 1.9 0a0.95 0.95 0 1 0 -1.9 0M305.15 33.3a0.95 0.95 0 1 0 1.9 0a0.95 0.95 0 1 0 -1.9 0M308.55 35.5a0.95 0.95 0 1 0 1.9 0a0.95 0.95 0 1 0 -1.9 0M309.25 36.9a0.95 0.95 0 1 0 1.9 0a0.95 0.95 0 1 0 -1.9 0M319.15 37.9a0.95 0.95 0 1 0 1.9 0a0.95 0.95 0 1 0 -1.9 0M304.55 51.5a0.95 0.95 0 1 0 1.9 0a0.95 0.95 0 1 0 -1.9 0M308.55 49.6a0.95 0.95 0 1 0 1.9 0a0.95 0.95 0 1 0 -1.9 0M312.15 51.5a0.95 0.95 0 1 0 1.9 0a0.95 0.95 0 1 0 -1.9 0M304.55 51.4a0.95 0.95 0 1 0 1.9 0a0.95 0.95 0 1 0 -1.9 0M308.15 50.5a0.95 0.95 0 1 0 1.9 0a0.95 0.95 0 1 0 -1.9 0M311.75 51.6a0.95 0.95 0 1 0 1.9 0a0.95 0.95 0 1 0 -1.9 0M304.55 57.7a0.95 0.95 0 1 0 1.9 0a0.95 0.95 0 1 0 -1.9 0M308.15 58.2a0.95 0.95 0 1 0 1.9 0a0.95 0.95 0 1 0 -1.9 0M309.05 58.6a0.95 0.95 0 1 0 1.9 0a0.95 0.95 0 1 0 -1.9 0M314.55 59.1a0.95 0.95 0 1 0 1.9 0a0.95 0.95 0 1 0 -1.9 0M348.15 59.1a0.95 0.95 0 1 0 1.9 0a0.95 0.95 0 1 0 -1.9 0M304.55 61.4a0.95 0.95 0 1 0 1.9 0a0.95 0.95 0 1 0 -1.9 0M309.05 61.8a0.95 0.95 0 1 0 1.9 0a0.95 0.95 0 1 0 -1.9 0M310.45 64.5a0.95 0.95 0 1 0 1.9 0a0.95 0.95 0 1 0 -1.9 0M307.25 67.3a0.95 0.95 0 1 0 1.9 0a0.95 0.95 0 1 0 -1.9 0M306.75 68.6a0.95 0.95 0 1 0 1.9 0a0.95 0.95 0 1 0 -1.9 0M307.25 69.5a0.95 0.95 0 1 0 1.9 0a0.95 0.95 0 1 0 -1.9 0M304.55 69.1a0.95 0.95 0 1 0 1.9 0a0.95 0.95 0 1 0 -1.9 0M304.05 70a0.95 0.95 0 1 0 1.9 0a0.95 0.95 0 1 0 -1.9 0M314.05 69.1a0.95 0.95 0 1 0 1.9 0a0.95 0.95 0 1 0 -1.9 0M304.95 72.7a0.95 0.95 0 1 0 1.9 0a0.95 0.95 0 1 0 -1.9 0M305.45 74.1a0.95 0.95 0 1 0 1.9 0a0.95 0.95 0 1 0 -1.9 0M304.55 75a0.95 0.95 0 1 0 1.9 0a0.95 0.95 0 1 0 -1.9 0M314.55 75.9a0.95 0.95 0 1 0 1.9 0a0.95 0.95 0 1 0 -1.9 0M306.35 77.3a0.95 0.95 0 1 0 1.9 0a0.95 0.95 0 1 0 -1.9 0M308.55 79.1a0.95 0.95 0 1 0 1.9 0a0.95 0.95 0 1 0 -1.9 0M311.75 80a0.95 0.95 0 1 0 1.9 0a0.95 0.95 0 1 0 -1.9 0M314.95 80a0.95 0.95 0 1 0 1.9 0a0.95 0.95 0 1 0 -1.9 0M304.55 80.9a0.95 0.95 0 1 0 1.9 0a0.95 0.95 0 1 0 -1.9 0M304.05 82.3a0.95 0.95 0 1 0 1.9 0a0.95 0.95 0 1 0 -1.9 0M306.75 83.6a0.95 0.95 0 1 0 1.9 0a0.95 0.95 0 1 0 -1.9 0M307.65 84.1a0.95 0.95 0 1 0 1.9 0a0.95 0.95 0 1 0 -1.9 0M305.85 84.5a0.95 0.95 0 1 0 1.9 0a0.95 0.95 0 1 0 -1.9 0M304.55 85.9a0.95 0.95 0 1 0 1.9 0a0.95 0.95 0 1 0 -1.9 0M304.95 86.8a0.95 0.95 0 1 0 1.9 0a0.95 0.95 0 1 0 -1.9 0M309.95 87.3a0.95 0.95 0 1 0 1.9 0a0.95 0.95 0 1 0 -1.9 0M318.15 88.6a0.95 0.95 0 1 0 1.9 0a0.95 0.95 0 1 0 -1.9 0M311.75 90a0.95 0.95 0 1 0 1.9 0a0.95 0.95 0 1 0 -1.9 0M313.55 90.5a0.95 0.95 0 1 0 1.9 0a0.95 0.95 0 1 0 -1.9 0M334.95 92.7a0.95 0.95 0 1 0 1.9 0a0.95 0.95 0 1 0 -1.9 0M342.25 92.7a0.95 0.95 0 1 0 1.9 0a0.95 0.95 0 1 0 -1.9 0M371.75 93.1a0.95 0.95 0 1 0 1.9 0a0.95 0.95 0 1 0 -1.9 0M305.55 88.5a0.95 0.95 0 1 0 1.9 0a0.95 0.95 0 1 0 -1.9 0M306.85 89.8a0.95 0.95 0 1 0 1.9 0a0.95 0.95 0 1 0 -1.9 0M304.25 88a0.95 0.95 0 1 0 1.9 0a0.95 0.95 0 1 0 -1.9 0M308.05 87.8a0.95 0.95 0 1 0 1.9 0a0.95 0.95 0 1 0 -1.9 0M317.95 88.7a0.95 0.95 0 1 0 1.9 0a0.95 0.95 0 1 0 -1.9 0" fill="#555555" fill-opacity="0.72"/>
<path d="M306.91 92.47a0.9 0.9 0 1 0 1.8 0a0.9 0.9 0 1 0 -1.8 0M309.57 87.94a0.9 0.9 0 1 0 1.8 0a0.9 0.9 0 1 0 -1.8 0M305.45 88.51a0.9 0.9 0 1 0 1.8 0a0.9 0.9 0 1 0 -1.8 0M315.81 92.19a0.9 0.9 0 1 0 1.8 0a0.9 0.9 0 1 0 -1.8 0M310.35 89.31a0.9 0.9 0 1 0 1.8 0a0.9 0.9 0 1 0 -1.8 0M308.36 92.27a0.9 0.9 0 1 0 1.8 0a0.9 0.9 0 1 0 -1.8 0M305.95 88.5a0.9 0.9 0 1 0 1.8 0a0.9 0.9 0 1 0 -1.8 0M313.32 91.14a0.9 0.9 0 1 0 1.8 0a0.9 0.9 0 1 0 -1.8 0M304.63 87.83a0.9 0.9 0 1 0 1.8 0a0.9 0.9 0 1 0 -1.8 0M312.99 92.2a0.9 0.9 0 1 0 1.8 0a0.9 0.9 0 1 0 -1.8 0M309.95 86.6a0.9 0.9 0 1 0 1.8 0a0.9 0.9 0 1 0 -1.8 0M314.96 90.71a0.9 0.9 0 1 0 1.8 0a0.9 0.9 0 1 0 -1.8 0M308.51 90.16a0.9 0.9 0 1 0 1.8 0a0.9 0.9 0 1 0 -1.8 0M305.35 92.3a0.9 0.9 0 1 0 1.8 0a0.9 0.9 0 1 0 -1.8 0M305.28 89.07a0.9 0.9 0 1 0 1.8 0a0.9 0.9 0 1 0 -1.8 0M307.1 90.37a0.9 0.9 0 1 0 1.8 0a0.9 0.9 0 1 0 -1.8 0M307.57 90.74a0.9 0.9 0 1 0 1.8 0a0.9 0.9 0 1 0 -1.8 0M305.04 92.49a0.9 0.9 0 1 0 1.8 0a0.9 0.9 0 1 0 -1.8 0M317.05 91.64a0.9 0.9 0 1 0 1.8 0a0.9 0.9 0 1 0 -1.8 0M304.74 89.76a0.9 0.9 0 1 0 1.8 0a0.9 0.9 0 1 0 -1.8 0M313.24 92.37a0.9 0.9 0 1 0 1.8 0a0.9 0.9 0 1 0 -1.8 0M310.21 91.78a0.9 0.9 0 1 0 1.8 0a0.9 0.9 0 1 0 -1.8 0M309.09 92.5a0.9 0.9 0 1 0 1.8 0a0.9 0.9 0 1 0 -1.8 0M304.38 85.16a0.9 0.9 0 1 0 1.8 0a0.9 0.9 0 1 0 -1.8 0M314.62 90.96a0.9 0.9 0 1 0 1.8 0a0.9 0.9 0 1 0 -1.8 0M309.77 92.11a0.9 0.9 0 1 0 1.8 0a0.9 0.9 0 1 0 -1.8 0M313.1 91.35a0.9 0.9 0 1 0 1.8 0a0.9 0.9 0 1 0 -1.8 0M316.09 88.31a0.9 0.9 0 1 0 1.8 0a0.9 0.9 0 1 0 -1.8 0M313.78 85.59a0.9 0.9 0 1 0 1.8 0a0.9 0.9 0 1 0 -1.8 0M305.94 92.49a0.9 0.9 0 1 0 1.8 0a0.9 0.9 0 1 0 -1.8 0M305.45 92.33a0.9 0.9 0 1 0 1.8 0a0.9 0.9 0 1 0 -1.8 0M304.61 92.49a0.9 0.9 0 1 0 1.8 0a0.9 0.9 0 1 0 -1.8 0M309.63 86.97a0.9 0.9 0 1 0 1.8 0a0.9 0.9 0 1 0 -1.8 0M308.27 85.84a0.9 0.9 0 1 0 1.8 0a0.9 0.9 0 1 0 -1.8 0M315.41 92.48a0.9 0.9 0 1 0 1.8 0a0.9 0.9 0 1 0 -1.8 0M310.22 91.52a0.9 0.9 0 1 0 1.8 0a0.9 0.9 0 1 0 -1.8 0M304.83 85.66a0.9 0.9 0 1 0 1.8 0a0.9 0.9 0 1 0 -1.8 0M305.97 90.37a0.9 0.9 0 1 0 1.8 0a0.9 0.9 0 1 0 -1.8 0M310.86 85.7a0.9 0.9 0 1 0 1.8 0a0.9 0.9 0 1 0 -1.8 0M311.32 91.54a0.9 0.9 0 1 0 1.8 0a0.9 0.9 0 1 0 -1.8 0M308.14 92.37a0.9 0.9 0 1 0 1.8 0a0.9 0.9 0 1 0 -1.8 0M316.45 85.14a0.9 0.9 0 1 0 1.8 0a0.9 0.9 0 1 0 -1.8 0M305.64 92.49a0.9 0.9 0 1 0 1.8 0a0.9 0.9 0 1 0 -1.8 0M305.96 91.75a0.9 0.9 0 1 0 1.8 0a0.9 0.9 0 1 0 -1.8 0M315.28 86.48a0.9 0.9 0 1 0 1.8 0a0.9 0.9 0 1 0 -1.8 0" fill="#333" fill-opacity="0.6"/>
<rect x="304.7" y="91.85" width="12.1" height="1.8" fill="#1c1c1c" stroke="none" stroke-width="0" fill-opacity="0.82"/>
<path d="M304.28 92.49a0.85 0.85 0 1 0 1.7 0a0.85 0.85 0 1 0 -1.7 0M305.09 93.03a0.85 0.85 0 1 0 1.7 0a0.85 0.85 0 1 0 -1.7 0M305.8 92.58a0.85 0.85 0 1 0 1.7 0a0.85 0.85 0 1 0 -1.7 0M307 93.06a0.85 0.85 0 1 0 1.7 0a0.85 0.85 0 1 0 -1.7 0M307.45 93.13a0.85 0.85 0 1 0 1.7 0a0.85 0.85 0 1 0 -1.7 0M307.82 92.68a0.85 0.85 0 1 0 1.7 0a0.85 0.85 0 1 0 -1.7 0M308.37 92.6a0.85 0.85 0 1 0 1.7 0a0.85 0.85 0 1 0 -1.7 0M308.79 93.06a0.85 0.85 0 1 0 1.7 0a0.85 0.85 0 1 0 -1.7 0M309.45 92.63a0.85 0.85 0 1 0 1.7 0a0.85 0.85 0 1 0 -1.7 0M309.97 92.65a0.85 0.85 0 1 0 1.7 0a0.85 0.85 0 1 0 -1.7 0M310.89 93.25a0.85 0.85 0 1 0 1.7 0a0.85 0.85 0 1 0 -1.7 0M311.22 92.54a0.85 0.85 0 1 0 1.7 0a0.85 0.85 0 1 0 -1.7 0M312.32 93.02a0.85 0.85 0 1 0 1.7 0a0.85 0.85 0 1 0 -1.7 0M312.79 93.19a0.85 0.85 0 1 0 1.7 0a0.85 0.85 0 1 0 -1.7 0M313.6 92.58a0.85 0.85 0 1 0 1.7 0a0.85 0.85 0 1 0 -1.7 0M313.91 93.09a0.85 0.85 0 1 0 1.7 0a0.85 0.85 0 1 0 -1.7 0M314.68 93.23a0.85 0.85 0 1 0 1.7 0a0.85 0.85 0 1 0 -1.7 0M315.35 92.59a0.85 0.85 0 1 0 1.7 0a0.85 0.85 0 1 0 -1.7 0M316.29 92.75a0.85 0.85 0 1 0 1.7 0a0.85 0.85 0 1 0 -1.7 0M317.32 92.74a0.85 0.85 0 1 0 1.7 0a0.85 0.85 0 1 0 -1.7 0M319.29 93.33a0.85 0.85 0 1 0 1.7 0a0.85 0.85 0 1 0 -1.7 0M320.63 93.05a0.85 0.85 0 1 0 1.7 0a0.85 0.85 0 1 0 -1.7 0M321.69 92.71a0.85 0.85 0 1 0 1.7 0a0.85 0.85 0 1 0 -1.7 0M322.87 92.78a0.85 0.85 0 1 0 1.7 0a0.85 0.85 0 1 0 -1.7 0" fill="#151515" fill-opacity="0.8"/>
<path d="M305.3 86.6L308.11 86.42L310.92 85.85L313.73 84.99L316.53 84.01L319.34 82.93L322.15 81.77L324.96 80.57L327.77 79.34L330.57 78.08L333.38 76.81L336.19 75.52L339 74.22L341.81 72.92L344.62 71.61L347.43 70.3L350.23 68.99L353.04 67.67L355.85 66.35L358.66 65.03L361.47 63.71L364.27 62.38L367.08 61.05L369.89 59.73L372.7 58.4L372.7 83.6L369.89 83.82L367.08 84.05L364.27 84.27L361.47 84.49L358.66 84.72L355.85 84.95L353.04 85.18L350.23 85.41L347.43 85.65L344.62 85.89L341.81 86.13L339 86.38L336.19 86.63L333.38 86.89L330.57 87.17L327.77 87.46L324.96 87.78L322.15 88.13L319.34 88.52L316.53 88.99L313.73 89.56L310.92 90.25L308.11 91.23L305.3 92.6Z" stroke="none" stroke-width="0" fill="#999" fill-opacity="0.42"/>
<line x1="305.3" y1="89.6" x2="372.7" y2="71" stroke="#3366FF" stroke-width="1.1" />
<rect x="301.9" y="12.5" width="74.5" height="83.7" fill="none" stroke="#4d4d4d" stroke-width="0.7" />
<text x="351.6" y="20.3" font-size="4.9" fill="#000" font-weight="bold" textLength="22.26" lengthAdjust="spacingAndGlyphs" >R = 0.182</text>
<text x="351.6" y="26.3" font-size="4.9" font-weight="bold" textLength="21.69" lengthAdjust="spacingAndGlyphs"><tspan font-style="italic">p</tspan> &lt; 0.001</text>
<line x1="305.8" y1="96.2" x2="305.8" y2="97.5" stroke="#555" stroke-width="0.5" />
<text x="305.8" y="102.8" font-size="5" fill="#3a3a3a" text-anchor="middle" textLength="5.63" lengthAdjust="spacingAndGlyphs" >0.0</text>
<line x1="329.1" y1="96.2" x2="329.1" y2="97.5" stroke="#555" stroke-width="0.5" />
<text x="329.1" y="102.8" font-size="5" fill="#3a3a3a" text-anchor="middle" textLength="5.63" lengthAdjust="spacingAndGlyphs" >0.5</text>
<line x1="352.4" y1="96.2" x2="352.4" y2="97.5" stroke="#555" stroke-width="0.5" />
<text x="352.4" y="102.8" font-size="5" fill="#3a3a3a" text-anchor="middle" textLength="5.63" lengthAdjust="spacingAndGlyphs" >1.0</text>
<line x1="375.7" y1="96.2" x2="375.7" y2="97.5" stroke="#555" stroke-width="0.5" />
<text x="375.7" y="102.8" font-size="5" fill="#3a3a3a" text-anchor="middle" textLength="5.63" lengthAdjust="spacingAndGlyphs" >1.5</text>
<text x="337.5" y="109.3" font-size="6" fill="#111" text-anchor="middle" textLength="34.67" lengthAdjust="spacingAndGlyphs" >Infiltration Level</text>
<rect x="468.8" y="3.4" width="75.1" height="9.1" fill="#d9d9d9" stroke="#8a8a8a" stroke-width="0.7" />
<text x="506.35" y="9.85" font-size="5.4" fill="#262626" text-anchor="middle" textLength="54.25" lengthAdjust="spacingAndGlyphs" >Myeloid dendritic cell_TIMER</text>
<rect x="468.8" y="12.5" width="75.1" height="83.7" fill="#fff" stroke="none" stroke-width="0" />
<line x1="468.8" y1="85.33" x2="543.9" y2="85.33" stroke="#f7f7f7" stroke-width="0.4" />
<line x1="468.8" y1="69.39" x2="543.9" y2="69.39" stroke="#f7f7f7" stroke-width="0.4" />
<line x1="468.8" y1="53.45" x2="543.9" y2="53.45" stroke="#f7f7f7" stroke-width="0.4" />
<line x1="468.8" y1="37.51" x2="543.9" y2="37.51" stroke="#f7f7f7" stroke-width="0.4" />
<line x1="468.8" y1="21.57" x2="543.9" y2="21.57" stroke="#f7f7f7" stroke-width="0.4" />
<line x1="474.38" y1="12.5" x2="474.38" y2="96.2" stroke="#f7f7f7" stroke-width="0.4" />
<line x1="491.12" y1="12.5" x2="491.12" y2="96.2" stroke="#f7f7f7" stroke-width="0.4" />
<line x1="507.88" y1="12.5" x2="507.88" y2="96.2" stroke="#f7f7f7" stroke-width="0.4" />
<line x1="524.62" y1="12.5" x2="524.62" y2="96.2" stroke="#f7f7f7" stroke-width="0.4" />
<line x1="541.38" y1="12.5" x2="541.38" y2="96.2" stroke="#f7f7f7" stroke-width="0.4" />
<line x1="468.8" y1="93.3" x2="543.9" y2="93.3" stroke="#efefef" stroke-width="0.6" />
<line x1="468.8" y1="77.36" x2="543.9" y2="77.36" stroke="#efefef" stroke-width="0.6" />
<line x1="468.8" y1="61.42" x2="543.9" y2="61.42" stroke="#efefef" stroke-width="0.6" />
<line x1="468.8" y1="45.48" x2="543.9" y2="45.48" stroke="#efefef" stroke-width="0.6" />
<line x1="468.8" y1="29.54" x2="543.9" y2="29.54" stroke="#efefef" stroke-width="0.6" />
<line x1="468.8" y1="13.6" x2="543.9" y2="13.6" stroke="#efefef" stroke-width="0.6" />
<line x1="482.75" y1="12.5" x2="482.75" y2="96.2" stroke="#efefef" stroke-width="0.6" />
<line x1="499.5" y1="12.5" x2="499.5" y2="96.2" stroke="#efefef" stroke-width="0.6" />
<line x1="516.25" y1="12.5" x2="516.25" y2="96.2" stroke="#efefef" stroke-width="0.6" />
<line x1="533" y1="12.5" x2="533" y2="96.2" stroke="#efefef" stroke-width="0.6" />
<path d="M482.55 16.1a0.95 0.95 0 1 0 1.9 0a0.95 0.95 0 1 0 -1.9 0M507.95 16.1a0.95 0.95 0 1 0 1.9 0a0.95 0.95 0 1 0 -1.9 0M488.65 32.5a0.95 0.95 0 1 0 1.9 0a0.95 0.95 0 1 0 -1.9 0M489.05 34a0.95 0.95 0 1 0 1.9 0a0.95 0.95 0 1 0 -1.9 0M485.45 36.5a0.95 0.95 0 1 0 1.9 0a0.95 0.95 0 1 0 -1.9 0M488.35 37.6a0.95 0.95 0 1 0 1.9 0a0.95 0.95 0 1 0 -1.9 0M477.85 50.4a0.95 0.95 0 1 0 1.9 0a0.95 0.95 0 1 0 -1.9 0M487.55 49a0.95 0.95 0 1 0 1.9 0a0.95 0.95 0 1 0 -1.9 0M494.15 51a0.95 0.95 0 1 0 1.9 0a0.95 0.95 0 1 0 -1.9 0M483.25 56.8a0.95 0.95 0 1 0 1.9 0a0.95 0.95 0 1 0 -1.9 0M484.65 57.7a0.95 0.95 0 1 0 1.9 0a0.95 0.95 0 1 0 -1.9 0M492.65 58a0.95 0.95 0 1 0 1.9 0a0.95 0.95 0 1 0 -1.9 0M539.55 58.7a0.95 0.95 0 1 0 1.9 0a0.95 0.95 0 1 0 -1.9 0M491.95 61.1a0.95 0.95 0 1 0 1.9 0a0.95 0.95 0 1 0 -1.9 0M478.85 60.8a0.95 0.95 0 1 0 1.9 0a0.95 0.95 0 1 0 -1.9 0M485.45 63.7a0.95 0.95 0 1 0 1.9 0a0.95 0.95 0 1 0 -1.9 0M478.15 65.9a0.95 0.95 0 1 0 1.9 0a0.95 0.95 0 1 0 -1.9 0M475.95 69.5a0.95 0.95 0 1 0 1.9 0a0.95 0.95 0 1 0 -1.9 0M481.75 68.1a0.95 0.95 0 1 0 1.9 0a0.95 0.95 0 1 0 -1.9 0M484.65 68.8a0.95 0.95 0 1 0 1.9 0a0.95 0.95 0 1 0 -1.9 0M488.35 69.5a0.95 0.95 0 1 0 1.9 0a0.95 0.95 0 1 0 -1.9 0M478.85 69.5a0.95 0.95 0 1 0 1.9 0a0.95 0.95 0 1 0 -1.9 0M473.75 72.5a0.95 0.95 0 1 0 1.9 0a0.95 0.95 0 1 0 -1.9 0M484.65 71.7a0.95 0.95 0 1 0 1.9 0a0.95 0.95 0 1 0 -1.9 0M477.85 74.6a0.95 0.95 0 1 0 1.9 0a0.95 0.95 0 1 0 -1.9 0M488.35 74.6a0.95 0.95 0 1 0 1.9 0a0.95 0.95 0 1 0 -1.9 0M478.15 77.1a0.95 0.95 0 1 0 1.9 0a0.95 0.95 0 1 0 -1.9 0M492.65 78.3a0.95 0.95 0 1 0 1.9 0a0.95 0.95 0 1 0 -1.9 0M494.85 79a0.95 0.95 0 1 0 1.9 0a0.95 0.95 0 1 0 -1.9 0M486.85 79.7a0.95 0.95 0 1 0 1.9 0a0.95 0.95 0 1 0 -1.9 0M503.55 78a0.95 0.95 0 1 0 1.9 0a0.95 0.95 0 1 0 -1.9 0M472.35 81.2a0.95 0.95 0 1 0 1.9 0a0.95 0.95 0 1 0 -1.9 0M477.45 83.4a0.95 0.95 0 1 0 1.9 0a0.95 0.95 0 1 0 -1.9 0M478.05 84.3a0.95 0.95 0 1 0 1.9 0a0.95 0.95 0 1 0 -1.9 0M479.55 84.8a0.95 0.95 0 1 0 1.9 0a0.95 0.95 0 1 0 -1.9 0M482.55 83.4a0.95 0.95 0 1 0 1.9 0a0.95 0.95 0 1 0 -1.9 0M499.25 87.7a0.95 0.95 0 1 0 1.9 0a0.95 0.95 0 1 0 -1.9 0M507.25 88.2a0.95 0.95 0 1 0 1.9 0a0.95 0.95 0 1 0 -1.9 0M486.85 88.5a0.95 0.95 0 1 0 1.9 0a0.95 0.95 0 1 0 -1.9 0M491.25 89.9a0.95 0.95 0 1 0 1.9 0a0.95 0.95 0 1 0 -1.9 0M475.05 86a0.95 0.95 0 1 0 1.9 0a0.95 0.95 0 1 0 -1.9 0M473.05 88.5a0.95 0.95 0 1 0 1.9 0a0.95 0.95 0 1 0 -1.9 0M480.05 88a0.95 0.95 0 1 0 1.9 0a0.95 0.95 0 1 0 -1.9 0M484.05 86.5a0.95 0.95 0 1 0 1.9 0a0.95 0.95 0 1 0 -1.9 0M489.05 87a0.95 0.95 0 1 0 1.9 0a0.95 0.95 0 1 0 -1.9 0M496.05 90a0.95 0.95 0 1 0 1.9 0a0.95 0.95 0 1 0 -1.9 0M529.05 92.1a0.95 0.95 0 1 0 1.9 0a0.95 0.95 0 1 0 -1.9 0M527.35 92.1a0.95 0.95 0 1 0 1.9 0a0.95 0.95 0 1 0 -1.9 0" fill="#555555" fill-opacity="0.72"/>
<path d="M496.03 88.29a0.9 0.9 0 1 0 1.8 0a0.9 0.9 0 1 0 -1.8 0M471.38 92.17a0.9 0.9 0 1 0 1.8 0a0.9 0.9 0 1 0 -1.8 0M492.23 92.49a0.9 0.9 0 1 0 1.8 0a0.9 0.9 0 1 0 -1.8 0M486.39 92.16a0.9 0.9 0 1 0 1.8 0a0.9 0.9 0 1 0 -1.8 0M495.29 92.5a0.9 0.9 0 1 0 1.8 0a0.9 0.9 0 1 0 -1.8 0M489.09 92.03a0.9 0.9 0 1 0 1.8 0a0.9 0.9 0 1 0 -1.8 0M471.94 92.5a0.9 0.9 0 1 0 1.8 0a0.9 0.9 0 1 0 -1.8 0M489.96 91.28a0.9 0.9 0 1 0 1.8 0a0.9 0.9 0 1 0 -1.8 0M472.64 91.7a0.9 0.9 0 1 0 1.8 0a0.9 0.9 0 1 0 -1.8 0M492.81 92.32a0.9 0.9 0 1 0 1.8 0a0.9 0.9 0 1 0 -1.8 0M481.61 92.44a0.9 0.9 0 1 0 1.8 0a0.9 0.9 0 1 0 -1.8 0M472.55 89.68a0.9 0.9 0 1 0 1.8 0a0.9 0.9 0 1 0 -1.8 0M485.91 92.36a0.9 0.9 0 1 0 1.8 0a0.9 0.9 0 1 0 -1.8 0M471.17 92.48a0.9 0.9 0 1 0 1.8 0a0.9 0.9 0 1 0 -1.8 0M482.71 91.43a0.9 0.9 0 1 0 1.8 0a0.9 0.9 0 1 0 -1.8 0M474.26 92.35a0.9 0.9 0 1 0 1.8 0a0.9 0.9 0 1 0 -1.8 0M482.82 90.16a0.9 0.9 0 1 0 1.8 0a0.9 0.9 0 1 0 -1.8 0M489.24 90.97a0.9 0.9 0 1 0 1.8 0a0.9 0.9 0 1 0 -1.8 0M472.92 92.49a0.9 0.9 0 1 0 1.8 0a0.9 0.9 0 1 0 -1.8 0M486.59 91.8a0.9 0.9 0 1 0 1.8 0a0.9 0.9 0 1 0 -1.8 0M486.23 92.49a0.9 0.9 0 1 0 1.8 0a0.9 0.9 0 1 0 -1.8 0M489.21 92.05a0.9 0.9 0 1 0 1.8 0a0.9 0.9 0 1 0 -1.8 0M490.3 88.87a0.9 0.9 0 1 0 1.8 0a0.9 0.9 0 1 0 -1.8 0M479.43 92.5a0.9 0.9 0 1 0 1.8 0a0.9 0.9 0 1 0 -1.8 0M492.74 91.52a0.9 0.9 0 1 0 1.8 0a0.9 0.9 0 1 0 -1.8 0M491.36 92.23a0.9 0.9 0 1 0 1.8 0a0.9 0.9 0 1 0 -1.8 0M472.65 89.17a0.9 0.9 0 1 0 1.8 0a0.9 0.9 0 1 0 -1.8 0M476.27 92.41a0.9 0.9 0 1 0 1.8 0a0.9 0.9 0 1 0 -1.8 0M476.37 90.91a0.9 0.9 0 1 0 1.8 0a0.9 0.9 0 1 0 -1.8 0M470.61 91.31a0.9 0.9 0 1 0 1.8 0a0.9 0.9 0 1 0 -1.8 0M478.19 91.34a0.9 0.9 0 1 0 1.8 0a0.9 0.9 0 1 0 -1.8 0M471.67 90.11a0.9 0.9 0 1 0 1.8 0a0.9 0.9 0 1 0 -1.8 0M489.41 88.86a0.9 0.9 0 1 0 1.8 0a0.9 0.9 0 1 0 -1.8 0M475.24 90.14a0.9 0.9 0 1 0 1.8 0a0.9 0.9 0 1 0 -1.8 0M476.61 89.83a0.9 0.9 0 1 0 1.8 0a0.9 0.9 0 1 0 -1.8 0M470.99 88.79a0.9 0.9 0 1 0 1.8 0a0.9 0.9 0 1 0 -1.8 0M494.36 91.44a0.9 0.9 0 1 0 1.8 0a0.9 0.9 0 1 0 -1.8 0M479.98 91.26a0.9 0.9 0 1 0 1.8 0a0.9 0.9 0 1 0 -1.8 0M480.64 92.5a0.9 0.9 0 1 0 1.8 0a0.9 0.9 0 1 0 -1.8 0M494.86 92.31a0.9 0.9 0 1 0 1.8 0a0.9 0.9 0 1 0 -1.8 0M472.59 92.47a0.9 0.9 0 1 0 1.8 0a0.9 0.9 0 1 0 -1.8 0M473.8 89.29a0.9 0.9 0 1 0 1.8 0a0.9 0.9 0 1 0 -1.8 0M470.73 92.47a0.9 0.9 0 1 0 1.8 0a0.9 0.9 0 1 0 -1.8 0M485.5 92.36a0.9 0.9 0 1 0 1.8 0a0.9 0.9 0 1 0 -1.8 0M470.66 90.88a0.9 0.9 0 1 0 1.8 0a0.9 0.9 0 1 0 -1.8 0M481.76 91.3a0.9 0.9 0 1 0 1.8 0a0.9 0.9 0 1 0 -1.8 0M485.62 92.47a0.9 0.9 0 1 0 1.8 0a0.9 0.9 0 1 0 -1.8 0M491.28 90.09a0.9 0.9 0 1 0 1.8 0a0.9 0.9 0 1 0 -1.8 0M470.84 92.45a0.9 0.9 0 1 0 1.8 0a0.9 0.9 0 1 0 -1.8 0M479.44 91.41a0.9 0.9 0 1 0 1.8 0a0.9 0.9 0 1 0 -1.8 0M474.37 92.45a0.9 0.9 0 1 0 1.8 0a0.9 0.9 0 1 0 -1.8 0M477.19 92.44a0.9 0.9 0 1 0 1.8 0a0.9 0.9 0 1 0 -1.8 0M482.21 88.9a0.9 0.9 0 1 0 1.8 0a0.9 0.9 0 1 0 -1.8 0M472.04 91.03a0.9 0.9 0 1 0 1.8 0a0.9 0.9 0 1 0 -1.8 0M487.05 92.41a0.9 0.9 0 1 0 1.8 0a0.9 0.9 0 1 0 -1.8 0M489.74 88.16a0.9 0.9 0 1 0 1.8 0a0.9 0.9 0 1 0 -1.8 0M476.78 91.76a0.9 0.9 0 1 0 1.8 0a0.9 0.9 0 1 0 -1.8 0M490.22 91.29a0.9 0.9 0 1 0 1.8 0a0.9 0.9 0 1 0 -1.8 0M476.95 88.12a0.9 0.9 0 1 0 1.8 0a0.9 0.9 0 1 0 -1.8 0M488.06 92.04a0.9 0.9 0 1 0 1.8 0a0.9 0.9 0 1 0 -1.8 0" fill="#333" fill-opacity="0.6"/>
<rect x="471.2" y="91.85" width="25.1" height="1.8" fill="#1c1c1c" stroke="none" stroke-width="0" fill-opacity="0.82"/>
<path d="M470.55 92.75a0.85 0.85 0 1 0 1.7 0a0.85 0.85 0 1 0 -1.7 0M471.51 93.17a0.85 0.85 0 1 0 1.7 0a0.85 0.85 0 1 0 -1.7 0M472.37 93.21a0.85 0.85 0 1 0 1.7 0a0.85 0.85 0 1 0 -1.7 0M472.7 93.31a0.85 0.85 0 1 0 1.7 0a0.85 0.85 0 1 0 -1.7 0M473.54 92.83a0.85 0.85 0 1 0 1.7 0a0.85 0.85 0 1 0 -1.7 0M474.36 92.93a0.85 0.85 0 1 0 1.7 0a0.85 0.85 0 1 0 -1.7 0M474.84 92.9a0.85 0.85 0 1 0 1.7 0a0.85 0.85 0 1 0 -1.7 0M475.16 93.32a0.85 0.85 0 1 0 1.7 0a0.85 0.85 0 1 0 -1.7 0M476.33 93.02a0.85 0.85 0 1 0 1.7 0a0.85 0.85 0 1 0 -1.7 0M477.18 93.25a0.85 0.85 0 1 0 1.7 0a0.85 0.85 0 1 0 -1.7 0M477.53 92.69a0.85 0.85 0 1 0 1.7 0a0.85 0.85 0 1 0 -1.7 0M478.18 92.94a0.85 0.85 0 1 0 1.7 0a0.85 0.85 0 1 0 -1.7 0M479.26 92.68a0.85 0.85 0 1 0 1.7 0a0.85 0.85 0 1 0 -1.7 0M479.89 93.31a0.85 0.85 0 1 0 1.7 0a0.85 0.85 0 1 0 -1.7 0M480.42 93.03a0.85 0.85 0 1 0 1.7 0a0.85 0.85 0 1 0 -1.7 0M481.03 93.31a0.85 0.85 0 1 0 1.7 0a0.85 0.85 0 1 0 -1.7 0M481.6 92.87a0.85 0.85 0 1 0 1.7 0a0.85 0.85 0 1 0 -1.7 0M482.27 92.56a0.85 0.85 0 1 0 1.7 0a0.85 0.85 0 1 0 -1.7 0M482.83 92.82a0.85 0.85 0 1 0 1.7 0a0.85 0.85 0 1 0 -1.7 0M483.39 92.53a0.85 0.85 0 1 0 1.7 0a0.85 0.85 0 1 0 -1.7 0M484.35 93a0.85 0.85 0 1 0 1.7 0a0.85 0.85 0 1 0 -1.7 0M485.01 92.63a0.85 0.85 0 1 0 1.7 0a0.85 0.85 0 1 0 -1.7 0M485.76 92.94a0.85 0.85 0 1 0 1.7 0a0.85 0.85 0 1 0 -1.7 0M486.52 92.73a0.85 0.85 0 1 0 1.7 0a0.85 0.85 0 1 0 -1.7 0M486.98 92.91a0.85 0.85 0 1 0 1.7 0a0.85 0.85 0 1 0 -1.7 0M487.76 92.46a0.85 0.85 0 1 0 1.7 0a0.85 0.85 0 1 0 -1.7 0M488.49 92.66a0.85 0.85 0 1 0 1.7 0a0.85 0.85 0 1 0 -1.7 0M489.07 92.71a0.85 0.85 0 1 0 1.7 0a0.85 0.85 0 1 0 -1.7 0M489.97 93.14a0.85 0.85 0 1 0 1.7 0a0.85 0.85 0 1 0 -1.7 0M490.38 93.23a0.85 0.85 0 1 0 1.7 0a0.85 0.85 0 1 0 -1.7 0M491.05 92.8a0.85 0.85 0 1 0 1.7 0a0.85 0.85 0 1 0 -1.7 0M491.98 92.55a0.85 0.85 0 1 0 1.7 0a0.85 0.85 0 1 0 -1.7 0M492.62 93.11a0.85 0.85 0 1 0 1.7 0a0.85 0.85 0 1 0 -1.7 0M492.88 92.77a0.85 0.85 0 1 0 1.7 0a0.85 0.85 0 1 0 -1.7 0M493.79 93.21a0.85 0.85 0 1 0 1.7 0a0.85 0.85 0 1 0 -1.7 0M494.63 93.11a0.85 0.85 0 1 0 1.7 0a0.85 0.85 0 1 0 -1.7 0M495.25 92.88a0.85 0.85 0 1 0 1.7 0a0.85 0.85 0 1 0 -1.7 0M497.08 93.27a0.85 0.85 0 1 0 1.7 0a0.85 0.85 0 1 0 -1.7 0M498.19 92.45a0.85 0.85 0 1 0 1.7 0a0.85 0.85 0 1 0 -1.7 0M499.9 92.9a0.85 0.85 0 1 0 1.7 0a0.85 0.85 0 1 0 -1.7 0M501.95 92.83a0.85 0.85 0 1 0 1.7 0a0.85 0.85 0 1 0 -1.7 0M503.91 93a0.85 0.85 0 1 0 1.7 0a0.85 0.85 0 1 0 -1.7 0M505.1 92.86a0.85 0.85 0 1 0 1.7 0a0.85 0.85 0 1 0 -1.7 0M506.8 92.8a0.85 0.85 0 1 0 1.7 0a0.85 0.85 0 1 0 -1.7 0M508.4 92.74a0.85 0.85 0 1 0 1.7 0a0.85 0.85 0 1 0 -1.7 0M510.43 92.9a0.85 0.85 0 1 0 1.7 0a0.85 0.85 0 1 0 -1.7 0M511.02 92.72a0.85 0.85 0 1 0 1.7 0a0.85 0.85 0 1 0 -1.7 0M514.04 92.97a0.85 0.85 0 1 0 1.7 0a0.85 0.85 0 1 0 -1.7 0M516.86 92.74a0.85 0.85 0 1 0 1.7 0a0.85 0.85 0 1 0 -1.7 0M521.93 93.31a0.85 0.85 0 1 0 1.7 0a0.85 0.85 0 1 0 -1.7 0M524.82 93.27a0.85 0.85 0 1 0 1.7 0a0.85 0.85 0 1 0 -1.7 0M527.1 92.96a0.85 0.85 0 1 0 1.7 0a0.85 0.85 0 1 0 -1.7 0" fill="#151515" fill-opacity="0.8"/>
<path d="M471.8 90.4L474.66 88.85L477.53 87.94L480.39 87.19L483.25 86.39L486.11 85.56L488.98 84.69L491.84 83.8L494.7 82.88L497.56 81.95L500.43 81L503.29 80.04L506.15 79.07L509.01 78.1L511.88 77.11L514.74 76.12L517.6 75.13L520.46 74.14L523.33 73.14L526.19 72.14L529.05 71.13L531.91 70.13L534.77 69.12L537.64 68.11L540.5 67.1L540.5 80.7L537.64 81.15L534.77 81.6L531.91 82.05L529.05 82.5L526.19 82.96L523.33 83.41L520.46 83.87L517.6 84.34L514.74 84.8L511.88 85.27L509.01 85.75L506.15 86.23L503.29 86.72L500.43 87.22L497.56 87.73L494.7 88.25L491.84 88.79L488.98 89.36L486.11 89.95L483.25 90.57L480.39 91.24L477.53 91.94L474.66 92.49L471.8 92.4Z" stroke="none" stroke-width="0" fill="#999" fill-opacity="0.42"/>
<line x1="471.8" y1="91.4" x2="540.5" y2="73.9" stroke="#3366FF" stroke-width="1.1" />
<rect x="468.8" y="12.5" width="75.1" height="83.7" fill="none" stroke="#4d4d4d" stroke-width="0.7" />
<text x="519.1" y="20.3" font-size="4.9" fill="#000" font-weight="bold" textLength="22.26" lengthAdjust="spacingAndGlyphs" >R = 0.247</text>
<text x="519.1" y="26.3" font-size="4.9" font-weight="bold" textLength="21.69" lengthAdjust="spacingAndGlyphs"><tspan font-style="italic">p</tspan> &lt; 0.001</text>
<line x1="482.75" y1="96.2" x2="482.75" y2="97.5" stroke="#555" stroke-width="0.5" />
<text x="482.75" y="102.8" font-size="5" fill="#3a3a3a" text-anchor="middle" textLength="5.63" lengthAdjust="spacingAndGlyphs" >0.5</text>
<line x1="499.5" y1="96.2" x2="499.5" y2="97.5" stroke="#555" stroke-width="0.5" />
<text x="499.5" y="102.8" font-size="5" fill="#3a3a3a" text-anchor="middle" textLength="5.63" lengthAdjust="spacingAndGlyphs" >1.0</text>
<line x1="516.25" y1="96.2" x2="516.25" y2="97.5" stroke="#555" stroke-width="0.5" />
<text x="516.25" y="102.8" font-size="5" fill="#3a3a3a" text-anchor="middle" textLength="5.63" lengthAdjust="spacingAndGlyphs" >1.5</text>
<line x1="533" y1="96.2" x2="533" y2="97.5" stroke="#555" stroke-width="0.5" />
<text x="533" y="102.8" font-size="5" fill="#3a3a3a" text-anchor="middle" textLength="5.63" lengthAdjust="spacingAndGlyphs" >2.0</text>
<text x="504.4" y="109.3" font-size="6" fill="#111" text-anchor="middle" textLength="34.67" lengthAdjust="spacingAndGlyphs" >Infiltration Level</text>
<rect x="136.6" y="112.7" width="74" height="9.5" fill="#d9d9d9" stroke="#8a8a8a" stroke-width="0.7" />
<text x="173.6" y="119.35" font-size="5.4" fill="#262626" text-anchor="middle" textLength="34.46" lengthAdjust="spacingAndGlyphs" >Neutrophil_TIMER</text>
<rect x="136.6" y="122.2" width="74" height="83.9" fill="#fff" stroke="none" stroke-width="0" />
<line x1="136.6" y1="194.1" x2="210.6" y2="194.1" stroke="#f7f7f7" stroke-width="0.4" />
<line x1="136.6" y1="178.1" x2="210.6" y2="178.1" stroke="#f7f7f7" stroke-width="0.4" />
<line x1="136.6" y1="162.1" x2="210.6" y2="162.1" stroke="#f7f7f7" stroke-width="0.4" />
<line x1="136.6" y1="146.1" x2="210.6" y2="146.1" stroke="#f7f7f7" stroke-width="0.4" />
<line x1="136.6" y1="130.1" x2="210.6" y2="130.1" stroke="#f7f7f7" stroke-width="0.4" />
<line x1="147.45" y1="122.2" x2="147.45" y2="206.1" stroke="#f7f7f7" stroke-width="0.4" />
<line x1="165.55" y1="122.2" x2="165.55" y2="206.1" stroke="#f7f7f7" stroke-width="0.4" />
<line x1="183.65" y1="122.2" x2="183.65" y2="206.1" stroke="#f7f7f7" stroke-width="0.4" />
<line x1="201.75" y1="122.2" x2="201.75" y2="206.1" stroke="#f7f7f7" stroke-width="0.4" />
<line x1="136.6" y1="202.1" x2="210.6" y2="202.1" stroke="#efefef" stroke-width="0.6" />
<line x1="136.6" y1="186.1" x2="210.6" y2="186.1" stroke="#efefef" stroke-width="0.6" />
<line x1="136.6" y1="170.1" x2="210.6" y2="170.1" stroke="#efefef" stroke-width="0.6" />
<line x1="136.6" y1="154.1" x2="210.6" y2="154.1" stroke="#efefef" stroke-width="0.6" />
<line x1="136.6" y1="138.1" x2="210.6" y2="138.1" stroke="#efefef" stroke-width="0.6" />
<line x1="136.6" y1="122.1" x2="210.6" y2="122.1" stroke="#efefef" stroke-width="0.6" />
<line x1="138.4" y1="122.2" x2="138.4" y2="206.1" stroke="#efefef" stroke-width="0.6" />
<line x1="156.5" y1="122.2" x2="156.5" y2="206.1" stroke="#efefef" stroke-width="0.6" />
<line x1="174.6" y1="122.2" x2="174.6" y2="206.1" stroke="#efefef" stroke-width="0.6" />
<line x1="192.7" y1="122.2" x2="192.7" y2="206.1" stroke="#efefef" stroke-width="0.6" />
<line x1="210.8" y1="122.2" x2="210.8" y2="206.1" stroke="#efefef" stroke-width="0.6" />
<path d="M145.15 126a0.95 0.95 0 1 0 1.9 0a0.95 0.95 0 1 0 -1.9 0M162.15 126a0.95 0.95 0 1 0 1.9 0a0.95 0.95 0 1 0 -1.9 0M158.25 142.4a0.95 0.95 0 1 0 1.9 0a0.95 0.95 0 1 0 -1.9 0M149.35 144.8a0.95 0.95 0 1 0 1.9 0a0.95 0.95 0 1 0 -1.9 0M149.35 146.2a0.95 0.95 0 1 0 1.9 0a0.95 0.95 0 1 0 -1.9 0M162.15 147.7a0.95 0.95 0 1 0 1.9 0a0.95 0.95 0 1 0 -1.9 0M142.25 160.9a0.95 0.95 0 1 0 1.9 0a0.95 0.95 0 1 0 -1.9 0M148.35 159.4a0.95 0.95 0 1 0 1.9 0a0.95 0.95 0 1 0 -1.9 0M158.25 161.1a0.95 0.95 0 1 0 1.9 0a0.95 0.95 0 1 0 -1.9 0M144.15 167.8a0.95 0.95 0 1 0 1.9 0a0.95 0.95 0 1 0 -1.9 0M147.25 170.6a0.95 0.95 0 1 0 1.9 0a0.95 0.95 0 1 0 -1.9 0M152.65 171.1a0.95 0.95 0 1 0 1.9 0a0.95 0.95 0 1 0 -1.9 0M158.85 168.5a0.95 0.95 0 1 0 1.9 0a0.95 0.95 0 1 0 -1.9 0M164.55 167.1a0.95 0.95 0 1 0 1.9 0a0.95 0.95 0 1 0 -1.9 0M159.25 173.9a0.95 0.95 0 1 0 1.9 0a0.95 0.95 0 1 0 -1.9 0M192.65 168.8a0.95 0.95 0 1 0 1.9 0a0.95 0.95 0 1 0 -1.9 0M144.35 176.3a0.95 0.95 0 1 0 1.9 0a0.95 0.95 0 1 0 -1.9 0M145.05 177.7a0.95 0.95 0 1 0 1.9 0a0.95 0.95 0 1 0 -1.9 0M142.95 179.6a0.95 0.95 0 1 0 1.9 0a0.95 0.95 0 1 0 -1.9 0M150.05 178.4a0.95 0.95 0 1 0 1.9 0a0.95 0.95 0 1 0 -1.9 0M150.75 180.6a0.95 0.95 0 1 0 1.9 0a0.95 0.95 0 1 0 -1.9 0M151.45 182a0.95 0.95 0 1 0 1.9 0a0.95 0.95 0 1 0 -1.9 0M156.45 179.1a0.95 0.95 0 1 0 1.9 0a0.95 0.95 0 1 0 -1.9 0M172.75 178.2a0.95 0.95 0 1 0 1.9 0a0.95 0.95 0 1 0 -1.9 0M200.45 179.9a0.95 0.95 0 1 0 1.9 0a0.95 0.95 0 1 0 -1.9 0M139.45 182.7a0.95 0.95 0 1 0 1.9 0a0.95 0.95 0 1 0 -1.9 0M157.45 184.4a0.95 0.95 0 1 0 1.9 0a0.95 0.95 0 1 0 -1.9 0M154.05 186.2a0.95 0.95 0 1 0 1.9 0a0.95 0.95 0 1 0 -1.9 0M148.65 189.8a0.95 0.95 0 1 0 1.9 0a0.95 0.95 0 1 0 -1.9 0M152.95 191.2a0.95 0.95 0 1 0 1.9 0a0.95 0.95 0 1 0 -1.9 0M161.45 188.4a0.95 0.95 0 1 0 1.9 0a0.95 0.95 0 1 0 -1.9 0M175.85 189.5a0.95 0.95 0 1 0 1.9 0a0.95 0.95 0 1 0 -1.9 0M140.15 189.1a0.95 0.95 0 1 0 1.9 0a0.95 0.95 0 1 0 -1.9 0M141.55 189.8a0.95 0.95 0 1 0 1.9 0a0.95 0.95 0 1 0 -1.9 0M140.85 192.6a0.95 0.95 0 1 0 1.9 0a0.95 0.95 0 1 0 -1.9 0M142.25 193.3a0.95 0.95 0 1 0 1.9 0a0.95 0.95 0 1 0 -1.9 0M143.65 194a0.95 0.95 0 1 0 1.9 0a0.95 0.95 0 1 0 -1.9 0M140.15 196.2a0.95 0.95 0 1 0 1.9 0a0.95 0.95 0 1 0 -1.9 0M141.55 195.5a0.95 0.95 0 1 0 1.9 0a0.95 0.95 0 1 0 -1.9 0M160.75 193.8a0.95 0.95 0 1 0 1.9 0a0.95 0.95 0 1 0 -1.9 0M146.05 196.5a0.95 0.95 0 1 0 1.9 0a0.95 0.95 0 1 0 -1.9 0M149.05 197.5a0.95 0.95 0 1 0 1.9 0a0.95 0.95 0 1 0 -1.9 0M144.05 198.3a0.95 0.95 0 1 0 1.9 0a0.95 0.95 0 1 0 -1.9 0" fill="#555555" fill-opacity="0.72"/>
<path d="M149.64 197.89a0.9 0.9 0 1 0 1.8 0a0.9 0.9 0 1 0 -1.8 0M143.54 195.32a0.9 0.9 0 1 0 1.8 0a0.9 0.9 0 1 0 -1.8 0M143.25 199.89a0.9 0.9 0 1 0 1.8 0a0.9 0.9 0 1 0 -1.8 0M145.69 200.55a0.9 0.9 0 1 0 1.8 0a0.9 0.9 0 1 0 -1.8 0M141.27 199.39a0.9 0.9 0 1 0 1.8 0a0.9 0.9 0 1 0 -1.8 0M141.2 195.97a0.9 0.9 0 1 0 1.8 0a0.9 0.9 0 1 0 -1.8 0M145.55 199.84a0.9 0.9 0 1 0 1.8 0a0.9 0.9 0 1 0 -1.8 0M138.99 200.61a0.9 0.9 0 1 0 1.8 0a0.9 0.9 0 1 0 -1.8 0M141.77 199.62a0.9 0.9 0 1 0 1.8 0a0.9 0.9 0 1 0 -1.8 0M144.04 196.77a0.9 0.9 0 1 0 1.8 0a0.9 0.9 0 1 0 -1.8 0M150.44 200.07a0.9 0.9 0 1 0 1.8 0a0.9 0.9 0 1 0 -1.8 0M142.25 199.17a0.9 0.9 0 1 0 1.8 0a0.9 0.9 0 1 0 -1.8 0M151.03 200.73a0.9 0.9 0 1 0 1.8 0a0.9 0.9 0 1 0 -1.8 0M143.42 197.47a0.9 0.9 0 1 0 1.8 0a0.9 0.9 0 1 0 -1.8 0M139.48 200.82a0.9 0.9 0 1 0 1.8 0a0.9 0.9 0 1 0 -1.8 0M150.7 197.36a0.9 0.9 0 1 0 1.8 0a0.9 0.9 0 1 0 -1.8 0M143.19 201.25a0.9 0.9 0 1 0 1.8 0a0.9 0.9 0 1 0 -1.8 0M149.18 198.65a0.9 0.9 0 1 0 1.8 0a0.9 0.9 0 1 0 -1.8 0M147.89 195.43a0.9 0.9 0 1 0 1.8 0a0.9 0.9 0 1 0 -1.8 0M149.06 200.41a0.9 0.9 0 1 0 1.8 0a0.9 0.9 0 1 0 -1.8 0M139.37 200.91a0.9 0.9 0 1 0 1.8 0a0.9 0.9 0 1 0 -1.8 0M143.17 199.97a0.9 0.9 0 1 0 1.8 0a0.9 0.9 0 1 0 -1.8 0M139.62 201.16a0.9 0.9 0 1 0 1.8 0a0.9 0.9 0 1 0 -1.8 0M144.85 199.33a0.9 0.9 0 1 0 1.8 0a0.9 0.9 0 1 0 -1.8 0M141.22 195.38a0.9 0.9 0 1 0 1.8 0a0.9 0.9 0 1 0 -1.8 0M144.95 201.29a0.9 0.9 0 1 0 1.8 0a0.9 0.9 0 1 0 -1.8 0M141.9 197.75a0.9 0.9 0 1 0 1.8 0a0.9 0.9 0 1 0 -1.8 0M140.72 198.64a0.9 0.9 0 1 0 1.8 0a0.9 0.9 0 1 0 -1.8 0M138.6 200.86a0.9 0.9 0 1 0 1.8 0a0.9 0.9 0 1 0 -1.8 0M148.26 199.45a0.9 0.9 0 1 0 1.8 0a0.9 0.9 0 1 0 -1.8 0M145.43 201.13a0.9 0.9 0 1 0 1.8 0a0.9 0.9 0 1 0 -1.8 0M142.99 199.67a0.9 0.9 0 1 0 1.8 0a0.9 0.9 0 1 0 -1.8 0M140.32 199a0.9 0.9 0 1 0 1.8 0a0.9 0.9 0 1 0 -1.8 0M143.44 195.34a0.9 0.9 0 1 0 1.8 0a0.9 0.9 0 1 0 -1.8 0M144.04 200.45a0.9 0.9 0 1 0 1.8 0a0.9 0.9 0 1 0 -1.8 0" fill="#333" fill-opacity="0.6"/>
<rect x="139.2" y="200.65" width="29.1" height="1.8" fill="#1c1c1c" stroke="none" stroke-width="0" fill-opacity="0.82"/>
<path d="M138.5 201.39a0.85 0.85 0 1 0 1.7 0a0.85 0.85 0 1 0 -1.7 0M139.34 201.34a0.85 0.85 0 1 0 1.7 0a0.85 0.85 0 1 0 -1.7 0M140.02 201.99a0.85 0.85 0 1 0 1.7 0a0.85 0.85 0 1 0 -1.7 0M140.9 201.31a0.85 0.85 0 1 0 1.7 0a0.85 0.85 0 1 0 -1.7 0M141.31 201.54a0.85 0.85 0 1 0 1.7 0a0.85 0.85 0 1 0 -1.7 0M141.96 201.4a0.85 0.85 0 1 0 1.7 0a0.85 0.85 0 1 0 -1.7 0M142.43 202.06a0.85 0.85 0 1 0 1.7 0a0.85 0.85 0 1 0 -1.7 0M143.28 201.65a0.85 0.85 0 1 0 1.7 0a0.85 0.85 0 1 0 -1.7 0M143.79 202.05a0.85 0.85 0 1 0 1.7 0a0.85 0.85 0 1 0 -1.7 0M144.9 201.65a0.85 0.85 0 1 0 1.7 0a0.85 0.85 0 1 0 -1.7 0M145.39 201.29a0.85 0.85 0 1 0 1.7 0a0.85 0.85 0 1 0 -1.7 0M146.57 201.53a0.85 0.85 0 1 0 1.7 0a0.85 0.85 0 1 0 -1.7 0M147.48 201.52a0.85 0.85 0 1 0 1.7 0a0.85 0.85 0 1 0 -1.7 0M148.29 201.7a0.85 0.85 0 1 0 1.7 0a0.85 0.85 0 1 0 -1.7 0M148.96 201.6a0.85 0.85 0 1 0 1.7 0a0.85 0.85 0 1 0 -1.7 0M149.77 201.53a0.85 0.85 0 1 0 1.7 0a0.85 0.85 0 1 0 -1.7 0M150.79 201.96a0.85 0.85 0 1 0 1.7 0a0.85 0.85 0 1 0 -1.7 0M151.22 201.57a0.85 0.85 0 1 0 1.7 0a0.85 0.85 0 1 0 -1.7 0M152.06 201.51a0.85 0.85 0 1 0 1.7 0a0.85 0.85 0 1 0 -1.7 0M152.45 201.73a0.85 0.85 0 1 0 1.7 0a0.85 0.85 0 1 0 -1.7 0M153.21 201.31a0.85 0.85 0 1 0 1.7 0a0.85 0.85 0 1 0 -1.7 0M153.86 201.57a0.85 0.85 0 1 0 1.7 0a0.85 0.85 0 1 0 -1.7 0M154.17 201.51a0.85 0.85 0 1 0 1.7 0a0.85 0.85 0 1 0 -1.7 0M154.66 201.85a0.85 0.85 0 1 0 1.7 0a0.85 0.85 0 1 0 -1.7 0M155.32 201.89a0.85 0.85 0 1 0 1.7 0a0.85 0.85 0 1 0 -1.7 0M155.83 202a0.85 0.85 0 1 0 1.7 0a0.85 0.85 0 1 0 -1.7 0M156.4 202a0.85 0.85 0 1 0 1.7 0a0.85 0.85 0 1 0 -1.7 0M157.15 201.57a0.85 0.85 0 1 0 1.7 0a0.85 0.85 0 1 0 -1.7 0M158.06 202.11a0.85 0.85 0 1 0 1.7 0a0.85 0.85 0 1 0 -1.7 0M158.83 201.7a0.85 0.85 0 1 0 1.7 0a0.85 0.85 0 1 0 -1.7 0M159.18 201.37a0.85 0.85 0 1 0 1.7 0a0.85 0.85 0 1 0 -1.7 0M159.92 202.06a0.85 0.85 0 1 0 1.7 0a0.85 0.85 0 1 0 -1.7 0M160.71 201.47a0.85 0.85 0 1 0 1.7 0a0.85 0.85 0 1 0 -1.7 0M161.41 202.04a0.85 0.85 0 1 0 1.7 0a0.85 0.85 0 1 0 -1.7 0M162.02 201.74a0.85 0.85 0 1 0 1.7 0a0.85 0.85 0 1 0 -1.7 0M162.69 201.6a0.85 0.85 0 1 0 1.7 0a0.85 0.85 0 1 0 -1.7 0M163.4 201.53a0.85 0.85 0 1 0 1.7 0a0.85 0.85 0 1 0 -1.7 0M163.84 201.41a0.85 0.85 0 1 0 1.7 0a0.85 0.85 0 1 0 -1.7 0M164.83 201.85a0.85 0.85 0 1 0 1.7 0a0.85 0.85 0 1 0 -1.7 0M165.41 201.58a0.85 0.85 0 1 0 1.7 0a0.85 0.85 0 1 0 -1.7 0M166.01 201.31a0.85 0.85 0 1 0 1.7 0a0.85 0.85 0 1 0 -1.7 0M166.57 201.36a0.85 0.85 0 1 0 1.7 0a0.85 0.85 0 1 0 -1.7 0M167.06 201.61a0.85 0.85 0 1 0 1.7 0a0.85 0.85 0 1 0 -1.7 0M169.38 202.04a0.85 0.85 0 1 0 1.7 0a0.85 0.85 0 1 0 -1.7 0M171.19 201.5a0.85 0.85 0 1 0 1.7 0a0.85 0.85 0 1 0 -1.7 0M172.41 201.85a0.85 0.85 0 1 0 1.7 0a0.85 0.85 0 1 0 -1.7 0M173.71 201.84a0.85 0.85 0 1 0 1.7 0a0.85 0.85 0 1 0 -1.7 0M175.5 202.01a0.85 0.85 0 1 0 1.7 0a0.85 0.85 0 1 0 -1.7 0M177.06 201.41a0.85 0.85 0 1 0 1.7 0a0.85 0.85 0 1 0 -1.7 0M177.32 201.91a0.85 0.85 0 1 0 1.7 0a0.85 0.85 0 1 0 -1.7 0M180.71 201.29a0.85 0.85 0 1 0 1.7 0a0.85 0.85 0 1 0 -1.7 0M183.11 201.52a0.85 0.85 0 1 0 1.7 0a0.85 0.85 0 1 0 -1.7 0M185.94 201.53a0.85 0.85 0 1 0 1.7 0a0.85 0.85 0 1 0 -1.7 0M189.55 202.01a0.85 0.85 0 1 0 1.7 0a0.85 0.85 0 1 0 -1.7 0M193.14 201.48a0.85 0.85 0 1 0 1.7 0a0.85 0.85 0 1 0 -1.7 0M196.16 201.56a0.85 0.85 0 1 0 1.7 0a0.85 0.85 0 1 0 -1.7 0M198.15 201.95a0.85 0.85 0 1 0 1.7 0a0.85 0.85 0 1 0 -1.7 0M200.48 202.02a0.85 0.85 0 1 0 1.7 0a0.85 0.85 0 1 0 -1.7 0M203.96 201.47a0.85 0.85 0 1 0 1.7 0a0.85 0.85 0 1 0 -1.7 0" fill="#151515" fill-opacity="0.8"/>
<path d="M139.7 198.7L142.5 198.2L145.31 197.82L148.11 197.45L150.92 197.04L153.72 196.6L156.52 196.13L159.33 195.64L162.13 195.13L164.94 194.61L167.74 194.08L170.55 193.54L173.35 193L176.15 192.45L178.96 191.9L181.76 191.35L184.57 190.79L187.37 190.23L190.18 189.67L192.98 189.11L195.78 188.55L198.59 187.99L201.39 187.43L204.2 186.86L207 186.3L207 196.7L204.2 196.82L201.39 196.94L198.59 197.06L195.78 197.18L192.98 197.3L190.18 197.43L187.37 197.55L184.57 197.68L181.76 197.8L178.96 197.93L176.15 198.07L173.35 198.2L170.55 198.34L167.74 198.49L164.94 198.64L162.13 198.81L159.33 198.98L156.52 199.17L153.72 199.38L150.92 199.62L148.11 199.9L145.31 200.22L142.5 200.52L139.7 200.7Z" stroke="none" stroke-width="0" fill="#999" fill-opacity="0.42"/>
<line x1="139.7" y1="199.7" x2="207" y2="191.5" stroke="#3366FF" stroke-width="1.1" />
<rect x="136.6" y="122.2" width="74" height="83.9" fill="none" stroke="#4d4d4d" stroke-width="0.7" />
<text x="186.2" y="129.5" font-size="4.9" fill="#000" font-weight="bold" textLength="21.98" lengthAdjust="spacingAndGlyphs" >R = 0.117</text>
<text x="186.2" y="135.5" font-size="4.9" font-weight="bold" textLength="18.85" lengthAdjust="spacingAndGlyphs"><tspan font-style="italic">p</tspan> = 0.06</text>
<line x1="138.4" y1="206.1" x2="138.4" y2="207.4" stroke="#555" stroke-width="0.5" />
<text x="138.4" y="212.2" font-size="5" fill="#3a3a3a" text-anchor="middle" textLength="5.63" lengthAdjust="spacingAndGlyphs" >0.0</text>
<line x1="156.5" y1="206.1" x2="156.5" y2="207.4" stroke="#555" stroke-width="0.5" />
<text x="156.5" y="212.2" font-size="5" fill="#3a3a3a" text-anchor="middle" textLength="5.63" lengthAdjust="spacingAndGlyphs" >0.2</text>
<line x1="174.6" y1="206.1" x2="174.6" y2="207.4" stroke="#555" stroke-width="0.5" />
<text x="174.6" y="212.2" font-size="5" fill="#3a3a3a" text-anchor="middle" textLength="5.63" lengthAdjust="spacingAndGlyphs" >0.4</text>
<line x1="192.7" y1="206.1" x2="192.7" y2="207.4" stroke="#555" stroke-width="0.5" />
<text x="192.7" y="212.2" font-size="5" fill="#3a3a3a" text-anchor="middle" textLength="5.63" lengthAdjust="spacingAndGlyphs" >0.6</text>
<text x="172.2" y="218.8" font-size="6" fill="#111" text-anchor="middle" textLength="34.67" lengthAdjust="spacingAndGlyphs" >Infiltration Level</text>
<rect x="301.8" y="112.7" width="74.5" height="9.5" fill="#d9d9d9" stroke="#8a8a8a" stroke-width="0.7" />
<text x="339.05" y="119.35" font-size="5.4" fill="#262626" text-anchor="middle" textLength="37.29" lengthAdjust="spacingAndGlyphs" >T cell CD4+_TIMER</text>
<rect x="301.8" y="122.2" width="74.5" height="83.9" fill="#fff" stroke="none" stroke-width="0" />
<line x1="301.8" y1="194.1" x2="376.3" y2="194.1" stroke="#f7f7f7" stroke-width="0.4" />
<line x1="301.8" y1="178.1" x2="376.3" y2="178.1" stroke="#f7f7f7" stroke-width="0.4" />
<line x1="301.8" y1="162.1" x2="376.3" y2="162.1" stroke="#f7f7f7" stroke-width="0.4" />
<line x1="301.8" y1="146.1" x2="376.3" y2="146.1" stroke="#f7f7f7" stroke-width="0.4" />
<line x1="301.8" y1="130.1" x2="376.3" y2="130.1" stroke="#f7f7f7" stroke-width="0.4" />
<line x1="313.62" y1="122.2" x2="313.62" y2="206.1" stroke="#f7f7f7" stroke-width="0.4" />
<line x1="330.68" y1="122.2" x2="330.68" y2="206.1" stroke="#f7f7f7" stroke-width="0.4" />
<line x1="347.73" y1="122.2" x2="347.73" y2="206.1" stroke="#f7f7f7" stroke-width="0.4" />
<line x1="364.78" y1="122.2" x2="364.78" y2="206.1" stroke="#f7f7f7" stroke-width="0.4" />
<line x1="301.8" y1="202.1" x2="376.3" y2="202.1" stroke="#efefef" stroke-width="0.6" />
<line x1="301.8" y1="186.1" x2="376.3" y2="186.1" stroke="#efefef" stroke-width="0.6" />
<line x1="301.8" y1="170.1" x2="376.3" y2="170.1" stroke="#efefef" stroke-width="0.6" />
<line x1="301.8" y1="154.1" x2="376.3" y2="154.1" stroke="#efefef" stroke-width="0.6" />
<line x1="301.8" y1="138.1" x2="376.3" y2="138.1" stroke="#efefef" stroke-width="0.6" />
<line x1="301.8" y1="122.1" x2="376.3" y2="122.1" stroke="#efefef" stroke-width="0.6" />
<line x1="305.1" y1="122.2" x2="305.1" y2="206.1" stroke="#efefef" stroke-width="0.6" />
<line x1="322.15" y1="122.2" x2="322.15" y2="206.1" stroke="#efefef" stroke-width="0.6" />
<line x1="339.2" y1="122.2" x2="339.2" y2="206.1" stroke="#efefef" stroke-width="0.6" />
<line x1="356.25" y1="122.2" x2="356.25" y2="206.1" stroke="#efefef" stroke-width="0.6" />
<line x1="373.3" y1="122.2" x2="373.3" y2="206.1" stroke="#efefef" stroke-width="0.6" />
<path d="M313.25 126a0.95 0.95 0 1 0 1.9 0a0.95 0.95 0 1 0 -1.9 0M307.85 142.4a0.95 0.95 0 1 0 1.9 0a0.95 0.95 0 1 0 -1.9 0M308.95 146.2a0.95 0.95 0 1 0 1.9 0a0.95 0.95 0 1 0 -1.9 0M309.65 147a0.95 0.95 0 1 0 1.9 0a0.95 0.95 0 1 0 -1.9 0M314.35 144.4a0.95 0.95 0 1 0 1.9 0a0.95 0.95 0 1 0 -1.9 0M308.65 160.4a0.95 0.95 0 1 0 1.9 0a0.95 0.95 0 1 0 -1.9 0M318.95 159a0.95 0.95 0 1 0 1.9 0a0.95 0.95 0 1 0 -1.9 0M321.75 161.1a0.95 0.95 0 1 0 1.9 0a0.95 0.95 0 1 0 -1.9 0M308.95 160.7a0.95 0.95 0 1 0 1.9 0a0.95 0.95 0 1 0 -1.9 0M321.75 160.7a0.95 0.95 0 1 0 1.9 0a0.95 0.95 0 1 0 -1.9 0M311.55 166.8a0.95 0.95 0 1 0 1.9 0a0.95 0.95 0 1 0 -1.9 0M316.75 167.8a0.95 0.95 0 1 0 1.9 0a0.95 0.95 0 1 0 -1.9 0M316.05 168.5a0.95 0.95 0 1 0 1.9 0a0.95 0.95 0 1 0 -1.9 0M304.75 168.8a0.95 0.95 0 1 0 1.9 0a0.95 0.95 0 1 0 -1.9 0M308.25 170.6a0.95 0.95 0 1 0 1.9 0a0.95 0.95 0 1 0 -1.9 0M312.55 171.3a0.95 0.95 0 1 0 1.9 0a0.95 0.95 0 1 0 -1.9 0M308.95 174.2a0.95 0.95 0 1 0 1.9 0a0.95 0.95 0 1 0 -1.9 0M309.65 177.7a0.95 0.95 0 1 0 1.9 0a0.95 0.95 0 1 0 -1.9 0M310.35 178.4a0.95 0.95 0 1 0 1.9 0a0.95 0.95 0 1 0 -1.9 0M308.95 179.1a0.95 0.95 0 1 0 1.9 0a0.95 0.95 0 1 0 -1.9 0M312.55 179.1a0.95 0.95 0 1 0 1.9 0a0.95 0.95 0 1 0 -1.9 0M304.75 178.4a0.95 0.95 0 1 0 1.9 0a0.95 0.95 0 1 0 -1.9 0M320.35 181.3a0.95 0.95 0 1 0 1.9 0a0.95 0.95 0 1 0 -1.9 0M308.65 182.7a0.95 0.95 0 1 0 1.9 0a0.95 0.95 0 1 0 -1.9 0M309.65 184.8a0.95 0.95 0 1 0 1.9 0a0.95 0.95 0 1 0 -1.9 0M307.55 187a0.95 0.95 0 1 0 1.9 0a0.95 0.95 0 1 0 -1.9 0M306.85 189.1a0.95 0.95 0 1 0 1.9 0a0.95 0.95 0 1 0 -1.9 0M307.55 189.8a0.95 0.95 0 1 0 1.9 0a0.95 0.95 0 1 0 -1.9 0M313.25 189.1a0.95 0.95 0 1 0 1.9 0a0.95 0.95 0 1 0 -1.9 0M314.65 188.4a0.95 0.95 0 1 0 1.9 0a0.95 0.95 0 1 0 -1.9 0M307.55 191.9a0.95 0.95 0 1 0 1.9 0a0.95 0.95 0 1 0 -1.9 0M308.25 193.3a0.95 0.95 0 1 0 1.9 0a0.95 0.95 0 1 0 -1.9 0M308.95 194a0.95 0.95 0 1 0 1.9 0a0.95 0.95 0 1 0 -1.9 0M309.65 195.5a0.95 0.95 0 1 0 1.9 0a0.95 0.95 0 1 0 -1.9 0M305.45 196.9a0.95 0.95 0 1 0 1.9 0a0.95 0.95 0 1 0 -1.9 0M316.05 198.3a0.95 0.95 0 1 0 1.9 0a0.95 0.95 0 1 0 -1.9 0M372.05 201.8a0.95 0.95 0 1 0 1.9 0a0.95 0.95 0 1 0 -1.9 0M306.05 198.8a0.95 0.95 0 1 0 1.9 0a0.95 0.95 0 1 0 -1.9 0M311.05 197.6a0.95 0.95 0 1 0 1.9 0a0.95 0.95 0 1 0 -1.9 0M304.85 193.5a0.95 0.95 0 1 0 1.9 0a0.95 0.95 0 1 0 -1.9 0" fill="#555555" fill-opacity="0.72"/>
<path d="M313.31 201.07a0.9 0.9 0 1 0 1.8 0a0.9 0.9 0 1 0 -1.8 0M315.49 197.59a0.9 0.9 0 1 0 1.8 0a0.9 0.9 0 1 0 -1.8 0M304.62 198.16a0.9 0.9 0 1 0 1.8 0a0.9 0.9 0 1 0 -1.8 0M307.46 197.61a0.9 0.9 0 1 0 1.8 0a0.9 0.9 0 1 0 -1.8 0M313.96 200.87a0.9 0.9 0 1 0 1.8 0a0.9 0.9 0 1 0 -1.8 0M304.65 195.1a0.9 0.9 0 1 0 1.8 0a0.9 0.9 0 1 0 -1.8 0M307.83 195.33a0.9 0.9 0 1 0 1.8 0a0.9 0.9 0 1 0 -1.8 0M311.66 197.71a0.9 0.9 0 1 0 1.8 0a0.9 0.9 0 1 0 -1.8 0M313.98 198.78a0.9 0.9 0 1 0 1.8 0a0.9 0.9 0 1 0 -1.8 0M308.2 201.29a0.9 0.9 0 1 0 1.8 0a0.9 0.9 0 1 0 -1.8 0M311.77 200.22a0.9 0.9 0 1 0 1.8 0a0.9 0.9 0 1 0 -1.8 0M308.99 195.36a0.9 0.9 0 1 0 1.8 0a0.9 0.9 0 1 0 -1.8 0M304.88 197.45a0.9 0.9 0 1 0 1.8 0a0.9 0.9 0 1 0 -1.8 0M304.42 198.08a0.9 0.9 0 1 0 1.8 0a0.9 0.9 0 1 0 -1.8 0M313.56 200.93a0.9 0.9 0 1 0 1.8 0a0.9 0.9 0 1 0 -1.8 0M309.47 194.76a0.9 0.9 0 1 0 1.8 0a0.9 0.9 0 1 0 -1.8 0M310.82 199.47a0.9 0.9 0 1 0 1.8 0a0.9 0.9 0 1 0 -1.8 0M305.9 201.29a0.9 0.9 0 1 0 1.8 0a0.9 0.9 0 1 0 -1.8 0M307.04 200.31a0.9 0.9 0 1 0 1.8 0a0.9 0.9 0 1 0 -1.8 0M305.46 200.77a0.9 0.9 0 1 0 1.8 0a0.9 0.9 0 1 0 -1.8 0M304.95 198.04a0.9 0.9 0 1 0 1.8 0a0.9 0.9 0 1 0 -1.8 0M311.33 201a0.9 0.9 0 1 0 1.8 0a0.9 0.9 0 1 0 -1.8 0M305.82 199.67a0.9 0.9 0 1 0 1.8 0a0.9 0.9 0 1 0 -1.8 0M308.1 195.25a0.9 0.9 0 1 0 1.8 0a0.9 0.9 0 1 0 -1.8 0M306.97 200.81a0.9 0.9 0 1 0 1.8 0a0.9 0.9 0 1 0 -1.8 0M314.95 201.2a0.9 0.9 0 1 0 1.8 0a0.9 0.9 0 1 0 -1.8 0M309.71 200.67a0.9 0.9 0 1 0 1.8 0a0.9 0.9 0 1 0 -1.8 0M313.72 199.43a0.9 0.9 0 1 0 1.8 0a0.9 0.9 0 1 0 -1.8 0M312.79 201.16a0.9 0.9 0 1 0 1.8 0a0.9 0.9 0 1 0 -1.8 0M311.27 199.04a0.9 0.9 0 1 0 1.8 0a0.9 0.9 0 1 0 -1.8 0M308.31 197.4a0.9 0.9 0 1 0 1.8 0a0.9 0.9 0 1 0 -1.8 0M314 201.24a0.9 0.9 0 1 0 1.8 0a0.9 0.9 0 1 0 -1.8 0M306.29 200.56a0.9 0.9 0 1 0 1.8 0a0.9 0.9 0 1 0 -1.8 0M305.5 201.29a0.9 0.9 0 1 0 1.8 0a0.9 0.9 0 1 0 -1.8 0M306.21 201.1a0.9 0.9 0 1 0 1.8 0a0.9 0.9 0 1 0 -1.8 0M311.82 200.1a0.9 0.9 0 1 0 1.8 0a0.9 0.9 0 1 0 -1.8 0M304.79 200.71a0.9 0.9 0 1 0 1.8 0a0.9 0.9 0 1 0 -1.8 0M308.41 200.55a0.9 0.9 0 1 0 1.8 0a0.9 0.9 0 1 0 -1.8 0M305.18 201.28a0.9 0.9 0 1 0 1.8 0a0.9 0.9 0 1 0 -1.8 0M304.31 194.42a0.9 0.9 0 1 0 1.8 0a0.9 0.9 0 1 0 -1.8 0M312.62 201.27a0.9 0.9 0 1 0 1.8 0a0.9 0.9 0 1 0 -1.8 0M312.07 194.6a0.9 0.9 0 1 0 1.8 0a0.9 0.9 0 1 0 -1.8 0M309.72 201.25a0.9 0.9 0 1 0 1.8 0a0.9 0.9 0 1 0 -1.8 0M308.68 200.18a0.9 0.9 0 1 0 1.8 0a0.9 0.9 0 1 0 -1.8 0M305.36 199.47a0.9 0.9 0 1 0 1.8 0a0.9 0.9 0 1 0 -1.8 0" fill="#333" fill-opacity="0.6"/>
<rect x="304.7" y="200.65" width="15.6" height="1.8" fill="#1c1c1c" stroke="none" stroke-width="0" fill-opacity="0.82"/>
<path d="M303.95 202.08a0.85 0.85 0 1 0 1.7 0a0.85 0.85 0 1 0 -1.7 0M304.98 202.09a0.85 0.85 0 1 0 1.7 0a0.85 0.85 0 1 0 -1.7 0M305.62 201.47a0.85 0.85 0 1 0 1.7 0a0.85 0.85 0 1 0 -1.7 0M306.03 201.95a0.85 0.85 0 1 0 1.7 0a0.85 0.85 0 1 0 -1.7 0M307.02 201.42a0.85 0.85 0 1 0 1.7 0a0.85 0.85 0 1 0 -1.7 0M308.02 202.08a0.85 0.85 0 1 0 1.7 0a0.85 0.85 0 1 0 -1.7 0M308.51 202a0.85 0.85 0 1 0 1.7 0a0.85 0.85 0 1 0 -1.7 0M309.16 201.42a0.85 0.85 0 1 0 1.7 0a0.85 0.85 0 1 0 -1.7 0M310.04 201.58a0.85 0.85 0 1 0 1.7 0a0.85 0.85 0 1 0 -1.7 0M310.79 202a0.85 0.85 0 1 0 1.7 0a0.85 0.85 0 1 0 -1.7 0M311.21 201.76a0.85 0.85 0 1 0 1.7 0a0.85 0.85 0 1 0 -1.7 0M312.3 201.89a0.85 0.85 0 1 0 1.7 0a0.85 0.85 0 1 0 -1.7 0M313.27 201.69a0.85 0.85 0 1 0 1.7 0a0.85 0.85 0 1 0 -1.7 0M313.66 201.52a0.85 0.85 0 1 0 1.7 0a0.85 0.85 0 1 0 -1.7 0M314.37 201.87a0.85 0.85 0 1 0 1.7 0a0.85 0.85 0 1 0 -1.7 0M315.03 202.12a0.85 0.85 0 1 0 1.7 0a0.85 0.85 0 1 0 -1.7 0M315.34 201.65a0.85 0.85 0 1 0 1.7 0a0.85 0.85 0 1 0 -1.7 0M316.14 201.25a0.85 0.85 0 1 0 1.7 0a0.85 0.85 0 1 0 -1.7 0M317.08 201.96a0.85 0.85 0 1 0 1.7 0a0.85 0.85 0 1 0 -1.7 0M317.51 201.85a0.85 0.85 0 1 0 1.7 0a0.85 0.85 0 1 0 -1.7 0M318.27 201.55a0.85 0.85 0 1 0 1.7 0a0.85 0.85 0 1 0 -1.7 0M319.04 201.99a0.85 0.85 0 1 0 1.7 0a0.85 0.85 0 1 0 -1.7 0" fill="#151515" fill-opacity="0.8"/>
<path d="M305 199.6L307.83 198.23L310.67 196.92L313.5 195.45L316.33 193.74L319.17 191.9L322 189.99L324.83 188.05L327.67 186.08L330.5 184.1L333.33 182.11L336.17 180.12L339 178.12L341.83 176.12L344.67 174.11L347.5 172.1L350.33 170.1L353.17 168.09L356 166.08L358.83 164.07L361.67 162.05L364.5 160.04L367.33 158.03L370.17 156.01L373 154L373 186.4L370.17 186.96L367.33 187.52L364.5 188.08L361.67 188.65L358.83 189.21L356 189.77L353.17 190.34L350.33 190.9L347.5 191.47L344.67 192.04L341.83 192.61L339 193.18L336.17 193.76L333.33 194.34L330.5 194.92L327.67 195.52L324.83 196.13L322 196.76L319.17 197.42L316.33 198.16L313.5 199.02L310.67 200.13L307.83 201.39L305 202.6Z" stroke="none" stroke-width="0" fill="#999" fill-opacity="0.42"/>
<line x1="305" y1="201.1" x2="373" y2="170.2" stroke="#3366FF" stroke-width="1.1" />
<rect x="301.8" y="122.2" width="74.5" height="83.9" fill="none" stroke="#4d4d4d" stroke-width="0.7" />
<text x="350.4" y="129.5" font-size="4.9" fill="#000" font-weight="bold" textLength="22.26" lengthAdjust="spacingAndGlyphs" >R = 0.258</text>
<text x="350.4" y="135.5" font-size="4.9" font-weight="bold" textLength="21.69" lengthAdjust="spacingAndGlyphs"><tspan font-style="italic">p</tspan> &lt; 0.001</text>
<line x1="305.1" y1="206.1" x2="305.1" y2="207.4" stroke="#555" stroke-width="0.5" />
<text x="305.1" y="212.2" font-size="5" fill="#3a3a3a" text-anchor="middle" textLength="5.63" lengthAdjust="spacingAndGlyphs" >0.0</text>
<line x1="322.15" y1="206.1" x2="322.15" y2="207.4" stroke="#555" stroke-width="0.5" />
<text x="322.15" y="212.2" font-size="5" fill="#3a3a3a" text-anchor="middle" textLength="5.63" lengthAdjust="spacingAndGlyphs" >0.5</text>
<line x1="339.2" y1="206.1" x2="339.2" y2="207.4" stroke="#555" stroke-width="0.5" />
<text x="339.2" y="212.2" font-size="5" fill="#3a3a3a" text-anchor="middle" textLength="5.63" lengthAdjust="spacingAndGlyphs" >1.0</text>
<line x1="356.25" y1="206.1" x2="356.25" y2="207.4" stroke="#555" stroke-width="0.5" />
<text x="356.25" y="212.2" font-size="5" fill="#3a3a3a" text-anchor="middle" textLength="5.63" lengthAdjust="spacingAndGlyphs" >1.5</text>
<line x1="373.3" y1="206.1" x2="373.3" y2="207.4" stroke="#555" stroke-width="0.5" />
<text x="373.3" y="212.2" font-size="5" fill="#3a3a3a" text-anchor="middle" textLength="5.63" lengthAdjust="spacingAndGlyphs" >2.0</text>
<text x="337.4" y="218.8" font-size="6" fill="#111" text-anchor="middle" textLength="34.67" lengthAdjust="spacingAndGlyphs" >Infiltration Level</text>
<rect x="469.8" y="112.7" width="75.2" height="9.5" fill="#d9d9d9" stroke="#8a8a8a" stroke-width="0.7" />
<text x="507.4" y="119.35" font-size="5.4" fill="#262626" text-anchor="middle" textLength="37.29" lengthAdjust="spacingAndGlyphs" >T cell CD8+_TIMER</text>
<rect x="469.8" y="122.2" width="75.2" height="83.9" fill="#fff" stroke="none" stroke-width="0" />
<line x1="469.8" y1="194.1" x2="545" y2="194.1" stroke="#f7f7f7" stroke-width="0.4" />
<line x1="469.8" y1="178.1" x2="545" y2="178.1" stroke="#f7f7f7" stroke-width="0.4" />
<line x1="469.8" y1="162.1" x2="545" y2="162.1" stroke="#f7f7f7" stroke-width="0.4" />
<line x1="469.8" y1="146.1" x2="545" y2="146.1" stroke="#f7f7f7" stroke-width="0.4" />
<line x1="469.8" y1="130.1" x2="545" y2="130.1" stroke="#f7f7f7" stroke-width="0.4" />
<line x1="480.92" y1="122.2" x2="480.92" y2="206.1" stroke="#f7f7f7" stroke-width="0.4" />
<line x1="495.97" y1="122.2" x2="495.97" y2="206.1" stroke="#f7f7f7" stroke-width="0.4" />
<line x1="511.02" y1="122.2" x2="511.02" y2="206.1" stroke="#f7f7f7" stroke-width="0.4" />
<line x1="526.07" y1="122.2" x2="526.07" y2="206.1" stroke="#f7f7f7" stroke-width="0.4" />
<line x1="541.12" y1="122.2" x2="541.12" y2="206.1" stroke="#f7f7f7" stroke-width="0.4" />
<line x1="469.8" y1="202.1" x2="545" y2="202.1" stroke="#efefef" stroke-width="0.6" />
<line x1="469.8" y1="186.1" x2="545" y2="186.1" stroke="#efefef" stroke-width="0.6" />
<line x1="469.8" y1="170.1" x2="545" y2="170.1" stroke="#efefef" stroke-width="0.6" />
<line x1="469.8" y1="154.1" x2="545" y2="154.1" stroke="#efefef" stroke-width="0.6" />
<line x1="469.8" y1="138.1" x2="545" y2="138.1" stroke="#efefef" stroke-width="0.6" />
<line x1="469.8" y1="122.1" x2="545" y2="122.1" stroke="#efefef" stroke-width="0.6" />
<line x1="473.4" y1="122.2" x2="473.4" y2="206.1" stroke="#efefef" stroke-width="0.6" />
<line x1="488.45" y1="122.2" x2="488.45" y2="206.1" stroke="#efefef" stroke-width="0.6" />
<line x1="503.5" y1="122.2" x2="503.5" y2="206.1" stroke="#efefef" stroke-width="0.6" />
<line x1="518.55" y1="122.2" x2="518.55" y2="206.1" stroke="#efefef" stroke-width="0.6" />
<line x1="533.6" y1="122.2" x2="533.6" y2="206.1" stroke="#efefef" stroke-width="0.6" />
<path d="M476.65 125.7a0.95 0.95 0 1 0 1.9 0a0.95 0.95 0 1 0 -1.9 0M492.55 125.7a0.95 0.95 0 1 0 1.9 0a0.95 0.95 0 1 0 -1.9 0M490.45 142a0.95 0.95 0 1 0 1.9 0a0.95 0.95 0 1 0 -1.9 0M472.75 143.8a0.95 0.95 0 1 0 1.9 0a0.95 0.95 0 1 0 -1.9 0M479.85 145.5a0.95 0.95 0 1 0 1.9 0a0.95 0.95 0 1 0 -1.9 0M480.55 146.2a0.95 0.95 0 1 0 1.9 0a0.95 0.95 0 1 0 -1.9 0M481.25 147a0.95 0.95 0 1 0 1.9 0a0.95 0.95 0 1 0 -1.9 0M472.05 158.3a0.95 0.95 0 1 0 1.9 0a0.95 0.95 0 1 0 -1.9 0M475.55 160a0.95 0.95 0 1 0 1.9 0a0.95 0.95 0 1 0 -1.9 0M480.55 160.4a0.95 0.95 0 1 0 1.9 0a0.95 0.95 0 1 0 -1.9 0M472.75 166.4a0.95 0.95 0 1 0 1.9 0a0.95 0.95 0 1 0 -1.9 0M540.05 167.8a0.95 0.95 0 1 0 1.9 0a0.95 0.95 0 1 0 -1.9 0M481.25 167.8a0.95 0.95 0 1 0 1.9 0a0.95 0.95 0 1 0 -1.9 0M481.95 171.3a0.95 0.95 0 1 0 1.9 0a0.95 0.95 0 1 0 -1.9 0M481.25 172.8a0.95 0.95 0 1 0 1.9 0a0.95 0.95 0 1 0 -1.9 0M485.25 170.2a0.95 0.95 0 1 0 1.9 0a0.95 0.95 0 1 0 -1.9 0M477.65 174.9a0.95 0.95 0 1 0 1.9 0a0.95 0.95 0 1 0 -1.9 0M476.95 175.6a0.95 0.95 0 1 0 1.9 0a0.95 0.95 0 1 0 -1.9 0M474.85 177a0.95 0.95 0 1 0 1.9 0a0.95 0.95 0 1 0 -1.9 0M475.55 177.7a0.95 0.95 0 1 0 1.9 0a0.95 0.95 0 1 0 -1.9 0M472.75 178.4a0.95 0.95 0 1 0 1.9 0a0.95 0.95 0 1 0 -1.9 0M473.45 179.9a0.95 0.95 0 1 0 1.9 0a0.95 0.95 0 1 0 -1.9 0M481.95 177.7a0.95 0.95 0 1 0 1.9 0a0.95 0.95 0 1 0 -1.9 0M482.65 178.4a0.95 0.95 0 1 0 1.9 0a0.95 0.95 0 1 0 -1.9 0M475.55 181.3a0.95 0.95 0 1 0 1.9 0a0.95 0.95 0 1 0 -1.9 0M476.25 182a0.95 0.95 0 1 0 1.9 0a0.95 0.95 0 1 0 -1.9 0M473.45 183.4a0.95 0.95 0 1 0 1.9 0a0.95 0.95 0 1 0 -1.9 0M472.75 184.8a0.95 0.95 0 1 0 1.9 0a0.95 0.95 0 1 0 -1.9 0M477.65 184.1a0.95 0.95 0 1 0 1.9 0a0.95 0.95 0 1 0 -1.9 0M477.65 186.2a0.95 0.95 0 1 0 1.9 0a0.95 0.95 0 1 0 -1.9 0M480.55 188.4a0.95 0.95 0 1 0 1.9 0a0.95 0.95 0 1 0 -1.9 0M479.15 189.1a0.95 0.95 0 1 0 1.9 0a0.95 0.95 0 1 0 -1.9 0M508.15 187.7a0.95 0.95 0 1 0 1.9 0a0.95 0.95 0 1 0 -1.9 0M473.45 191.2a0.95 0.95 0 1 0 1.9 0a0.95 0.95 0 1 0 -1.9 0M474.15 191.9a0.95 0.95 0 1 0 1.9 0a0.95 0.95 0 1 0 -1.9 0M474.85 192.6a0.95 0.95 0 1 0 1.9 0a0.95 0.95 0 1 0 -1.9 0M472.75 194a0.95 0.95 0 1 0 1.9 0a0.95 0.95 0 1 0 -1.9 0M474.15 194.8a0.95 0.95 0 1 0 1.9 0a0.95 0.95 0 1 0 -1.9 0M475.55 190.5a0.95 0.95 0 1 0 1.9 0a0.95 0.95 0 1 0 -1.9 0M481.25 196.9a0.95 0.95 0 1 0 1.9 0a0.95 0.95 0 1 0 -1.9 0M485.45 198.3a0.95 0.95 0 1 0 1.9 0a0.95 0.95 0 1 0 -1.9 0" fill="#555555" fill-opacity="0.72"/>
<path d="M473.29 200.89a0.9 0.9 0 1 0 1.8 0a0.9 0.9 0 1 0 -1.8 0M476.67 199.6a0.9 0.9 0 1 0 1.8 0a0.9 0.9 0 1 0 -1.8 0M475.34 201.13a0.9 0.9 0 1 0 1.8 0a0.9 0.9 0 1 0 -1.8 0M472.67 200.8a0.9 0.9 0 1 0 1.8 0a0.9 0.9 0 1 0 -1.8 0M476.92 195.67a0.9 0.9 0 1 0 1.8 0a0.9 0.9 0 1 0 -1.8 0M485.12 196.93a0.9 0.9 0 1 0 1.8 0a0.9 0.9 0 1 0 -1.8 0M486.53 195.79a0.9 0.9 0 1 0 1.8 0a0.9 0.9 0 1 0 -1.8 0M479.52 197.51a0.9 0.9 0 1 0 1.8 0a0.9 0.9 0 1 0 -1.8 0M472.52 198.76a0.9 0.9 0 1 0 1.8 0a0.9 0.9 0 1 0 -1.8 0M479.34 200.88a0.9 0.9 0 1 0 1.8 0a0.9 0.9 0 1 0 -1.8 0M478.69 195.91a0.9 0.9 0 1 0 1.8 0a0.9 0.9 0 1 0 -1.8 0M477.23 199a0.9 0.9 0 1 0 1.8 0a0.9 0.9 0 1 0 -1.8 0M474.72 200.73a0.9 0.9 0 1 0 1.8 0a0.9 0.9 0 1 0 -1.8 0M484.62 201.3a0.9 0.9 0 1 0 1.8 0a0.9 0.9 0 1 0 -1.8 0M473.51 198.74a0.9 0.9 0 1 0 1.8 0a0.9 0.9 0 1 0 -1.8 0M476.73 201.27a0.9 0.9 0 1 0 1.8 0a0.9 0.9 0 1 0 -1.8 0M480.24 200.62a0.9 0.9 0 1 0 1.8 0a0.9 0.9 0 1 0 -1.8 0M478.85 200.43a0.9 0.9 0 1 0 1.8 0a0.9 0.9 0 1 0 -1.8 0M478.01 199.59a0.9 0.9 0 1 0 1.8 0a0.9 0.9 0 1 0 -1.8 0M475.99 201.25a0.9 0.9 0 1 0 1.8 0a0.9 0.9 0 1 0 -1.8 0M473.43 196.66a0.9 0.9 0 1 0 1.8 0a0.9 0.9 0 1 0 -1.8 0M478.31 201.25a0.9 0.9 0 1 0 1.8 0a0.9 0.9 0 1 0 -1.8 0M484.15 201.01a0.9 0.9 0 1 0 1.8 0a0.9 0.9 0 1 0 -1.8 0M472.73 199.81a0.9 0.9 0 1 0 1.8 0a0.9 0.9 0 1 0 -1.8 0M474.17 200.05a0.9 0.9 0 1 0 1.8 0a0.9 0.9 0 1 0 -1.8 0M478.4 201.07a0.9 0.9 0 1 0 1.8 0a0.9 0.9 0 1 0 -1.8 0M478.71 201.25a0.9 0.9 0 1 0 1.8 0a0.9 0.9 0 1 0 -1.8 0M477.74 199.43a0.9 0.9 0 1 0 1.8 0a0.9 0.9 0 1 0 -1.8 0M472.64 200.47a0.9 0.9 0 1 0 1.8 0a0.9 0.9 0 1 0 -1.8 0M472.59 200.32a0.9 0.9 0 1 0 1.8 0a0.9 0.9 0 1 0 -1.8 0M484.18 199.69a0.9 0.9 0 1 0 1.8 0a0.9 0.9 0 1 0 -1.8 0M481.24 198.05a0.9 0.9 0 1 0 1.8 0a0.9 0.9 0 1 0 -1.8 0M472.87 195.42a0.9 0.9 0 1 0 1.8 0a0.9 0.9 0 1 0 -1.8 0M481.37 201.26a0.9 0.9 0 1 0 1.8 0a0.9 0.9 0 1 0 -1.8 0M483.5 200.54a0.9 0.9 0 1 0 1.8 0a0.9 0.9 0 1 0 -1.8 0M473.35 195.81a0.9 0.9 0 1 0 1.8 0a0.9 0.9 0 1 0 -1.8 0M478.55 197.88a0.9 0.9 0 1 0 1.8 0a0.9 0.9 0 1 0 -1.8 0M473.05 197.86a0.9 0.9 0 1 0 1.8 0a0.9 0.9 0 1 0 -1.8 0M472.5 201.05a0.9 0.9 0 1 0 1.8 0a0.9 0.9 0 1 0 -1.8 0M475.66 201.3a0.9 0.9 0 1 0 1.8 0a0.9 0.9 0 1 0 -1.8 0" fill="#333" fill-opacity="0.6"/>
<rect x="472.7" y="200.65" width="19.6" height="1.8" fill="#1c1c1c" stroke="none" stroke-width="0" fill-opacity="0.82"/>
<path d="M472.19 201.44a0.85 0.85 0 1 0 1.7 0a0.85 0.85 0 1 0 -1.7 0M472.82 201.63a0.85 0.85 0 1 0 1.7 0a0.85 0.85 0 1 0 -1.7 0M473.7 202.03a0.85 0.85 0 1 0 1.7 0a0.85 0.85 0 1 0 -1.7 0M474.56 202.03a0.85 0.85 0 1 0 1.7 0a0.85 0.85 0 1 0 -1.7 0M475 201.56a0.85 0.85 0 1 0 1.7 0a0.85 0.85 0 1 0 -1.7 0M475.82 201.99a0.85 0.85 0 1 0 1.7 0a0.85 0.85 0 1 0 -1.7 0M476.19 201.91a0.85 0.85 0 1 0 1.7 0a0.85 0.85 0 1 0 -1.7 0M477.28 201.29a0.85 0.85 0 1 0 1.7 0a0.85 0.85 0 1 0 -1.7 0M477.79 201.74a0.85 0.85 0 1 0 1.7 0a0.85 0.85 0 1 0 -1.7 0M478.67 202.08a0.85 0.85 0 1 0 1.7 0a0.85 0.85 0 1 0 -1.7 0M479.52 201.42a0.85 0.85 0 1 0 1.7 0a0.85 0.85 0 1 0 -1.7 0M480.42 201.77a0.85 0.85 0 1 0 1.7 0a0.85 0.85 0 1 0 -1.7 0M480.58 201.35a0.85 0.85 0 1 0 1.7 0a0.85 0.85 0 1 0 -1.7 0M481.51 201.75a0.85 0.85 0 1 0 1.7 0a0.85 0.85 0 1 0 -1.7 0M482.3 201.59a0.85 0.85 0 1 0 1.7 0a0.85 0.85 0 1 0 -1.7 0M482.87 201.73a0.85 0.85 0 1 0 1.7 0a0.85 0.85 0 1 0 -1.7 0M483.65 202.1a0.85 0.85 0 1 0 1.7 0a0.85 0.85 0 1 0 -1.7 0M483.89 201.39a0.85 0.85 0 1 0 1.7 0a0.85 0.85 0 1 0 -1.7 0M484.81 201.97a0.85 0.85 0 1 0 1.7 0a0.85 0.85 0 1 0 -1.7 0M484.97 201.99a0.85 0.85 0 1 0 1.7 0a0.85 0.85 0 1 0 -1.7 0M485.86 201.68a0.85 0.85 0 1 0 1.7 0a0.85 0.85 0 1 0 -1.7 0M486.55 201.6a0.85 0.85 0 1 0 1.7 0a0.85 0.85 0 1 0 -1.7 0M487.36 201.32a0.85 0.85 0 1 0 1.7 0a0.85 0.85 0 1 0 -1.7 0M487.81 202.05a0.85 0.85 0 1 0 1.7 0a0.85 0.85 0 1 0 -1.7 0M488.49 201.4a0.85 0.85 0 1 0 1.7 0a0.85 0.85 0 1 0 -1.7 0M489.28 201.77a0.85 0.85 0 1 0 1.7 0a0.85 0.85 0 1 0 -1.7 0M489.87 201.26a0.85 0.85 0 1 0 1.7 0a0.85 0.85 0 1 0 -1.7 0M490.61 201.27a0.85 0.85 0 1 0 1.7 0a0.85 0.85 0 1 0 -1.7 0M493.34 201.29a0.85 0.85 0 1 0 1.7 0a0.85 0.85 0 1 0 -1.7 0M494.22 201.5a0.85 0.85 0 1 0 1.7 0a0.85 0.85 0 1 0 -1.7 0M495.3 201.49a0.85 0.85 0 1 0 1.7 0a0.85 0.85 0 1 0 -1.7 0M496.79 202.11a0.85 0.85 0 1 0 1.7 0a0.85 0.85 0 1 0 -1.7 0M498.54 201.75a0.85 0.85 0 1 0 1.7 0a0.85 0.85 0 1 0 -1.7 0M500.58 201.95a0.85 0.85 0 1 0 1.7 0a0.85 0.85 0 1 0 -1.7 0M502.03 201.58a0.85 0.85 0 1 0 1.7 0a0.85 0.85 0 1 0 -1.7 0M503.25 202.04a0.85 0.85 0 1 0 1.7 0a0.85 0.85 0 1 0 -1.7 0M514.02 201.52a0.85 0.85 0 1 0 1.7 0a0.85 0.85 0 1 0 -1.7 0M523.25 201.71a0.85 0.85 0 1 0 1.7 0a0.85 0.85 0 1 0 -1.7 0M525.53 201.75a0.85 0.85 0 1 0 1.7 0a0.85 0.85 0 1 0 -1.7 0" fill="#151515" fill-opacity="0.8"/>
<path d="M473 197L475.83 196.35L478.67 195.92L481.5 195.54L484.33 195.06L487.17 194.52L490 193.93L492.83 193.29L495.67 192.63L498.5 191.95L501.33 191.25L504.17 190.54L507 189.82L509.83 189.09L512.67 188.36L515.5 187.63L518.33 186.89L521.17 186.15L524 185.4L526.83 184.65L529.67 183.91L532.5 183.16L535.33 182.41L538.17 181.65L541 180.9L541 200.1L538.17 200.02L535.33 199.94L532.5 199.87L529.67 199.79L526.83 199.72L524 199.65L521.17 199.58L518.33 199.51L515.5 199.45L512.67 199.39L509.83 199.33L507 199.28L504.17 199.24L501.33 199.2L498.5 199.18L495.67 199.17L492.83 199.18L490 199.22L487.17 199.3L484.33 199.44L481.5 199.64L478.67 199.93L475.83 200.18L473 200.2Z" stroke="none" stroke-width="0" fill="#999" fill-opacity="0.42"/>
<line x1="473" y1="198.6" x2="541" y2="190.5" stroke="#3366FF" stroke-width="1.1" />
<rect x="469.8" y="122.2" width="75.2" height="83.9" fill="none" stroke="#4d4d4d" stroke-width="0.7" />
<text x="515.5" y="129.5" font-size="4.9" fill="#000" font-weight="bold" textLength="23.95" lengthAdjust="spacingAndGlyphs" >R = -0.107</text>
<text x="515.5" y="135.5" font-size="4.9" font-weight="bold" textLength="24.52" lengthAdjust="spacingAndGlyphs"><tspan font-style="italic">p</tspan> = 0.0478</text>
<line x1="473.4" y1="206.1" x2="473.4" y2="207.4" stroke="#555" stroke-width="0.5" />
<text x="473.4" y="212.2" font-size="5" fill="#3a3a3a" text-anchor="middle" textLength="5.63" lengthAdjust="spacingAndGlyphs" >0.0</text>
<line x1="488.45" y1="206.1" x2="488.45" y2="207.4" stroke="#555" stroke-width="0.5" />
<text x="488.45" y="212.2" font-size="5" fill="#3a3a3a" text-anchor="middle" textLength="5.63" lengthAdjust="spacingAndGlyphs" >0.5</text>
<line x1="503.5" y1="206.1" x2="503.5" y2="207.4" stroke="#555" stroke-width="0.5" />
<text x="503.5" y="212.2" font-size="5" fill="#3a3a3a" text-anchor="middle" textLength="5.63" lengthAdjust="spacingAndGlyphs" >1.0</text>
<line x1="518.55" y1="206.1" x2="518.55" y2="207.4" stroke="#555" stroke-width="0.5" />
<text x="518.55" y="212.2" font-size="5" fill="#3a3a3a" text-anchor="middle" textLength="5.63" lengthAdjust="spacingAndGlyphs" >1.5</text>
<line x1="533.6" y1="206.1" x2="533.6" y2="207.4" stroke="#555" stroke-width="0.5" />
<text x="533.6" y="212.2" font-size="5" fill="#3a3a3a" text-anchor="middle" textLength="5.63" lengthAdjust="spacingAndGlyphs" >2.0</text>
<text x="505.4" y="218.8" font-size="6" fill="#111" text-anchor="middle" textLength="34.67" lengthAdjust="spacingAndGlyphs" >Infiltration Level</text>
<text x="4.6" y="245.9" font-size="11.8" fill="#000" font-weight="bold" textLength="6.6" lengthAdjust="spacingAndGlyphs" >B</text>
<line x1="37.7" y1="232.2" x2="37.7" y2="484.2" stroke="#000" stroke-width="1.6" />
<text x="33.6" y="394.6" font-size="10.4" fill="#000" font-weight="bold" transform="rotate(-90 33.6 394.6)" textLength="99.8" lengthAdjust="spacingAndGlyphs" >Cumulative Survival</text>
<line x1="59" y1="506.4" x2="545.6" y2="506.4" stroke="#000" stroke-width="1.6" />
<text x="243.5" y="520.2" font-size="11.1" fill="#000" font-weight="bold" textLength="142" lengthAdjust="spacingAndGlyphs" >Time to Follow-up(months)</text>
<rect x="59.2" y="233.3" width="148.4" height="116.9" fill="#fff" stroke="#8c8c8c" stroke-width="0.8" />
<line x1="56.8" y1="346.4" x2="59.2" y2="346.4" stroke="#777" stroke-width="0.6" />
<text x="52.4" y="346.4" font-size="7.5" fill="#1c1c1c" text-anchor="middle" transform="rotate(-90 52.4 346.4)" textLength="9.17" lengthAdjust="spacingAndGlyphs" >0.0</text>
<line x1="56.8" y1="324.6" x2="59.2" y2="324.6" stroke="#777" stroke-width="0.6" />
<text x="52.4" y="324.6" font-size="7.5" fill="#1c1c1c" text-anchor="middle" transform="rotate(-90 52.4 324.6)" textLength="9.17" lengthAdjust="spacingAndGlyphs" >0.2</text>
<line x1="56.8" y1="302.8" x2="59.2" y2="302.8" stroke="#777" stroke-width="0.6" />
<text x="52.4" y="302.8" font-size="7.5" fill="#1c1c1c" text-anchor="middle" transform="rotate(-90 52.4 302.8)" textLength="9.17" lengthAdjust="spacingAndGlyphs" >0.4</text>
<line x1="56.8" y1="281" x2="59.2" y2="281" stroke="#777" stroke-width="0.6" />
<text x="52.4" y="281" font-size="7.5" fill="#1c1c1c" text-anchor="middle" transform="rotate(-90 52.4 281)" textLength="9.17" lengthAdjust="spacingAndGlyphs" >0.6</text>
<line x1="56.8" y1="259.2" x2="59.2" y2="259.2" stroke="#777" stroke-width="0.6" />
<text x="52.4" y="259.2" font-size="7.5" fill="#1c1c1c" text-anchor="middle" transform="rotate(-90 52.4 259.2)" textLength="9.17" lengthAdjust="spacingAndGlyphs" >0.8</text>
<line x1="56.8" y1="237.4" x2="59.2" y2="237.4" stroke="#777" stroke-width="0.6" />
<text x="52.4" y="237.4" font-size="7.5" fill="#1c1c1c" text-anchor="middle" transform="rotate(-90 52.4 237.4)" textLength="9.17" lengthAdjust="spacingAndGlyphs" >1.0</text>
<line x1="64.5" y1="350.2" x2="64.5" y2="352.6" stroke="#777" stroke-width="0.6" />
<text x="64.5" y="361.2" font-size="7.5" fill="#1c1c1c" text-anchor="middle" textLength="3.67" lengthAdjust="spacingAndGlyphs" >0</text>
<line x1="87.1" y1="350.2" x2="87.1" y2="352.6" stroke="#777" stroke-width="0.6" />
<text x="87.1" y="361.2" font-size="7.5" fill="#1c1c1c" text-anchor="middle" textLength="7.34" lengthAdjust="spacingAndGlyphs" >20</text>
<line x1="109.7" y1="350.2" x2="109.7" y2="352.6" stroke="#777" stroke-width="0.6" />
<text x="109.7" y="361.2" font-size="7.5" fill="#1c1c1c" text-anchor="middle" textLength="7.34" lengthAdjust="spacingAndGlyphs" >40</text>
<line x1="132.3" y1="350.2" x2="132.3" y2="352.6" stroke="#777" stroke-width="0.6" />
<text x="132.3" y="361.2" font-size="7.5" fill="#1c1c1c" text-anchor="middle" textLength="7.34" lengthAdjust="spacingAndGlyphs" >60</text>
<line x1="154.9" y1="350.2" x2="154.9" y2="352.6" stroke="#777" stroke-width="0.6" />
<text x="154.9" y="361.2" font-size="7.5" fill="#1c1c1c" text-anchor="middle" textLength="7.34" lengthAdjust="spacingAndGlyphs" >80</text>
<line x1="177.5" y1="350.2" x2="177.5" y2="352.6" stroke="#777" stroke-width="0.6" />
<text x="177.5" y="361.2" font-size="7.5" fill="#1c1c1c" text-anchor="middle" textLength="11.01" lengthAdjust="spacingAndGlyphs" >100</text>
<line x1="200.1" y1="350.2" x2="200.1" y2="352.6" stroke="#777" stroke-width="0.6" />
<text x="200.1" y="361.2" font-size="7.5" fill="#1c1c1c" text-anchor="middle" textLength="11.01" lengthAdjust="spacingAndGlyphs" >120</text>
<path d="M65.1 237.8H67.3V241.5H68.75V242.95H70.2V244.4H72.35V245.85H74.5V247.3H75.97V249H77.43V250.7H78.9V252.4H81.8V253.8H86.9V253.8H89.1V257.5H91.3V261.8H93.1V263.65H94.9V265.5H100.7V266.9H103.6V269.1H105.8V270.9H108V272.7H109.45V274.15H110.9V275.6H114.5V277.8H118.2V280H121.1V281.5H122.55V282.95H124V284.4H126.2V286.2H128.4V288H133V288.3H133.8V293.6H143.7V293.6H144.4V305H158V305H158.5V315.5H181.7V315.5H181.7V346" stroke="#3aaee0" stroke-width="1.45" fill="none" stroke-linejoin="miter"/>
<path d="M65.1 237.8H66.9V240.7H68.7V243.6H70.17V245.57H71.63V247.53H73.1V249.5H74.9V251.3H76.7V253.1H80.4V255.3H83.3V257.5H86.2V259.6H88.4V265.5H90.5V271.3H92V272.75H93.5V274.2H94.95V276.35H96.4V278.5H97.8V280.7H103.6V280.7H106.5V282.2H109.45V283.65H112.4V285.1H115.3V286.9H118.2V288.7H120.35V290.15H122.5V291.6H126.9V293.1H130V295.1H131.5V297.4H143.7V297.4H144.4V304.2H158.9V304.2H158.9V314.9H186.3V314.9H186.6V325.1H193.1V325.1" stroke="#2b2ba6" stroke-width="1.45" fill="none" stroke-linejoin="miter"/>
<path d="M65.1 237.8H66.9V241.1H68.7V244.4H70.9V246.2H73.1V248H74.5V251.6H76V254.55H77.5V257.5H79.6V263.3H81.8V266.9H84V269.1H86.9V269.8H89.1V272H90.55V273.8H92V275.6H93.45V277.8H94.9V280H96.4V285.8H98.5V290.2H100V292.35H101.5V294.5H102.2V296.7H124V296.7H124.5V306.5H157.4V306.5H158.1V314.9H186.3V314.9H186.6V330.5H203V330.5" stroke="#ff8c1a" stroke-width="1.45" fill="none" stroke-linejoin="miter"/>
<path d="M65.1 237.8H66.57V240.7H68.03V243.6H69.5V246.5H71.17V249.9H72.83V253.3H74.5V256.7H76V259.6H77.5V262.5H78.95V266.15H80.4V269.8H82.5V272H86.9V272H90.5V274.2H92.7V277.1H94.15V278.55H95.6V280H103.6V280H105.05V281.45H106.5V282.9H109.45V284.35H112.4V285.8H116V285.8H118.2V290.2H122.5V290.2H124.7V291.65H126.9V293.1H128.4V297.5H130V301.2H133V301.2H133.8V306.5H156.6V306.5H157.1V316.4H195.4V316.4" stroke="#d21131" stroke-width="1.45" fill="none" stroke-linejoin="miter"/>
<line x1="115.1" y1="237.8" x2="123.1" y2="237.8" stroke="#2b2ba6" stroke-width="1.6" />
<text x="126.4" y="239.5" font-size="4.9" fill="#3d3d3d" textLength="76.4" lengthAdjust="spacingAndGlyphs" >1 Low Gene Expression + Low B cell_TIMER</text>
<line x1="115.1" y1="242.4" x2="123.1" y2="242.4" stroke="#3aaee0" stroke-width="1.6" />
<text x="126.4" y="244.1" font-size="4.9" fill="#3d3d3d" textLength="77.25" lengthAdjust="spacingAndGlyphs" >2 Low Gene Expression + High B cell_TIMER</text>
<line x1="115.1" y1="246.9" x2="123.1" y2="246.9" stroke="#ff8c1a" stroke-width="1.6" />
<text x="126.4" y="248.6" font-size="4.9" fill="#3d3d3d" textLength="77.25" lengthAdjust="spacingAndGlyphs" >3 High Gene Expression + Low B cell_TIMER</text>
<line x1="115.1" y1="251.3" x2="123.1" y2="251.3" stroke="#d21131" stroke-width="1.6" />
<text x="126.4" y="253" font-size="4.9" fill="#3d3d3d" textLength="78.1" lengthAdjust="spacingAndGlyphs" >4 High Gene Expression + High B cell_TIMER</text>
<text x="62.9" y="339.3" font-size="6.2" font-weight="bold" fill="#161616" textLength="76.8" lengthAdjust="spacingAndGlyphs">2 vs 1: HR = 0.835, <tspan font-style="italic">p</tspan> = 0.397</text>
<text x="62.9" y="345.9" font-size="6.2" font-weight="bold" fill="#161616" textLength="76.8" lengthAdjust="spacingAndGlyphs">4 vs 3: HR = 0.951, <tspan font-style="italic">p</tspan> = 0.839</text>
<rect x="226.7" y="233.1" width="148.7" height="117.1" fill="#fff" stroke="#8c8c8c" stroke-width="0.8" />
<line x1="224.3" y1="346.3" x2="226.7" y2="346.3" stroke="#777" stroke-width="0.6" />
<text x="219.9" y="346.3" font-size="7.5" fill="#1c1c1c" text-anchor="middle" transform="rotate(-90 219.9 346.3)" textLength="9.17" lengthAdjust="spacingAndGlyphs" >0.0</text>
<line x1="224.3" y1="324.48" x2="226.7" y2="324.48" stroke="#777" stroke-width="0.6" />
<text x="219.9" y="324.48" font-size="7.5" fill="#1c1c1c" text-anchor="middle" transform="rotate(-90 219.9 324.48)" textLength="9.17" lengthAdjust="spacingAndGlyphs" >0.2</text>
<line x1="224.3" y1="302.66" x2="226.7" y2="302.66" stroke="#777" stroke-width="0.6" />
<text x="219.9" y="302.66" font-size="7.5" fill="#1c1c1c" text-anchor="middle" transform="rotate(-90 219.9 302.66)" textLength="9.17" lengthAdjust="spacingAndGlyphs" >0.4</text>
<line x1="224.3" y1="280.84" x2="226.7" y2="280.84" stroke="#777" stroke-width="0.6" />
<text x="219.9" y="280.84" font-size="7.5" fill="#1c1c1c" text-anchor="middle" transform="rotate(-90 219.9 280.84)" textLength="9.17" lengthAdjust="spacingAndGlyphs" >0.6</text>
<line x1="224.3" y1="259.02" x2="226.7" y2="259.02" stroke="#777" stroke-width="0.6" />
<text x="219.9" y="259.02" font-size="7.5" fill="#1c1c1c" text-anchor="middle" transform="rotate(-90 219.9 259.02)" textLength="9.17" lengthAdjust="spacingAndGlyphs" >0.8</text>
<line x1="224.3" y1="237.2" x2="226.7" y2="237.2" stroke="#777" stroke-width="0.6" />
<text x="219.9" y="237.2" font-size="7.5" fill="#1c1c1c" text-anchor="middle" transform="rotate(-90 219.9 237.2)" textLength="9.17" lengthAdjust="spacingAndGlyphs" >1.0</text>
<line x1="232.5" y1="350.2" x2="232.5" y2="352.6" stroke="#777" stroke-width="0.6" />
<text x="232.5" y="361.2" font-size="7.5" fill="#1c1c1c" text-anchor="middle" textLength="3.67" lengthAdjust="spacingAndGlyphs" >0</text>
<line x1="254.96" y1="350.2" x2="254.96" y2="352.6" stroke="#777" stroke-width="0.6" />
<text x="254.96" y="361.2" font-size="7.5" fill="#1c1c1c" text-anchor="middle" textLength="7.34" lengthAdjust="spacingAndGlyphs" >20</text>
<line x1="277.42" y1="350.2" x2="277.42" y2="352.6" stroke="#777" stroke-width="0.6" />
<text x="277.42" y="361.2" font-size="7.5" fill="#1c1c1c" text-anchor="middle" textLength="7.34" lengthAdjust="spacingAndGlyphs" >40</text>
<line x1="299.88" y1="350.2" x2="299.88" y2="352.6" stroke="#777" stroke-width="0.6" />
<text x="299.88" y="361.2" font-size="7.5" fill="#1c1c1c" text-anchor="middle" textLength="7.34" lengthAdjust="spacingAndGlyphs" >60</text>
<line x1="322.34" y1="350.2" x2="322.34" y2="352.6" stroke="#777" stroke-width="0.6" />
<text x="322.34" y="361.2" font-size="7.5" fill="#1c1c1c" text-anchor="middle" textLength="7.34" lengthAdjust="spacingAndGlyphs" >80</text>
<line x1="344.8" y1="350.2" x2="344.8" y2="352.6" stroke="#777" stroke-width="0.6" />
<text x="344.8" y="361.2" font-size="7.5" fill="#1c1c1c" text-anchor="middle" textLength="11.01" lengthAdjust="spacingAndGlyphs" >100</text>
<line x1="367.26" y1="350.2" x2="367.26" y2="352.6" stroke="#777" stroke-width="0.6" />
<text x="367.26" y="361.2" font-size="7.5" fill="#1c1c1c" text-anchor="middle" textLength="11.01" lengthAdjust="spacingAndGlyphs" >120</text>
<path d="M232.4 237.1H233.85V240H235.3V242.9H237.45V244.35H239.6V245.8H241.05V248.35H242.5V250.9H244V253.45H245.5V256H246.93V258.17H248.37V260.33H249.8V262.5H251.27V263.97H252.73V265.43H254.2V266.9H256.35V268.7H258.5V270.5H259.97V272.2H261.43V273.9H262.9V275.6H264.35V277.05H265.8V278.5H271.6V280H273.05V281.45H274.5V282.9H276V284.35H277.5V285.8H280.4V288H283.3V290.2H285.45V291.65H287.6V293.1H289.8V294.55H292V296H293.45V297.45H294.9V298.9H296V301.2H301.3V301.2H302.1V305.7H311.2V305.7H312V321H327.2V321H327.6V333.9H361.4V333.9" stroke="#3aaee0" stroke-width="1.45" fill="none" stroke-linejoin="miter"/>
<path d="M232.4 237.1H233.8V242.9H236.7V245.1H238.9V246.55H241.1V248H244V248H249.8V248.7H252.7V250.2H254.2V253.1H255.6V257.5H257.1V261.1H258.55V263.3H260V265.5H261.45V267.3H262.9V269.1H265.8V271.3H276V271.3H278.2V274.2H280.4V277.1H289.1V278.5H293.5V280.7H296V281.4H299V281.4H299.3V285.2H312V285.2H312.4V289.8H324.9V289.8H325.7V298.9H349.2V298.9H349.5V323.2H353.8V323.2H354.3V334.6H356.1V334.6" stroke="#2b2ba6" stroke-width="1.45" fill="none" stroke-linejoin="miter"/>
<path d="M232.4 237.1H234.5V241.5H238.2V242.9H241.1V245.1H242.5V248.7H244V252.4H246.2V256H248.4V262.5H251.3V264.7H254.2V266.2H255.65V268H257.1V269.8H260V271.3H264.4V273.5H266.5V275.6H267.3V278.5H290.5V278.5H292V281.5H293.5V287.3H294.9V290.2H296V295.9H301.3V295.9H301.8V301.2H327.2V301.2H327.6V315.6H362.9V315.6" stroke="#ff8c1a" stroke-width="1.45" fill="none" stroke-linejoin="miter"/>
<path d="M232.4 237.1H233.85V241.1H235.3V245.1H236.75V248H238.2V250.9H239.65V253.8H241.1V256.7H242.55V258.9H244V261.1H245.45V264H246.9V266.9H248.35V269.8H249.8V272.7H252.7V274.2H257.1V275.6H258.55V277.05H260V278.5H261.45V281.45H262.9V284.4H265.1V286.2H267.3V288H269.45V289.8H271.6V291.6H273.07V293.07H274.53V294.53H276V296H280.4V298.2H284.7V298.9H287.35V300.95H290V303H292V304.93H294V306.87H296V308.8H323.4V308.8H324.1V315.3H353.8V315.3H354.3V325.5H370.5V325.5" stroke="#d21131" stroke-width="1.45" fill="none" stroke-linejoin="miter"/>
<line x1="271.1" y1="237.1" x2="278.8" y2="237.1" stroke="#2b2ba6" stroke-width="1.6" />
<text x="280.9" y="238.8" font-size="4.9" fill="#3d3d3d" textLength="89.28" lengthAdjust="spacingAndGlyphs" >1 Low Gene Expression + Low Macrophage_TIMER</text>
<line x1="271.1" y1="241.8" x2="278.8" y2="241.8" stroke="#3aaee0" stroke-width="1.6" />
<text x="280.9" y="243.5" font-size="4.9" fill="#3d3d3d" textLength="90.14" lengthAdjust="spacingAndGlyphs" >2 Low Gene Expression + High Macrophage_TIMER</text>
<line x1="271.1" y1="246.7" x2="278.8" y2="246.7" stroke="#ff8c1a" stroke-width="1.6" />
<text x="280.9" y="248.4" font-size="4.9" fill="#3d3d3d" textLength="90.14" lengthAdjust="spacingAndGlyphs" >3 High Gene Expression + Low Macrophage_TIMER</text>
<line x1="271.1" y1="251.3" x2="278.8" y2="251.3" stroke="#d21131" stroke-width="1.6" />
<text x="280.9" y="253" font-size="4.9" fill="#3d3d3d" textLength="91" lengthAdjust="spacingAndGlyphs" >4 High Gene Expression + High Macrophage_TIMER</text>
<text x="231.9" y="341.6" font-size="6.2" font-weight="bold" fill="#161616" textLength="76.8" lengthAdjust="spacingAndGlyphs">2 vs 1: HR = 1.59, <tspan font-style="italic">p</tspan> = 0.0246</text>
<text x="231.9" y="347.8" font-size="6.2" font-weight="bold" fill="#161616" textLength="76.8" lengthAdjust="spacingAndGlyphs">4 vs 3: HR = 1.43, <tspan font-style="italic">p</tspan> = 0.158</text>
<rect x="395.6" y="232.7" width="149.4" height="117.5" fill="#fff" stroke="#8c8c8c" stroke-width="0.8" />
<line x1="393.2" y1="346.3" x2="395.6" y2="346.3" stroke="#777" stroke-width="0.6" />
<text x="388.8" y="346.3" font-size="7.5" fill="#1c1c1c" text-anchor="middle" transform="rotate(-90 388.8 346.3)" textLength="9.17" lengthAdjust="spacingAndGlyphs" >0.0</text>
<line x1="393.2" y1="324.48" x2="395.6" y2="324.48" stroke="#777" stroke-width="0.6" />
<text x="388.8" y="324.48" font-size="7.5" fill="#1c1c1c" text-anchor="middle" transform="rotate(-90 388.8 324.48)" textLength="9.17" lengthAdjust="spacingAndGlyphs" >0.2</text>
<line x1="393.2" y1="302.66" x2="395.6" y2="302.66" stroke="#777" stroke-width="0.6" />
<text x="388.8" y="302.66" font-size="7.5" fill="#1c1c1c" text-anchor="middle" transform="rotate(-90 388.8 302.66)" textLength="9.17" lengthAdjust="spacingAndGlyphs" >0.4</text>
<line x1="393.2" y1="280.84" x2="395.6" y2="280.84" stroke="#777" stroke-width="0.6" />
<text x="388.8" y="280.84" font-size="7.5" fill="#1c1c1c" text-anchor="middle" transform="rotate(-90 388.8 280.84)" textLength="9.17" lengthAdjust="spacingAndGlyphs" >0.6</text>
<line x1="393.2" y1="259.02" x2="395.6" y2="259.02" stroke="#777" stroke-width="0.6" />
<text x="388.8" y="259.02" font-size="7.5" fill="#1c1c1c" text-anchor="middle" transform="rotate(-90 388.8 259.02)" textLength="9.17" lengthAdjust="spacingAndGlyphs" >0.8</text>
<line x1="393.2" y1="237.2" x2="395.6" y2="237.2" stroke="#777" stroke-width="0.6" />
<text x="388.8" y="237.2" font-size="7.5" fill="#1c1c1c" text-anchor="middle" transform="rotate(-90 388.8 237.2)" textLength="9.17" lengthAdjust="spacingAndGlyphs" >1.0</text>
<line x1="401.1" y1="350.2" x2="401.1" y2="352.6" stroke="#777" stroke-width="0.6" />
<text x="401.1" y="361.2" font-size="7.5" fill="#1c1c1c" text-anchor="middle" textLength="3.67" lengthAdjust="spacingAndGlyphs" >0</text>
<line x1="423.74" y1="350.2" x2="423.74" y2="352.6" stroke="#777" stroke-width="0.6" />
<text x="423.74" y="361.2" font-size="7.5" fill="#1c1c1c" text-anchor="middle" textLength="7.34" lengthAdjust="spacingAndGlyphs" >20</text>
<line x1="446.38" y1="350.2" x2="446.38" y2="352.6" stroke="#777" stroke-width="0.6" />
<text x="446.38" y="361.2" font-size="7.5" fill="#1c1c1c" text-anchor="middle" textLength="7.34" lengthAdjust="spacingAndGlyphs" >40</text>
<line x1="469.02" y1="350.2" x2="469.02" y2="352.6" stroke="#777" stroke-width="0.6" />
<text x="469.02" y="361.2" font-size="7.5" fill="#1c1c1c" text-anchor="middle" textLength="7.34" lengthAdjust="spacingAndGlyphs" >60</text>
<line x1="491.66" y1="350.2" x2="491.66" y2="352.6" stroke="#777" stroke-width="0.6" />
<text x="491.66" y="361.2" font-size="7.5" fill="#1c1c1c" text-anchor="middle" textLength="7.34" lengthAdjust="spacingAndGlyphs" >80</text>
<line x1="514.3" y1="350.2" x2="514.3" y2="352.6" stroke="#777" stroke-width="0.6" />
<text x="514.3" y="361.2" font-size="7.5" fill="#1c1c1c" text-anchor="middle" textLength="11.01" lengthAdjust="spacingAndGlyphs" >100</text>
<line x1="536.94" y1="350.2" x2="536.94" y2="352.6" stroke="#777" stroke-width="0.6" />
<text x="536.94" y="361.2" font-size="7.5" fill="#1c1c1c" text-anchor="middle" textLength="11.01" lengthAdjust="spacingAndGlyphs" >120</text>
<path d="M401.8 237.1H403.3V242.2H407.6V243.6H409.05V245.8H410.5V248H412.7V249.8H414.9V251.6H417.1V253.05H419.3V254.5H420.75V256H422.2V257.5H423.65V260H425.1V262.5H426.55V264.7H428V266.9H429.8V268.7H431.6V270.5H436.7V271.3H439.6V273.5H444V275.6H445.45V277.05H446.9V278.5H448.37V279.97H449.83V281.43H451.3V282.9H452.7V287.3H454.15V289.45H455.6V291.6H461.5V293.1H462.95V294.55H464.4V296H466V298.1H470.6V298.1H471V305.3H480.4V305.3H480.8V307.3H493.4V307.3H494.2V321H518.5V321H518.5V346" stroke="#3aaee0" stroke-width="1.45" fill="none" stroke-linejoin="miter"/>
<path d="M401.8 237.1H402.5V242.9H406.2V245.1H408.35V246.9H410.5V248.7H412.7V250.55H414.9V252.4H417.1V254.2H419.3V256H421.45V257.8H423.6V259.6H425.05V261.8H426.5V264H427.97V265.7H429.43V267.4H430.9V269.1H432.4V274.2H433.8V277.1H442.5V277.8H443.97V279.27H445.43V280.73H446.9V282.2H452.7V282.9H461.5V282.9H463.75V284.8H466V286.7H468.3V286.7H468.7V289H481.2V289H481.7V302.2H496.4V302.2H496.9V311.1H518.5V311.1H518.9V319.9H523.5V319.9H523.9V328.6H530.6V328.6" stroke="#2b2ba6" stroke-width="1.45" fill="none" stroke-linejoin="miter"/>
<path d="M401.8 237.1H403.3V240H407.6V242.2H410.5V244.4H412.7V250.9H414.9V253.8H416.4V257.5H417.8V262.5H419.3V266.2H420.75V267.65H422.2V269.1H425.1V270.5H426.55V272H428V273.5H430.9V275.6H432.4V281.5H433.8V283.6H436.7V284.4H438.2V289.5H442.5V290.2H454.2V290.2H460V291.6H461.5V293.1H463V300H465V306.2H539.8V306.2" stroke="#ff8c1a" stroke-width="1.45" fill="none" stroke-linejoin="miter"/>
<path d="M401.8 237.1H404V243.6H405.45V246.55H406.9V249.5H408.7V253.1H410.5V256.7H412V258.9H413.5V261.1H414.95V264.75H416.4V268.4H417.85V269.85H419.3V271.3H423.6V272H426.5V274.2H428V276.35H429.5V278.5H431.65V280.35H433.8V282.2H438.2V284.4H439.63V285.83H441.07V287.27H442.5V288.7H448.4V290.2H451.3V291.65H454.2V293.1H457.1V294.55H460V296H462.2V297.45H464.4V298.9H466V302.2H469.8V302.2H470.6V306.2H493.4V306.2H494.1V312.6H496.4V312.6H496.9V321H523.5V321H523.9V333.6H532.2V333.6" stroke="#d21131" stroke-width="1.45" fill="none" stroke-linejoin="miter"/>
<line x1="425" y1="236.6" x2="433.3" y2="236.6" stroke="#2b2ba6" stroke-width="1.6" />
<text x="435.6" y="238.3" font-size="4.9" fill="#3d3d3d" textLength="103.68" lengthAdjust="spacingAndGlyphs" >1 Low Gene Expression + Low Myeloid dendritic cell_TIMER</text>
<line x1="425" y1="241.2" x2="433.3" y2="241.2" stroke="#3aaee0" stroke-width="1.6" />
<text x="435.6" y="242.9" font-size="4.9" fill="#3d3d3d" textLength="104.54" lengthAdjust="spacingAndGlyphs" >2 Low Gene Expression + High Myeloid dendritic cell_TIMER</text>
<line x1="425" y1="245.7" x2="433.3" y2="245.7" stroke="#ff8c1a" stroke-width="1.6" />
<text x="435.6" y="247.4" font-size="4.9" fill="#3d3d3d" textLength="104.54" lengthAdjust="spacingAndGlyphs" >3 High Gene Expression + Low Myeloid dendritic cell_TIMER</text>
<line x1="425" y1="250.3" x2="433.3" y2="250.3" stroke="#d21131" stroke-width="1.6" />
<text x="435.6" y="252" font-size="4.9" fill="#3d3d3d" textLength="105.4" lengthAdjust="spacingAndGlyphs" >4 High Gene Expression + High Myeloid dendritic cell_TIMER</text>
<text x="400.3" y="341.1" font-size="6.2" font-weight="bold" fill="#161616" textLength="73" lengthAdjust="spacingAndGlyphs">2 vs 1: HR = 1.12, <tspan font-style="italic">p</tspan> = 0.596</text>
<text x="400.3" y="346.7" font-size="6.2" font-weight="bold" fill="#161616" textLength="73" lengthAdjust="spacingAndGlyphs">4 vs 3: HR = 1.21, <tspan font-style="italic">p</tspan> = 0.461</text>
<rect x="58.6" y="367.7" width="148.6" height="118.8" fill="#fff" stroke="#8c8c8c" stroke-width="0.8" />
<line x1="56.2" y1="482.7" x2="58.6" y2="482.7" stroke="#777" stroke-width="0.6" />
<text x="51.8" y="482.7" font-size="7.5" fill="#1c1c1c" text-anchor="middle" transform="rotate(-90 51.8 482.7)" textLength="9.17" lengthAdjust="spacingAndGlyphs" >0.0</text>
<line x1="56.2" y1="460.58" x2="58.6" y2="460.58" stroke="#777" stroke-width="0.6" />
<text x="51.8" y="460.58" font-size="7.5" fill="#1c1c1c" text-anchor="middle" transform="rotate(-90 51.8 460.58)" textLength="9.17" lengthAdjust="spacingAndGlyphs" >0.2</text>
<line x1="56.2" y1="438.46" x2="58.6" y2="438.46" stroke="#777" stroke-width="0.6" />
<text x="51.8" y="438.46" font-size="7.5" fill="#1c1c1c" text-anchor="middle" transform="rotate(-90 51.8 438.46)" textLength="9.17" lengthAdjust="spacingAndGlyphs" >0.4</text>
<line x1="56.2" y1="416.34" x2="58.6" y2="416.34" stroke="#777" stroke-width="0.6" />
<text x="51.8" y="416.34" font-size="7.5" fill="#1c1c1c" text-anchor="middle" transform="rotate(-90 51.8 416.34)" textLength="9.17" lengthAdjust="spacingAndGlyphs" >0.6</text>
<line x1="56.2" y1="394.22" x2="58.6" y2="394.22" stroke="#777" stroke-width="0.6" />
<text x="51.8" y="394.22" font-size="7.5" fill="#1c1c1c" text-anchor="middle" transform="rotate(-90 51.8 394.22)" textLength="9.17" lengthAdjust="spacingAndGlyphs" >0.8</text>
<line x1="56.2" y1="372.1" x2="58.6" y2="372.1" stroke="#777" stroke-width="0.6" />
<text x="51.8" y="372.1" font-size="7.5" fill="#1c1c1c" text-anchor="middle" transform="rotate(-90 51.8 372.1)" textLength="9.17" lengthAdjust="spacingAndGlyphs" >1.0</text>
<line x1="63.8" y1="486.5" x2="63.8" y2="488.9" stroke="#777" stroke-width="0.6" />
<text x="63.8" y="496.9" font-size="7.5" fill="#1c1c1c" text-anchor="middle" textLength="3.67" lengthAdjust="spacingAndGlyphs" >0</text>
<line x1="86.4" y1="486.5" x2="86.4" y2="488.9" stroke="#777" stroke-width="0.6" />
<text x="86.4" y="496.9" font-size="7.5" fill="#1c1c1c" text-anchor="middle" textLength="7.34" lengthAdjust="spacingAndGlyphs" >20</text>
<line x1="109" y1="486.5" x2="109" y2="488.9" stroke="#777" stroke-width="0.6" />
<text x="109" y="496.9" font-size="7.5" fill="#1c1c1c" text-anchor="middle" textLength="7.34" lengthAdjust="spacingAndGlyphs" >40</text>
<line x1="131.6" y1="486.5" x2="131.6" y2="488.9" stroke="#777" stroke-width="0.6" />
<text x="131.6" y="496.9" font-size="7.5" fill="#1c1c1c" text-anchor="middle" textLength="7.34" lengthAdjust="spacingAndGlyphs" >60</text>
<line x1="154.2" y1="486.5" x2="154.2" y2="488.9" stroke="#777" stroke-width="0.6" />
<text x="154.2" y="496.9" font-size="7.5" fill="#1c1c1c" text-anchor="middle" textLength="7.34" lengthAdjust="spacingAndGlyphs" >80</text>
<line x1="176.8" y1="486.5" x2="176.8" y2="488.9" stroke="#777" stroke-width="0.6" />
<text x="176.8" y="496.9" font-size="7.5" fill="#1c1c1c" text-anchor="middle" textLength="11.01" lengthAdjust="spacingAndGlyphs" >100</text>
<line x1="199.4" y1="486.5" x2="199.4" y2="488.9" stroke="#777" stroke-width="0.6" />
<text x="199.4" y="496.9" font-size="7.5" fill="#1c1c1c" text-anchor="middle" textLength="11.01" lengthAdjust="spacingAndGlyphs" >120</text>
<path d="M64.1 371.5H65.7V376.75H67.3V382H70.2V383.5H73.1V384.9H76V387.1H77.45V388.9H78.9V390.7H80.35V392.9H81.8V395.1H83.27V397.03H84.73V398.97H86.2V400.9H87.63V402.83H89.07V404.77H90.5V406.7H91.97V408.17H93.43V409.63H94.9V411.1H97.8V412.5H105.1V412.5H106.5V416.9H108V418.35H109.5V419.8H113.8V421.3H116V428H120V430H124V432H128V434H132V436H142V438H144V452H156V453H158V457H160V462H188V462" stroke="#3aaee0" stroke-width="1.45" fill="none" stroke-linejoin="miter"/>
<path d="M64.1 371.5H65.8V376.2H68V377.65H70.2V379.1H71.63V380.57H73.07V382.03H74.5V383.5H76.7V384.95H78.9V386.4H80.35V387.85H81.8V389.3H86.9V389.3H87.6V391.5H89.05V394H90.5V396.5H92V398.7H93.5V400.9H94.95V403.8H96.4V406.7H103.6V408.2H105.07V409.63H106.53V411.07H108V412.5H112.4V414H118.2V415.5H124V416.9H126V418.45H128V420H130V422H132V424H144V424H145V428H158V428H158.4V439H181V439H181.6V460H186V460H186.4V471H193V471" stroke="#2b2ba6" stroke-width="1.45" fill="none" stroke-linejoin="miter"/>
<path d="M64.1 371.5H66.5V374.7H71.6V376.2H73.05V378.35H74.5V380.5H76V383.45H77.5V386.4H78.9V393.6H81.1V399.5H84V401.6H85.8V403.05H87.6V404.5H94.9V406H95.6V408.2H115.3V408.2H116.7V412.5H126.9V412.5H128.4V418.4H130.2V420.7H132V423H133V425H158V425H158.6V439H203V439" stroke="#ff8c1a" stroke-width="1.45" fill="none" stroke-linejoin="miter"/>
<path d="M64.1 371.5H65.8V376.9H67.25V380.55H68.7V384.2H70.15V387.45H71.6V390.7H73.05V394H74.5V397.3H76V399.85H77.5V402.4H78.93V403.83H80.37V405.27H81.8V406.7H86.2V408.9H90.5V411.1H92V415.5H93.45V418.4H94.9V421.3H96.35V423.45H97.8V425.6H99.25V427.8H100.7V430H103.35V432H106V434H109V436H112V438H120V440H122V444H124V446H126V448H128V452H156V452H157V458H186V458H186.4V482" stroke="#d21131" stroke-width="1.45" fill="none" stroke-linejoin="miter"/>
<line x1="106" y1="371.4" x2="113.6" y2="371.4" stroke="#2b2ba6" stroke-width="1.6" />
<text x="117" y="373.1" font-size="4.9" fill="#3d3d3d" textLength="85.68" lengthAdjust="spacingAndGlyphs" >1 Low Gene Expression + Low Neutrophil_TIMER</text>
<line x1="106" y1="376" x2="113.6" y2="376" stroke="#3aaee0" stroke-width="1.6" />
<text x="117" y="377.7" font-size="4.9" fill="#3d3d3d" textLength="86.54" lengthAdjust="spacingAndGlyphs" >2 Low Gene Expression + High Neutrophil_TIMER</text>
<line x1="106" y1="381" x2="113.6" y2="381" stroke="#ff8c1a" stroke-width="1.6" />
<text x="117" y="382.7" font-size="4.9" fill="#3d3d3d" textLength="86.54" lengthAdjust="spacingAndGlyphs" >3 High Gene Expression + Low Neutrophil_TIMER</text>
<line x1="106" y1="385.6" x2="113.6" y2="385.6" stroke="#d21131" stroke-width="1.6" />
<text x="117" y="387.3" font-size="4.9" fill="#3d3d3d" textLength="87.4" lengthAdjust="spacingAndGlyphs" >4 High Gene Expression + High Neutrophil_TIMER</text>
<text x="62.9" y="475.5" font-size="6.2" font-weight="bold" fill="#161616" textLength="70" lengthAdjust="spacingAndGlyphs">2 vs 1: HR = 1.4, <tspan font-style="italic">p</tspan> = 0.104</text>
<text x="62.9" y="481.2" font-size="6.2" font-weight="bold" fill="#161616" textLength="79.6" lengthAdjust="spacingAndGlyphs">4 vs 3: HR = 1.94, <tspan font-style="italic">p</tspan> = 0.00981</text>
<rect x="226.6" y="368.1" width="149.4" height="118.4" fill="#fff" stroke="#8c8c8c" stroke-width="0.8" />
<line x1="224.2" y1="482.4" x2="226.6" y2="482.4" stroke="#777" stroke-width="0.6" />
<text x="219.8" y="482.4" font-size="7.5" fill="#1c1c1c" text-anchor="middle" transform="rotate(-90 219.8 482.4)" textLength="9.17" lengthAdjust="spacingAndGlyphs" >0.0</text>
<line x1="224.2" y1="460.38" x2="226.6" y2="460.38" stroke="#777" stroke-width="0.6" />
<text x="219.8" y="460.38" font-size="7.5" fill="#1c1c1c" text-anchor="middle" transform="rotate(-90 219.8 460.38)" textLength="9.17" lengthAdjust="spacingAndGlyphs" >0.2</text>
<line x1="224.2" y1="438.36" x2="226.6" y2="438.36" stroke="#777" stroke-width="0.6" />
<text x="219.8" y="438.36" font-size="7.5" fill="#1c1c1c" text-anchor="middle" transform="rotate(-90 219.8 438.36)" textLength="9.17" lengthAdjust="spacingAndGlyphs" >0.4</text>
<line x1="224.2" y1="416.34" x2="226.6" y2="416.34" stroke="#777" stroke-width="0.6" />
<text x="219.8" y="416.34" font-size="7.5" fill="#1c1c1c" text-anchor="middle" transform="rotate(-90 219.8 416.34)" textLength="9.17" lengthAdjust="spacingAndGlyphs" >0.6</text>
<line x1="224.2" y1="394.32" x2="226.6" y2="394.32" stroke="#777" stroke-width="0.6" />
<text x="219.8" y="394.32" font-size="7.5" fill="#1c1c1c" text-anchor="middle" transform="rotate(-90 219.8 394.32)" textLength="9.17" lengthAdjust="spacingAndGlyphs" >0.8</text>
<line x1="224.2" y1="372.3" x2="226.6" y2="372.3" stroke="#777" stroke-width="0.6" />
<text x="219.8" y="372.3" font-size="7.5" fill="#1c1c1c" text-anchor="middle" transform="rotate(-90 219.8 372.3)" textLength="9.17" lengthAdjust="spacingAndGlyphs" >1.0</text>
<line x1="232.2" y1="486.5" x2="232.2" y2="488.9" stroke="#777" stroke-width="0.6" />
<text x="232.2" y="496.9" font-size="7.5" fill="#1c1c1c" text-anchor="middle" textLength="3.67" lengthAdjust="spacingAndGlyphs" >0</text>
<line x1="254.72" y1="486.5" x2="254.72" y2="488.9" stroke="#777" stroke-width="0.6" />
<text x="254.72" y="496.9" font-size="7.5" fill="#1c1c1c" text-anchor="middle" textLength="7.34" lengthAdjust="spacingAndGlyphs" >20</text>
<line x1="277.24" y1="486.5" x2="277.24" y2="488.9" stroke="#777" stroke-width="0.6" />
<text x="277.24" y="496.9" font-size="7.5" fill="#1c1c1c" text-anchor="middle" textLength="7.34" lengthAdjust="spacingAndGlyphs" >40</text>
<line x1="299.76" y1="486.5" x2="299.76" y2="488.9" stroke="#777" stroke-width="0.6" />
<text x="299.76" y="496.9" font-size="7.5" fill="#1c1c1c" text-anchor="middle" textLength="7.34" lengthAdjust="spacingAndGlyphs" >60</text>
<line x1="322.28" y1="486.5" x2="322.28" y2="488.9" stroke="#777" stroke-width="0.6" />
<text x="322.28" y="496.9" font-size="7.5" fill="#1c1c1c" text-anchor="middle" textLength="7.34" lengthAdjust="spacingAndGlyphs" >80</text>
<line x1="344.8" y1="486.5" x2="344.8" y2="488.9" stroke="#777" stroke-width="0.6" />
<text x="344.8" y="496.9" font-size="7.5" fill="#1c1c1c" text-anchor="middle" textLength="11.01" lengthAdjust="spacingAndGlyphs" >100</text>
<line x1="367.32" y1="486.5" x2="367.32" y2="488.9" stroke="#777" stroke-width="0.6" />
<text x="367.32" y="496.9" font-size="7.5" fill="#1c1c1c" text-anchor="middle" textLength="11.01" lengthAdjust="spacingAndGlyphs" >120</text>
<path d="M232.4 371.8H233.83V374.23H235.27V376.67H236.7V379.1H239.6V380.5H241.07V381.97H242.53V383.43H244V384.9H245.47V386.37H246.93V387.83H248.4V389.3H250.55V391.1H252.7V392.9H254.15V395.45H255.6V398H257.05V399.45H258.5V400.9H265.8V401.6H270.2V403.1H273.1V405.3H275.3V406.75H277.5V408.2H278.95V410.35H280.4V412.5H284V414H288V416H290V418H292V420H294V424H298V426H300V430H324V430H325V436H326V446H327V464H335V464" stroke="#3aaee0" stroke-width="1.45" fill="none" stroke-linejoin="miter"/>
<path d="M232.4 371.8H233.85V374.7H235.3V377.6H236.75V379.05H238.2V380.5H240.35V382.35H242.5V384.2H244.7V386H246.9V387.8H249.1V389.65H251.3V391.5H252.75V393.3H254.2V395.1H255.65V398.75H257.1V402.4H258.55V403.85H260V405.3H261.45V408.2H262.9V411.1H264.4V415.5H275V415H276V418H283V419H284V422H288V424H294V425H296V429H300V430H311V430H312V447H349V447H350V461H354V461H355V468H362V468" stroke="#2b2ba6" stroke-width="1.45" fill="none" stroke-linejoin="miter"/>
<path d="M232.4 371.8H233.8V379.1H235.27V381.03H236.73V382.97H238.2V384.9H239.63V388.3H241.07V391.7H242.5V395.1H243.97V398H245.43V400.9H246.9V403.8H249.8V405.25H252.7V406.7H257.1V406.7H260V408.2H261.45V411.1H262.9V414H264.4V419.8H266V423H268V425.5H270V428H272V434H274V438H290V438H291V442H293V447H295V452H296V458H372V458" stroke="#ff8c1a" stroke-width="1.45" fill="none" stroke-linejoin="miter"/>
<path d="M232.4 371.8H233.83V373.5H235.27V375.2H236.7V376.9H238.17V379.57H239.63V382.23H241.1V384.9H242.55V388.55H244V392.2H245.47V395.1H246.93V398H248.4V400.9H249.83V402.37H251.27V403.83H252.7V405.3H254.9V406.75H257.1V408.2H258.55V409.65H260V411.1H261.45V412.55H262.9V414H268.7V414H275V415H277V417H284V418H286V421H288V424H302V424H303V428H324V428H325V436H327V446H354V446H355V458H364V458" stroke="#d21131" stroke-width="1.45" fill="none" stroke-linejoin="miter"/>
<line x1="272.1" y1="372.1" x2="279.8" y2="372.1" stroke="#2b2ba6" stroke-width="1.6" />
<text x="282.3" y="373.8" font-size="4.9" fill="#3d3d3d" textLength="89.45" lengthAdjust="spacingAndGlyphs" >1 Low Gene Expression + Low T cell CD4+_TIMER</text>
<line x1="272.1" y1="376.6" x2="279.8" y2="376.6" stroke="#3aaee0" stroke-width="1.6" />
<text x="282.3" y="378.3" font-size="4.9" fill="#3d3d3d" textLength="90.33" lengthAdjust="spacingAndGlyphs" >2 Low Gene Expression + High T cell CD4+_TIMER</text>
<line x1="272.1" y1="381.3" x2="279.8" y2="381.3" stroke="#ff8c1a" stroke-width="1.6" />
<text x="282.3" y="383" font-size="4.9" fill="#3d3d3d" textLength="90.33" lengthAdjust="spacingAndGlyphs" >3 High Gene Expression + Low T cell CD4+_TIMER</text>
<line x1="272.1" y1="386" x2="279.8" y2="386" stroke="#d21131" stroke-width="1.6" />
<text x="282.3" y="387.7" font-size="4.9" fill="#3d3d3d" textLength="91.2" lengthAdjust="spacingAndGlyphs" >4 High Gene Expression + High T cell CD4+_TIMER</text>
<text x="230.8" y="475.5" font-size="6.2" font-weight="bold" fill="#161616" textLength="72.9" lengthAdjust="spacingAndGlyphs">2 vs 1: HR = 0.86, <tspan font-style="italic">p</tspan> = 0.484</text>
<text x="230.8" y="481.7" font-size="6.2" font-weight="bold" fill="#161616" textLength="76.3" lengthAdjust="spacingAndGlyphs">4 vs 3: HR = 0.723, <tspan font-style="italic">p</tspan> = 0.181</text>
<rect x="395.6" y="367.3" width="149.4" height="118.9" fill="#fff" stroke="#8c8c8c" stroke-width="0.8" />
<line x1="393.2" y1="482.7" x2="395.6" y2="482.7" stroke="#777" stroke-width="0.6" />
<text x="388.8" y="482.7" font-size="7.5" fill="#1c1c1c" text-anchor="middle" transform="rotate(-90 388.8 482.7)" textLength="9.17" lengthAdjust="spacingAndGlyphs" >0.0</text>
<line x1="393.2" y1="460.44" x2="395.6" y2="460.44" stroke="#777" stroke-width="0.6" />
<text x="388.8" y="460.44" font-size="7.5" fill="#1c1c1c" text-anchor="middle" transform="rotate(-90 388.8 460.44)" textLength="9.17" lengthAdjust="spacingAndGlyphs" >0.2</text>
<line x1="393.2" y1="438.18" x2="395.6" y2="438.18" stroke="#777" stroke-width="0.6" />
<text x="388.8" y="438.18" font-size="7.5" fill="#1c1c1c" text-anchor="middle" transform="rotate(-90 388.8 438.18)" textLength="9.17" lengthAdjust="spacingAndGlyphs" >0.4</text>
<line x1="393.2" y1="415.92" x2="395.6" y2="415.92" stroke="#777" stroke-width="0.6" />
<text x="388.8" y="415.92" font-size="7.5" fill="#1c1c1c" text-anchor="middle" transform="rotate(-90 388.8 415.92)" textLength="9.17" lengthAdjust="spacingAndGlyphs" >0.6</text>
<line x1="393.2" y1="393.66" x2="395.6" y2="393.66" stroke="#777" stroke-width="0.6" />
<text x="388.8" y="393.66" font-size="7.5" fill="#1c1c1c" text-anchor="middle" transform="rotate(-90 388.8 393.66)" textLength="9.17" lengthAdjust="spacingAndGlyphs" >0.8</text>
<line x1="393.2" y1="371.4" x2="395.6" y2="371.4" stroke="#777" stroke-width="0.6" />
<text x="388.8" y="371.4" font-size="7.5" fill="#1c1c1c" text-anchor="middle" transform="rotate(-90 388.8 371.4)" textLength="9.17" lengthAdjust="spacingAndGlyphs" >1.0</text>
<line x1="402" y1="486.2" x2="402" y2="488.6" stroke="#777" stroke-width="0.6" />
<text x="402" y="496.9" font-size="7.5" fill="#1c1c1c" text-anchor="middle" textLength="3.67" lengthAdjust="spacingAndGlyphs" >0</text>
<line x1="424.5" y1="486.2" x2="424.5" y2="488.6" stroke="#777" stroke-width="0.6" />
<text x="424.5" y="496.9" font-size="7.5" fill="#1c1c1c" text-anchor="middle" textLength="7.34" lengthAdjust="spacingAndGlyphs" >20</text>
<line x1="447" y1="486.2" x2="447" y2="488.6" stroke="#777" stroke-width="0.6" />
<text x="447" y="496.9" font-size="7.5" fill="#1c1c1c" text-anchor="middle" textLength="7.34" lengthAdjust="spacingAndGlyphs" >40</text>
<line x1="469.5" y1="486.2" x2="469.5" y2="488.6" stroke="#777" stroke-width="0.6" />
<text x="469.5" y="496.9" font-size="7.5" fill="#1c1c1c" text-anchor="middle" textLength="7.34" lengthAdjust="spacingAndGlyphs" >60</text>
<line x1="492" y1="486.2" x2="492" y2="488.6" stroke="#777" stroke-width="0.6" />
<text x="492" y="496.9" font-size="7.5" fill="#1c1c1c" text-anchor="middle" textLength="7.34" lengthAdjust="spacingAndGlyphs" >80</text>
<line x1="514.5" y1="486.2" x2="514.5" y2="488.6" stroke="#777" stroke-width="0.6" />
<text x="514.5" y="496.9" font-size="7.5" fill="#1c1c1c" text-anchor="middle" textLength="11.01" lengthAdjust="spacingAndGlyphs" >100</text>
<line x1="537" y1="486.2" x2="537" y2="488.6" stroke="#777" stroke-width="0.6" />
<text x="537" y="496.9" font-size="7.5" fill="#1c1c1c" text-anchor="middle" textLength="11.01" lengthAdjust="spacingAndGlyphs" >120</text>
<path d="M401.5 371.1H403.3V376.9H404.75V378.35H406.2V379.8H408.1V381.15H410V382.5H412V385.25H414V388H415.8V389.75H417.6V391.5H419.3V393.75H421V396H423V398.25H425V400.5H426.5V402.25H428V404H429.8V405.7H431.6V407.4H443.7V407.4H444.4V411.2H452.6V411.2H453.2V418.2H456.4V420.1H459.6V422H460.9V427.1H462.2V432.2H470V432.2H470.5V435.4H481V436H482V441H494V441H495V449H519V449H520V460H532V460" stroke="#3aaee0" stroke-width="1.45" fill="none" stroke-linejoin="miter"/>
<path d="M401.5 371.1H403.3V376.2H404.73V377.63H406.17V379.07H407.6V380.5H410V382.5H411.9V384.75H413.8V387H415.7V389.25H417.6V391.5H420.15V393.4H422.7V395.3H424.6V398.8H426.5V402.3H428.2V404.63H429.9V406.97H431.6V409.3H433.5V411.8H438V412.5H441.8V413.7H443.7V415H445.6V416.3H446.9V417.9H448.2V419.5H450.7V421.4H463.5V421.4H466V423.9H468.5V423.9H469.8V426.5H482V426.5H482.4V436H494V436H494.4V450H519V450H519.6V467H524V467H524.4V482" stroke="#2b2ba6" stroke-width="1.45" fill="none" stroke-linejoin="miter"/>
<path d="M401.5 371.1H403.3V376.2H406.2V376.9H408.35V378.7H410.5V380.5H411.3V385.1H413.8V392.7H415.1V395.9H416.4V399.1H418.9V402.9H421.5V404.2H424V405.5H425.3V409.3H427.8V413.1H431.6V414.4H434.2V416.3H435.5V418.2H438V419.5H464.7V419.5H465.4V427.1H471.1V427.1H471.7V434.7H497V435H498V451H533V451" stroke="#ff8c1a" stroke-width="1.45" fill="none" stroke-linejoin="miter"/>
<path d="M401.5 371.1H404V376.9H406.2V383.5H408V388.5H410V392.5H412.5V398H413.8V399.8H415.1V401.6H417V402.9H418.9V404.2H422.7V404.8H426.5V405.5H427.8V408H429.1V410.5H431.6V414.4H432.9V416.3H434.2V418.2H436.7V419.5H439.3V422H441.8V424.5H443.1V426.45H444.4V428.4H448.2V429H452V429.6H454.5V432.2H457.1V434.7H459.6V437.3H462.2V439.8H464V442H466V445H493V445H494V451H524V451H525V466H540V466" stroke="#d21131" stroke-width="1.45" fill="none" stroke-linejoin="miter"/>
<line x1="442" y1="371" x2="449.6" y2="371" stroke="#2b2ba6" stroke-width="1.6" />
<text x="451.6" y="372.7" font-size="4.9" fill="#3d3d3d" textLength="88.67" lengthAdjust="spacingAndGlyphs" >1 Low Gene Expression + Low T cell CD8+_TIMER</text>
<line x1="442" y1="375.4" x2="449.6" y2="375.4" stroke="#3aaee0" stroke-width="1.6" />
<text x="451.6" y="377.1" font-size="4.9" fill="#3d3d3d" textLength="89.53" lengthAdjust="spacingAndGlyphs" >2 Low Gene Expression + High T cell CD8+_TIMER</text>
<line x1="442" y1="380.4" x2="449.6" y2="380.4" stroke="#ff8c1a" stroke-width="1.6" />
<text x="451.6" y="382.1" font-size="4.9" fill="#3d3d3d" textLength="89.53" lengthAdjust="spacingAndGlyphs" >3 High Gene Expression + Low T cell CD8+_TIMER</text>
<line x1="442" y1="385" x2="449.6" y2="385" stroke="#d21131" stroke-width="1.6" />
<text x="451.6" y="386.7" font-size="4.9" fill="#3d3d3d" textLength="90.4" lengthAdjust="spacingAndGlyphs" >4 High Gene Expression + High T cell CD8+_TIMER</text>
<text x="400.6" y="475.8" font-size="6.2" font-weight="bold" fill="#161616" textLength="73.4" lengthAdjust="spacingAndGlyphs">2 vs 1: HR = 0.964, <tspan font-style="italic">p</tspan> = 0.86</text>
<text x="400.6" y="481.7" font-size="6.2" font-weight="bold" fill="#161616" textLength="70.4" lengthAdjust="spacingAndGlyphs">4 vs 3: HR = 1.23, <tspan font-style="italic">p</tspan> = 0.388</text>
</svg></body></html>
